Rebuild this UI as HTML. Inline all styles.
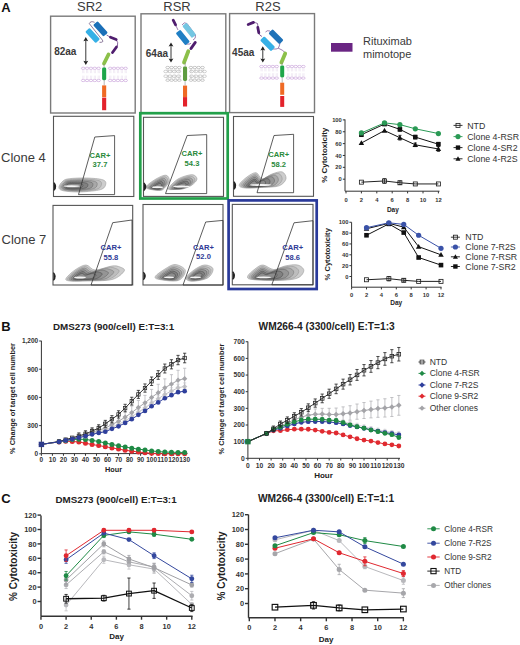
<!DOCTYPE html>
<html><head><meta charset="utf-8"><style>
html,body{margin:0;padding:0;background:#fff;width:520px;height:645px;overflow:hidden}
svg{display:block}
text{font-family:"Liberation Sans", sans-serif}
</style></head><body>
<svg width="520" height="645" viewBox="0 0 520 645" font-family='"Liberation Sans", sans-serif'>
<rect x="0.00" y="0.00" width="520.00" height="645.00" fill="#ffffff" stroke="none" stroke-width="1" />
<text x="1.20" y="11.80" font-size="13" font-weight="bold" text-anchor="start" fill="#111" >A</text>
<text x="89.70" y="11.00" font-size="13" font-weight="normal" text-anchor="middle" fill="#3a3a3a" >SR2</text>
<text x="177.00" y="10.60" font-size="13" font-weight="normal" text-anchor="middle" fill="#3a3a3a" >RSR</text>
<text x="268.00" y="10.60" font-size="13" font-weight="normal" text-anchor="middle" fill="#3a3a3a" >R2S</text>
<rect x="50.60" y="16.20" width="84.60" height="96.80" fill="none" stroke="#7a7a7a" stroke-width="1.4" />
<rect x="141.00" y="13.80" width="84.80" height="99.00" fill="none" stroke="#7a7a7a" stroke-width="1.4" />
<rect x="229.60" y="13.60" width="84.90" height="99.00" fill="none" stroke="#7a7a7a" stroke-width="1.4" />
<rect x="331.00" y="43.00" width="21.50" height="8.70" fill="#6a2583" stroke="none" stroke-width="1" />
<text x="363.00" y="45.30" font-size="11" font-weight="normal" text-anchor="start" fill="#3a3a3a" >Rituximab</text>
<text x="363.00" y="57.80" font-size="11" font-weight="normal" text-anchor="start" fill="#3a3a3a" >mimotope</text>
<text x="54.20" y="54.60" font-size="10" font-weight="bold" text-anchor="start" fill="#3a3a3a" >82aa</text>
<line x1="85.80" y1="39.50" x2="85.80" y2="62.50" stroke="#222" stroke-width="0.9" />
<polygon points="85.80,37.00 88.20,41.20 85.80,40.40 83.40,41.20" stroke="none" stroke-width="1" fill="#222" />
<polygon points="85.80,65.00 88.20,60.80 85.80,61.60 83.40,60.80" stroke="none" stroke-width="1" fill="#222" />
<ellipse cx="83.20" cy="68.30" rx="1.85" ry="1.15" fill="none" stroke="#c49ad6" stroke-width="0.6"/>
<path d="M82.60,69.60 L82.80,73.20 M83.80,69.60 L84.00,73.20" fill="none" stroke="#e4d8ea" stroke-width="0.5"/>
<ellipse cx="87.05" cy="68.30" rx="1.85" ry="1.15" fill="none" stroke="#c49ad6" stroke-width="0.6"/>
<path d="M86.45,69.60 L86.65,73.20 M87.65,69.60 L87.85,73.20" fill="none" stroke="#e4d8ea" stroke-width="0.5"/>
<ellipse cx="90.91" cy="68.30" rx="1.85" ry="1.15" fill="none" stroke="#c49ad6" stroke-width="0.6"/>
<path d="M90.31,69.60 L90.51,73.20 M91.51,69.60 L91.71,73.20" fill="none" stroke="#e4d8ea" stroke-width="0.5"/>
<ellipse cx="94.76" cy="68.30" rx="1.85" ry="1.15" fill="none" stroke="#c49ad6" stroke-width="0.6"/>
<path d="M94.16,69.60 L94.36,73.20 M95.36,69.60 L95.56,73.20" fill="none" stroke="#e4d8ea" stroke-width="0.5"/>
<ellipse cx="98.62" cy="68.30" rx="1.85" ry="1.15" fill="none" stroke="#c49ad6" stroke-width="0.6"/>
<path d="M98.02,69.60 L98.22,73.20 M99.22,69.60 L99.42,73.20" fill="none" stroke="#e4d8ea" stroke-width="0.5"/>
<ellipse cx="110.18" cy="68.30" rx="1.85" ry="1.15" fill="none" stroke="#c49ad6" stroke-width="0.6"/>
<path d="M109.58,69.60 L109.78,73.20 M110.78,69.60 L110.98,73.20" fill="none" stroke="#e4d8ea" stroke-width="0.5"/>
<ellipse cx="114.04" cy="68.30" rx="1.85" ry="1.15" fill="none" stroke="#c49ad6" stroke-width="0.6"/>
<path d="M113.44,69.60 L113.64,73.20 M114.64,69.60 L114.84,73.20" fill="none" stroke="#e4d8ea" stroke-width="0.5"/>
<ellipse cx="117.89" cy="68.30" rx="1.85" ry="1.15" fill="none" stroke="#c49ad6" stroke-width="0.6"/>
<path d="M117.29,69.60 L117.49,73.20 M118.49,69.60 L118.69,73.20" fill="none" stroke="#e4d8ea" stroke-width="0.5"/>
<ellipse cx="121.75" cy="68.30" rx="1.85" ry="1.15" fill="none" stroke="#c49ad6" stroke-width="0.6"/>
<path d="M121.15,69.60 L121.35,73.20 M122.35,69.60 L122.55,73.20" fill="none" stroke="#e4d8ea" stroke-width="0.5"/>
<ellipse cx="125.60" cy="68.30" rx="1.85" ry="1.15" fill="none" stroke="#c49ad6" stroke-width="0.6"/>
<path d="M125.00,69.60 L125.20,73.20 M126.20,69.60 L126.40,73.20" fill="none" stroke="#e4d8ea" stroke-width="0.5"/>
<ellipse cx="83.20" cy="80.50" rx="1.85" ry="1.15" fill="none" stroke="#c49ad6" stroke-width="0.6"/>
<path d="M82.60,79.20 L82.80,75.60 M83.80,79.20 L84.00,75.60" fill="none" stroke="#e4d8ea" stroke-width="0.5"/>
<ellipse cx="87.05" cy="80.50" rx="1.85" ry="1.15" fill="none" stroke="#c49ad6" stroke-width="0.6"/>
<path d="M86.45,79.20 L86.65,75.60 M87.65,79.20 L87.85,75.60" fill="none" stroke="#e4d8ea" stroke-width="0.5"/>
<ellipse cx="90.91" cy="80.50" rx="1.85" ry="1.15" fill="none" stroke="#c49ad6" stroke-width="0.6"/>
<path d="M90.31,79.20 L90.51,75.60 M91.51,79.20 L91.71,75.60" fill="none" stroke="#e4d8ea" stroke-width="0.5"/>
<ellipse cx="94.76" cy="80.50" rx="1.85" ry="1.15" fill="none" stroke="#c49ad6" stroke-width="0.6"/>
<path d="M94.16,79.20 L94.36,75.60 M95.36,79.20 L95.56,75.60" fill="none" stroke="#e4d8ea" stroke-width="0.5"/>
<ellipse cx="98.62" cy="80.50" rx="1.85" ry="1.15" fill="none" stroke="#c49ad6" stroke-width="0.6"/>
<path d="M98.02,79.20 L98.22,75.60 M99.22,79.20 L99.42,75.60" fill="none" stroke="#e4d8ea" stroke-width="0.5"/>
<ellipse cx="110.18" cy="80.50" rx="1.85" ry="1.15" fill="none" stroke="#c49ad6" stroke-width="0.6"/>
<path d="M109.58,79.20 L109.78,75.60 M110.78,79.20 L110.98,75.60" fill="none" stroke="#e4d8ea" stroke-width="0.5"/>
<ellipse cx="114.04" cy="80.50" rx="1.85" ry="1.15" fill="none" stroke="#c49ad6" stroke-width="0.6"/>
<path d="M113.44,79.20 L113.64,75.60 M114.64,79.20 L114.84,75.60" fill="none" stroke="#e4d8ea" stroke-width="0.5"/>
<ellipse cx="117.89" cy="80.50" rx="1.85" ry="1.15" fill="none" stroke="#c49ad6" stroke-width="0.6"/>
<path d="M117.29,79.20 L117.49,75.60 M118.49,79.20 L118.69,75.60" fill="none" stroke="#e4d8ea" stroke-width="0.5"/>
<ellipse cx="121.75" cy="80.50" rx="1.85" ry="1.15" fill="none" stroke="#c49ad6" stroke-width="0.6"/>
<path d="M121.15,79.20 L121.35,75.60 M122.35,79.20 L122.55,75.60" fill="none" stroke="#e4d8ea" stroke-width="0.5"/>
<ellipse cx="125.60" cy="80.50" rx="1.85" ry="1.15" fill="none" stroke="#c49ad6" stroke-width="0.6"/>
<path d="M125.00,79.20 L125.20,75.60 M126.20,79.20 L126.40,75.60" fill="none" stroke="#e4d8ea" stroke-width="0.5"/>
<rect x="-7.75" y="-3.00" width="15.50" height="6.00" rx="1.2" fill="#1a6fb8" transform="translate(100.50,28.90) rotate(48.0)"/>
<rect x="-7.75" y="-3.00" width="15.50" height="6.00" rx="1.2" fill="#36b0e6" transform="translate(92.60,35.50) rotate(48.0)"/>
<path d="M94.6,22.3 Q90.5,20.6 89.3,23.6 L102.4,40.1 Q104,42.6 99.5,42.3" fill="none" stroke="#5a4070" stroke-width="0.7"/>
<path d="M106.6,35 Q109,36.5 111,37.6" fill="none" stroke="#5a2a7a" stroke-width="0.7"/>
<path d="M116,39.5 Q118.5,42 117.5,46" fill="none" stroke="#5a2a7a" stroke-width="0.7"/>
<line x1="110.50" y1="37.20" x2="116.20" y2="39.50" stroke="#4f1d6e" stroke-width="2.8" stroke-linecap="round"/>
<line x1="116.50" y1="47.00" x2="112.50" y2="52.50" stroke="#4f1d6e" stroke-width="2.8" stroke-linecap="round"/>
<line x1="108.50" y1="54.50" x2="104.00" y2="63.50" stroke="#8cc04a" stroke-width="3.8" stroke-linecap="round"/>
<line x1="104.00" y1="64.00" x2="104.20" y2="68.00" stroke="#888" stroke-width="0.6" />
<rect x="102.1" y="67.5" width="4.1" height="12.7" rx="1.4" fill="#1ea64a"/>
<line x1="104.20" y1="80.00" x2="104.20" y2="85.50" stroke="#888" stroke-width="0.6" />
<rect x="102.1" y="85.4" width="4.1" height="11.7" fill="#ef6a24"/>
<rect x="102.1" y="97.6" width="4.1" height="12.6" fill="#e3222b"/>
<text x="145.80" y="56.50" font-size="10" font-weight="bold" text-anchor="start" fill="#3a3a3a" >64aa</text>
<line x1="171.00" y1="44.90" x2="171.00" y2="60.10" stroke="#222" stroke-width="0.9" />
<polygon points="171.00,42.40 173.40,46.60 171.00,45.80 168.60,46.60" stroke="none" stroke-width="1" fill="#222" />
<polygon points="171.00,62.60 173.40,58.40 171.00,59.20 168.60,58.40" stroke="none" stroke-width="1" fill="#222" />
<ellipse cx="167.70" cy="67.50" rx="1.85" ry="1.15" fill="none" stroke="#a4a4a4" stroke-width="0.6"/>
<path d="M167.10,68.80 L167.30,72.40 M168.30,68.80 L168.50,72.40" fill="none" stroke="#c8c8c8" stroke-width="0.5"/>
<ellipse cx="171.57" cy="67.50" rx="1.85" ry="1.15" fill="none" stroke="#a4a4a4" stroke-width="0.6"/>
<path d="M170.97,68.80 L171.17,72.40 M172.17,68.80 L172.37,72.40" fill="none" stroke="#c8c8c8" stroke-width="0.5"/>
<ellipse cx="175.43" cy="67.50" rx="1.85" ry="1.15" fill="none" stroke="#a4a4a4" stroke-width="0.6"/>
<path d="M174.83,68.80 L175.03,72.40 M176.03,68.80 L176.23,72.40" fill="none" stroke="#c8c8c8" stroke-width="0.5"/>
<ellipse cx="179.30" cy="67.50" rx="1.85" ry="1.15" fill="none" stroke="#a4a4a4" stroke-width="0.6"/>
<path d="M178.70,68.80 L178.90,72.40 M179.90,68.80 L180.10,72.40" fill="none" stroke="#c8c8c8" stroke-width="0.5"/>
<ellipse cx="190.90" cy="67.50" rx="1.85" ry="1.15" fill="none" stroke="#a4a4a4" stroke-width="0.6"/>
<path d="M190.30,68.80 L190.50,72.40 M191.50,68.80 L191.70,72.40" fill="none" stroke="#c8c8c8" stroke-width="0.5"/>
<ellipse cx="194.77" cy="67.50" rx="1.85" ry="1.15" fill="none" stroke="#a4a4a4" stroke-width="0.6"/>
<path d="M194.17,68.80 L194.37,72.40 M195.37,68.80 L195.57,72.40" fill="none" stroke="#c8c8c8" stroke-width="0.5"/>
<ellipse cx="198.63" cy="67.50" rx="1.85" ry="1.15" fill="none" stroke="#a4a4a4" stroke-width="0.6"/>
<path d="M198.03,68.80 L198.23,72.40 M199.23,68.80 L199.43,72.40" fill="none" stroke="#c8c8c8" stroke-width="0.5"/>
<ellipse cx="202.50" cy="67.50" rx="1.85" ry="1.15" fill="none" stroke="#a4a4a4" stroke-width="0.6"/>
<path d="M201.90,68.80 L202.10,72.40 M203.10,68.80 L203.30,72.40" fill="none" stroke="#c8c8c8" stroke-width="0.5"/>
<ellipse cx="167.70" cy="80.20" rx="1.85" ry="1.15" fill="none" stroke="#a4a4a4" stroke-width="0.6"/>
<path d="M167.10,78.90 L167.30,75.30 M168.30,78.90 L168.50,75.30" fill="none" stroke="#c8c8c8" stroke-width="0.5"/>
<ellipse cx="171.57" cy="80.20" rx="1.85" ry="1.15" fill="none" stroke="#a4a4a4" stroke-width="0.6"/>
<path d="M170.97,78.90 L171.17,75.30 M172.17,78.90 L172.37,75.30" fill="none" stroke="#c8c8c8" stroke-width="0.5"/>
<ellipse cx="175.43" cy="80.20" rx="1.85" ry="1.15" fill="none" stroke="#a4a4a4" stroke-width="0.6"/>
<path d="M174.83,78.90 L175.03,75.30 M176.03,78.90 L176.23,75.30" fill="none" stroke="#c8c8c8" stroke-width="0.5"/>
<ellipse cx="179.30" cy="80.20" rx="1.85" ry="1.15" fill="none" stroke="#a4a4a4" stroke-width="0.6"/>
<path d="M178.70,78.90 L178.90,75.30 M179.90,78.90 L180.10,75.30" fill="none" stroke="#c8c8c8" stroke-width="0.5"/>
<ellipse cx="190.90" cy="80.20" rx="1.85" ry="1.15" fill="none" stroke="#a4a4a4" stroke-width="0.6"/>
<path d="M190.30,78.90 L190.50,75.30 M191.50,78.90 L191.70,75.30" fill="none" stroke="#c8c8c8" stroke-width="0.5"/>
<ellipse cx="194.77" cy="80.20" rx="1.85" ry="1.15" fill="none" stroke="#a4a4a4" stroke-width="0.6"/>
<path d="M194.17,78.90 L194.37,75.30 M195.37,78.90 L195.57,75.30" fill="none" stroke="#c8c8c8" stroke-width="0.5"/>
<ellipse cx="198.63" cy="80.20" rx="1.85" ry="1.15" fill="none" stroke="#a4a4a4" stroke-width="0.6"/>
<path d="M198.03,78.90 L198.23,75.30 M199.23,78.90 L199.43,75.30" fill="none" stroke="#c8c8c8" stroke-width="0.5"/>
<ellipse cx="202.50" cy="80.20" rx="1.85" ry="1.15" fill="none" stroke="#a4a4a4" stroke-width="0.6"/>
<path d="M201.90,78.90 L202.10,75.30 M203.10,78.90 L203.30,75.30" fill="none" stroke="#c8c8c8" stroke-width="0.5"/>
<ellipse cx="165.80" cy="71.50" rx="2.0" ry="1.3" fill="none" stroke="#acacac" stroke-width="0.55"/>
<ellipse cx="170.09" cy="71.50" rx="2.0" ry="1.3" fill="none" stroke="#acacac" stroke-width="0.55"/>
<ellipse cx="174.38" cy="71.50" rx="2.0" ry="1.3" fill="none" stroke="#acacac" stroke-width="0.55"/>
<ellipse cx="178.67" cy="71.50" rx="2.0" ry="1.3" fill="none" stroke="#acacac" stroke-width="0.55"/>
<ellipse cx="191.53" cy="71.50" rx="2.0" ry="1.3" fill="none" stroke="#acacac" stroke-width="0.55"/>
<ellipse cx="195.82" cy="71.50" rx="2.0" ry="1.3" fill="none" stroke="#acacac" stroke-width="0.55"/>
<ellipse cx="200.11" cy="71.50" rx="2.0" ry="1.3" fill="none" stroke="#acacac" stroke-width="0.55"/>
<ellipse cx="204.40" cy="71.50" rx="2.0" ry="1.3" fill="none" stroke="#acacac" stroke-width="0.55"/>
<ellipse cx="165.80" cy="76.20" rx="2.0" ry="1.3" fill="none" stroke="#acacac" stroke-width="0.55"/>
<ellipse cx="170.09" cy="76.20" rx="2.0" ry="1.3" fill="none" stroke="#acacac" stroke-width="0.55"/>
<ellipse cx="174.38" cy="76.20" rx="2.0" ry="1.3" fill="none" stroke="#acacac" stroke-width="0.55"/>
<ellipse cx="178.67" cy="76.20" rx="2.0" ry="1.3" fill="none" stroke="#acacac" stroke-width="0.55"/>
<ellipse cx="191.53" cy="76.20" rx="2.0" ry="1.3" fill="none" stroke="#acacac" stroke-width="0.55"/>
<ellipse cx="195.82" cy="76.20" rx="2.0" ry="1.3" fill="none" stroke="#acacac" stroke-width="0.55"/>
<ellipse cx="200.11" cy="76.20" rx="2.0" ry="1.3" fill="none" stroke="#acacac" stroke-width="0.55"/>
<ellipse cx="204.40" cy="76.20" rx="2.0" ry="1.3" fill="none" stroke="#acacac" stroke-width="0.55"/>
<line x1="173.20" y1="20.20" x2="175.60" y2="24.80" stroke="#4f1d6e" stroke-width="2.8" stroke-linecap="round"/>
<line x1="175.60" y1="25.00" x2="178.00" y2="30.00" stroke="#5a2a7a" stroke-width="0.6" />
<path d="M183,41.5 Q186,45.5 190,44 L191,43" fill="none" stroke="#5a2a7a" stroke-width="0.6"/>
<path d="M182,25 Q184,21.5 187,23.5 L195.5,35 Q196,39 193,40" fill="none" stroke="#5a2a7a" stroke-width="0.6"/>
<rect x="-7.75" y="-2.90" width="15.50" height="5.80" rx="1.2" fill="#1f7fc4" transform="translate(182.80,37.50) rotate(51.0)"/>
<rect x="-7.75" y="-2.70" width="15.50" height="5.40" rx="1.2" fill="#74c6e2" transform="translate(189.20,30.40) rotate(51.0)"/>
<line x1="195.20" y1="42.50" x2="191.00" y2="48.50" stroke="#4f1d6e" stroke-width="3.0" stroke-linecap="round"/>
<line x1="188.30" y1="51.30" x2="184.00" y2="62.50" stroke="#8cc04a" stroke-width="3.8" stroke-linecap="round"/>
<line x1="185.20" y1="62.50" x2="185.20" y2="66.50" stroke="#888" stroke-width="0.6" />
<rect x="183" y="66.5" width="4.1" height="14.5" rx="1.4" fill="#5e9c40"/>
<line x1="185.10" y1="81.00" x2="185.10" y2="85.60" stroke="#888" stroke-width="0.6" />
<rect x="183" y="85.6" width="4.1" height="11.5" fill="#ef6a24"/>
<rect x="183" y="97.1" width="4.1" height="9.4" fill="#e3222b"/>
<text x="232.10" y="56.00" font-size="10" font-weight="bold" text-anchor="start" fill="#3a3a3a" >45aa</text>
<line x1="262.80" y1="48.80" x2="262.80" y2="60.10" stroke="#222" stroke-width="0.9" />
<polygon points="262.80,46.30 265.20,50.50 262.80,49.70 260.40,50.50" stroke="none" stroke-width="1" fill="#222" />
<polygon points="262.80,62.60 265.20,58.40 262.80,59.20 260.40,58.40" stroke="none" stroke-width="1" fill="#222" />
<ellipse cx="261.50" cy="66.50" rx="1.85" ry="1.15" fill="none" stroke="#c49ad6" stroke-width="0.6"/>
<path d="M260.90,67.80 L261.10,71.40 M262.10,67.80 L262.30,71.40" fill="none" stroke="#e4d8ea" stroke-width="0.5"/>
<ellipse cx="265.30" cy="66.50" rx="1.85" ry="1.15" fill="none" stroke="#c49ad6" stroke-width="0.6"/>
<path d="M264.70,67.80 L264.90,71.40 M265.90,67.80 L266.10,71.40" fill="none" stroke="#e4d8ea" stroke-width="0.5"/>
<ellipse cx="269.10" cy="66.50" rx="1.85" ry="1.15" fill="none" stroke="#c49ad6" stroke-width="0.6"/>
<path d="M268.50,67.80 L268.70,71.40 M269.70,67.80 L269.90,71.40" fill="none" stroke="#e4d8ea" stroke-width="0.5"/>
<ellipse cx="272.90" cy="66.50" rx="1.85" ry="1.15" fill="none" stroke="#c49ad6" stroke-width="0.6"/>
<path d="M272.30,67.80 L272.50,71.40 M273.50,67.80 L273.70,71.40" fill="none" stroke="#e4d8ea" stroke-width="0.5"/>
<ellipse cx="276.70" cy="66.50" rx="1.85" ry="1.15" fill="none" stroke="#c49ad6" stroke-width="0.6"/>
<path d="M276.10,67.80 L276.30,71.40 M277.30,67.80 L277.50,71.40" fill="none" stroke="#e4d8ea" stroke-width="0.5"/>
<ellipse cx="288.10" cy="66.50" rx="1.85" ry="1.15" fill="none" stroke="#c49ad6" stroke-width="0.6"/>
<path d="M287.50,67.80 L287.70,71.40 M288.70,67.80 L288.90,71.40" fill="none" stroke="#e4d8ea" stroke-width="0.5"/>
<ellipse cx="291.90" cy="66.50" rx="1.85" ry="1.15" fill="none" stroke="#c49ad6" stroke-width="0.6"/>
<path d="M291.30,67.80 L291.50,71.40 M292.50,67.80 L292.70,71.40" fill="none" stroke="#e4d8ea" stroke-width="0.5"/>
<ellipse cx="295.70" cy="66.50" rx="1.85" ry="1.15" fill="none" stroke="#c49ad6" stroke-width="0.6"/>
<path d="M295.10,67.80 L295.30,71.40 M296.30,67.80 L296.50,71.40" fill="none" stroke="#e4d8ea" stroke-width="0.5"/>
<ellipse cx="299.50" cy="66.50" rx="1.85" ry="1.15" fill="none" stroke="#c49ad6" stroke-width="0.6"/>
<path d="M298.90,67.80 L299.10,71.40 M300.10,67.80 L300.30,71.40" fill="none" stroke="#e4d8ea" stroke-width="0.5"/>
<ellipse cx="303.30" cy="66.50" rx="1.85" ry="1.15" fill="none" stroke="#c49ad6" stroke-width="0.6"/>
<path d="M302.70,67.80 L302.90,71.40 M303.90,67.80 L304.10,71.40" fill="none" stroke="#e4d8ea" stroke-width="0.5"/>
<ellipse cx="261.50" cy="78.10" rx="1.85" ry="1.15" fill="none" stroke="#c49ad6" stroke-width="0.6"/>
<path d="M260.90,76.80 L261.10,73.20 M262.10,76.80 L262.30,73.20" fill="none" stroke="#e4d8ea" stroke-width="0.5"/>
<ellipse cx="265.30" cy="78.10" rx="1.85" ry="1.15" fill="none" stroke="#c49ad6" stroke-width="0.6"/>
<path d="M264.70,76.80 L264.90,73.20 M265.90,76.80 L266.10,73.20" fill="none" stroke="#e4d8ea" stroke-width="0.5"/>
<ellipse cx="269.10" cy="78.10" rx="1.85" ry="1.15" fill="none" stroke="#c49ad6" stroke-width="0.6"/>
<path d="M268.50,76.80 L268.70,73.20 M269.70,76.80 L269.90,73.20" fill="none" stroke="#e4d8ea" stroke-width="0.5"/>
<ellipse cx="272.90" cy="78.10" rx="1.85" ry="1.15" fill="none" stroke="#c49ad6" stroke-width="0.6"/>
<path d="M272.30,76.80 L272.50,73.20 M273.50,76.80 L273.70,73.20" fill="none" stroke="#e4d8ea" stroke-width="0.5"/>
<ellipse cx="276.70" cy="78.10" rx="1.85" ry="1.15" fill="none" stroke="#c49ad6" stroke-width="0.6"/>
<path d="M276.10,76.80 L276.30,73.20 M277.30,76.80 L277.50,73.20" fill="none" stroke="#e4d8ea" stroke-width="0.5"/>
<ellipse cx="288.10" cy="78.10" rx="1.85" ry="1.15" fill="none" stroke="#c49ad6" stroke-width="0.6"/>
<path d="M287.50,76.80 L287.70,73.20 M288.70,76.80 L288.90,73.20" fill="none" stroke="#e4d8ea" stroke-width="0.5"/>
<ellipse cx="291.90" cy="78.10" rx="1.85" ry="1.15" fill="none" stroke="#c49ad6" stroke-width="0.6"/>
<path d="M291.30,76.80 L291.50,73.20 M292.50,76.80 L292.70,73.20" fill="none" stroke="#e4d8ea" stroke-width="0.5"/>
<ellipse cx="295.70" cy="78.10" rx="1.85" ry="1.15" fill="none" stroke="#c49ad6" stroke-width="0.6"/>
<path d="M295.10,76.80 L295.30,73.20 M296.30,76.80 L296.50,73.20" fill="none" stroke="#e4d8ea" stroke-width="0.5"/>
<ellipse cx="299.50" cy="78.10" rx="1.85" ry="1.15" fill="none" stroke="#c49ad6" stroke-width="0.6"/>
<path d="M298.90,76.80 L299.10,73.20 M300.10,76.80 L300.30,73.20" fill="none" stroke="#e4d8ea" stroke-width="0.5"/>
<ellipse cx="303.30" cy="78.10" rx="1.85" ry="1.15" fill="none" stroke="#c49ad6" stroke-width="0.6"/>
<path d="M302.70,76.80 L302.90,73.20 M303.90,76.80 L304.10,73.20" fill="none" stroke="#e4d8ea" stroke-width="0.5"/>
<path d="M248,24.6 Q253,21 257.5,23.5 L258.9,33.3 Q259.5,35.5 262,36.5" fill="none" stroke="#5a2a7a" stroke-width="0.7"/>
<line x1="248.20" y1="24.50" x2="253.50" y2="22.40" stroke="#4f1d6e" stroke-width="2.8" stroke-linecap="round"/>
<line x1="257.80" y1="27.50" x2="258.80" y2="32.80" stroke="#4f1d6e" stroke-width="2.8" stroke-linecap="round"/>
<path d="M265.5,32 Q267,30 270,31 L280,42 Q279.5,49 276,49 L272,49" fill="none" stroke="#5a2a7a" stroke-width="0.6"/>
<rect x="-7.75" y="-2.95" width="15.50" height="5.90" rx="1.2" fill="#1f72b8" transform="translate(276.00,36.70) rotate(45.0)"/>
<rect x="-7.75" y="-2.95" width="15.50" height="5.90" rx="1.2" fill="#36b0e6" transform="translate(267.60,43.80) rotate(45.0)"/>
<path d="M278,48 Q283,50 285.5,53" fill="none" stroke="#5a2a7a" stroke-width="0.6"/>
<line x1="285.20" y1="53.50" x2="281.40" y2="62.50" stroke="#8cc04a" stroke-width="3.8" stroke-linecap="round"/>
<line x1="282.20" y1="62.50" x2="282.20" y2="65.50" stroke="#888" stroke-width="0.6" />
<rect x="280.2" y="65.4" width="4.0" height="12.1" rx="1.4" fill="#1ea64a"/>
<line x1="282.20" y1="77.50" x2="282.20" y2="82.70" stroke="#888" stroke-width="0.6" />
<rect x="280.2" y="82.7" width="4.0" height="12.1" fill="#ef6a24"/>
<rect x="280.2" y="96" width="4.0" height="10.9" fill="#e3222b"/>
<text x="1.00" y="161.80" font-size="13" font-weight="normal" text-anchor="start" fill="#3a3a3a" >Clone 4</text>
<text x="1.50" y="243.70" font-size="13" font-weight="normal" text-anchor="start" fill="#3a3a3a" >Clone 7</text>
<rect x="53.50" y="116.30" width="80.30" height="80.20" fill="#fff" stroke="#555" stroke-width="1.1" />
<path d="M58.90,187.30 C58.82,185.67 61.27,182.43 63.00,181.00 C64.73,179.57 65.37,179.20 69.30,178.70 C73.23,178.20 81.02,177.82 86.60,178.00 C92.18,178.18 99.62,178.73 102.80,179.80 C105.98,180.87 106.08,182.77 105.70,184.40 C105.32,186.03 104.65,188.35 100.50,189.60 C96.35,190.85 86.97,191.70 80.80,191.90 C74.63,192.10 67.15,191.57 63.50,190.80 C59.85,190.03 58.98,188.93 58.90,187.30Z" fill="#cdcdcd" stroke="#9a9a9a" stroke-width="0.6"/>
<path d="M58.90,187.30 C58.82,185.67 61.27,182.43 63.00,181.00 C64.73,179.57 65.37,179.20 69.30,178.70 C73.23,178.20 81.02,177.82 86.60,178.00 C92.18,178.18 99.62,178.73 102.80,179.80 C105.98,180.87 106.08,182.77 105.70,184.40 C105.32,186.03 104.65,188.35 100.50,189.60 C96.35,190.85 86.97,191.70 80.80,191.90 C74.63,192.10 67.15,191.57 63.50,190.80 C59.85,190.03 58.98,188.93 58.90,187.30Z" transform="translate(70.00,186.50) scale(0.88) translate(-70.00,-186.50)" fill="#bdbdbd" stroke="#8a8a8a" stroke-width="0.51"/>
<path d="M58.90,187.30 C58.82,185.67 61.27,182.43 63.00,181.00 C64.73,179.57 65.37,179.20 69.30,178.70 C73.23,178.20 81.02,177.82 86.60,178.00 C92.18,178.18 99.62,178.73 102.80,179.80 C105.98,180.87 106.08,182.77 105.70,184.40 C105.32,186.03 104.65,188.35 100.50,189.60 C96.35,190.85 86.97,191.70 80.80,191.90 C74.63,192.10 67.15,191.57 63.50,190.80 C59.85,190.03 58.98,188.93 58.90,187.30Z" transform="translate(70.00,186.50) scale(0.76) translate(-70.00,-186.50)" fill="#a8a8a8" stroke="#6a6a6a" stroke-width="0.59"/>
<path d="M58.90,187.30 C58.82,185.67 61.27,182.43 63.00,181.00 C64.73,179.57 65.37,179.20 69.30,178.70 C73.23,178.20 81.02,177.82 86.60,178.00 C92.18,178.18 99.62,178.73 102.80,179.80 C105.98,180.87 106.08,182.77 105.70,184.40 C105.32,186.03 104.65,188.35 100.50,189.60 C96.35,190.85 86.97,191.70 80.80,191.90 C74.63,192.10 67.15,191.57 63.50,190.80 C59.85,190.03 58.98,188.93 58.90,187.30Z" transform="translate(70.00,186.50) scale(0.64) translate(-70.00,-186.50)" fill="#959595" stroke="#555" stroke-width="0.70"/>
<path d="M58.90,187.30 C58.82,185.67 61.27,182.43 63.00,181.00 C64.73,179.57 65.37,179.20 69.30,178.70 C73.23,178.20 81.02,177.82 86.60,178.00 C92.18,178.18 99.62,178.73 102.80,179.80 C105.98,180.87 106.08,182.77 105.70,184.40 C105.32,186.03 104.65,188.35 100.50,189.60 C96.35,190.85 86.97,191.70 80.80,191.90 C74.63,192.10 67.15,191.57 63.50,190.80 C59.85,190.03 58.98,188.93 58.90,187.30Z" transform="translate(70.00,186.50) scale(0.5) translate(-70.00,-186.50)" fill="#808080" stroke="#3e3e3e" stroke-width="0.90"/>
<path d="M58.90,187.30 C58.82,185.67 61.27,182.43 63.00,181.00 C64.73,179.57 65.37,179.20 69.30,178.70 C73.23,178.20 81.02,177.82 86.60,178.00 C92.18,178.18 99.62,178.73 102.80,179.80 C105.98,180.87 106.08,182.77 105.70,184.40 C105.32,186.03 104.65,188.35 100.50,189.60 C96.35,190.85 86.97,191.70 80.80,191.90 C74.63,192.10 67.15,191.57 63.50,190.80 C59.85,190.03 58.98,188.93 58.90,187.30Z" transform="translate(70.00,186.50) scale(0.36) translate(-70.00,-186.50)" fill="#8c8c8c" stroke="#333" stroke-width="1.25"/>
<ellipse cx="71.60" cy="186.20" rx="8.10" ry="0.9" fill="#f4f4f4"/>
<path d="M53.90,182.70 q3.6,3.8 0,7.6" fill="#222" stroke="#222" stroke-width="1.2"/>
<polyline points="94.80,137.00 114.60,135.60 114.60,194.60 78.50,194.60 94.80,137.00" stroke="#333" stroke-width="0.8" fill="none" stroke-linejoin="round" />
<text x="100.00" y="158.10" font-size="7.6" font-weight="bold" text-anchor="middle" fill="#2a8a3c" >CAR+</text>
<text x="100.00" y="167.30" font-size="7.6" font-weight="bold" text-anchor="middle" fill="#2a8a3c" >37.7</text>
<rect x="143.50" y="117.30" width="80.00" height="79.10" fill="#fff" stroke="#555" stroke-width="1.1" />
<path d="M146.00,186.80 C146.83,185.05 152.67,180.93 156.00,179.00 C159.33,177.07 163.77,174.90 166.00,175.20 C168.23,175.50 169.57,178.75 169.40,180.80 C169.23,182.85 166.43,185.92 165.00,187.50 C163.57,189.08 163.13,189.97 160.80,190.30 C158.47,190.63 153.47,190.08 151.00,189.50 C148.53,188.92 145.17,188.55 146.00,186.80Z" fill="#cdcdcd" stroke="#9a9a9a" stroke-width="0.6"/>
<path d="M146.00,186.80 C146.83,185.05 152.67,180.93 156.00,179.00 C159.33,177.07 163.77,174.90 166.00,175.20 C168.23,175.50 169.57,178.75 169.40,180.80 C169.23,182.85 166.43,185.92 165.00,187.50 C163.57,189.08 163.13,189.97 160.80,190.30 C158.47,190.63 153.47,190.08 151.00,189.50 C148.53,188.92 145.17,188.55 146.00,186.80Z" transform="translate(157.00,188.00) scale(0.88) translate(-157.00,-188.00)" fill="#bdbdbd" stroke="#8a8a8a" stroke-width="0.51"/>
<path d="M146.00,186.80 C146.83,185.05 152.67,180.93 156.00,179.00 C159.33,177.07 163.77,174.90 166.00,175.20 C168.23,175.50 169.57,178.75 169.40,180.80 C169.23,182.85 166.43,185.92 165.00,187.50 C163.57,189.08 163.13,189.97 160.80,190.30 C158.47,190.63 153.47,190.08 151.00,189.50 C148.53,188.92 145.17,188.55 146.00,186.80Z" transform="translate(157.00,188.00) scale(0.76) translate(-157.00,-188.00)" fill="#a8a8a8" stroke="#6a6a6a" stroke-width="0.59"/>
<path d="M146.00,186.80 C146.83,185.05 152.67,180.93 156.00,179.00 C159.33,177.07 163.77,174.90 166.00,175.20 C168.23,175.50 169.57,178.75 169.40,180.80 C169.23,182.85 166.43,185.92 165.00,187.50 C163.57,189.08 163.13,189.97 160.80,190.30 C158.47,190.63 153.47,190.08 151.00,189.50 C148.53,188.92 145.17,188.55 146.00,186.80Z" transform="translate(157.00,188.00) scale(0.64) translate(-157.00,-188.00)" fill="#959595" stroke="#555" stroke-width="0.70"/>
<path d="M146.00,186.80 C146.83,185.05 152.67,180.93 156.00,179.00 C159.33,177.07 163.77,174.90 166.00,175.20 C168.23,175.50 169.57,178.75 169.40,180.80 C169.23,182.85 166.43,185.92 165.00,187.50 C163.57,189.08 163.13,189.97 160.80,190.30 C158.47,190.63 153.47,190.08 151.00,189.50 C148.53,188.92 145.17,188.55 146.00,186.80Z" transform="translate(157.00,188.00) scale(0.5) translate(-157.00,-188.00)" fill="#808080" stroke="#3e3e3e" stroke-width="0.90"/>
<path d="M146.00,186.80 C146.83,185.05 152.67,180.93 156.00,179.00 C159.33,177.07 163.77,174.90 166.00,175.20 C168.23,175.50 169.57,178.75 169.40,180.80 C169.23,182.85 166.43,185.92 165.00,187.50 C163.57,189.08 163.13,189.97 160.80,190.30 C158.47,190.63 153.47,190.08 151.00,189.50 C148.53,188.92 145.17,188.55 146.00,186.80Z" transform="translate(157.00,188.00) scale(0.36) translate(-157.00,-188.00)" fill="#8c8c8c" stroke="#333" stroke-width="1.25"/>
<ellipse cx="157.50" cy="187.20" rx="5.50" ry="0.9" fill="#f4f4f4"/>
<path d="M168.50,188.50 C169.17,186.75 174.08,181.30 178.00,179.00 C181.92,176.70 188.83,174.70 192.00,174.70 C195.17,174.70 197.00,177.28 197.00,179.00 C197.00,180.72 194.28,183.37 192.00,185.00 C189.72,186.63 186.30,188.05 183.30,188.80 C180.30,189.55 176.47,189.55 174.00,189.50 C171.53,189.45 167.83,190.25 168.50,188.50Z" fill="#cdcdcd" stroke="#9a9a9a" stroke-width="0.6"/>
<path d="M168.50,188.50 C169.17,186.75 174.08,181.30 178.00,179.00 C181.92,176.70 188.83,174.70 192.00,174.70 C195.17,174.70 197.00,177.28 197.00,179.00 C197.00,180.72 194.28,183.37 192.00,185.00 C189.72,186.63 186.30,188.05 183.30,188.80 C180.30,189.55 176.47,189.55 174.00,189.50 C171.53,189.45 167.83,190.25 168.50,188.50Z" transform="translate(180.00,187.50) scale(0.88) translate(-180.00,-187.50)" fill="#bdbdbd" stroke="#8a8a8a" stroke-width="0.51"/>
<path d="M168.50,188.50 C169.17,186.75 174.08,181.30 178.00,179.00 C181.92,176.70 188.83,174.70 192.00,174.70 C195.17,174.70 197.00,177.28 197.00,179.00 C197.00,180.72 194.28,183.37 192.00,185.00 C189.72,186.63 186.30,188.05 183.30,188.80 C180.30,189.55 176.47,189.55 174.00,189.50 C171.53,189.45 167.83,190.25 168.50,188.50Z" transform="translate(180.00,187.50) scale(0.76) translate(-180.00,-187.50)" fill="#a8a8a8" stroke="#6a6a6a" stroke-width="0.59"/>
<path d="M168.50,188.50 C169.17,186.75 174.08,181.30 178.00,179.00 C181.92,176.70 188.83,174.70 192.00,174.70 C195.17,174.70 197.00,177.28 197.00,179.00 C197.00,180.72 194.28,183.37 192.00,185.00 C189.72,186.63 186.30,188.05 183.30,188.80 C180.30,189.55 176.47,189.55 174.00,189.50 C171.53,189.45 167.83,190.25 168.50,188.50Z" transform="translate(180.00,187.50) scale(0.64) translate(-180.00,-187.50)" fill="#959595" stroke="#555" stroke-width="0.70"/>
<path d="M168.50,188.50 C169.17,186.75 174.08,181.30 178.00,179.00 C181.92,176.70 188.83,174.70 192.00,174.70 C195.17,174.70 197.00,177.28 197.00,179.00 C197.00,180.72 194.28,183.37 192.00,185.00 C189.72,186.63 186.30,188.05 183.30,188.80 C180.30,189.55 176.47,189.55 174.00,189.50 C171.53,189.45 167.83,190.25 168.50,188.50Z" transform="translate(180.00,187.50) scale(0.5) translate(-180.00,-187.50)" fill="#808080" stroke="#3e3e3e" stroke-width="0.90"/>
<path d="M168.50,188.50 C169.17,186.75 174.08,181.30 178.00,179.00 C181.92,176.70 188.83,174.70 192.00,174.70 C195.17,174.70 197.00,177.28 197.00,179.00 C197.00,180.72 194.28,183.37 192.00,185.00 C189.72,186.63 186.30,188.05 183.30,188.80 C180.30,189.55 176.47,189.55 174.00,189.50 C171.53,189.45 167.83,190.25 168.50,188.50Z" transform="translate(180.00,187.50) scale(0.36) translate(-180.00,-187.50)" fill="#8c8c8c" stroke="#333" stroke-width="1.25"/>
<ellipse cx="181.50" cy="186.50" rx="8.50" ry="0.9" fill="#f4f4f4"/>
<path d="M143.90,182.90 q3.6,3.8 0,7.6" fill="#222" stroke="#222" stroke-width="1.2"/>
<polyline points="187.20,135.50 206.70,134.60 206.70,193.60 165.50,193.60 187.20,135.50" stroke="#333" stroke-width="0.8" fill="none" stroke-linejoin="round" />
<text x="192.00" y="156.10" font-size="7.6" font-weight="bold" text-anchor="middle" fill="#2a8a3c" >CAR+</text>
<text x="192.00" y="166.00" font-size="7.6" font-weight="bold" text-anchor="middle" fill="#2a8a3c" >54.3</text>
<rect x="233.50" y="116.50" width="80.00" height="79.80" fill="#fff" stroke="#555" stroke-width="1.1" />
<path d="M239.20,185.00 C239.48,183.17 244.20,179.05 247.00,177.00 C249.80,174.95 253.47,172.40 256.00,172.70 C258.53,173.00 259.53,178.58 262.20,178.80 C264.87,179.02 268.67,175.15 272.00,174.00 C275.33,172.85 279.87,171.10 282.20,171.90 C284.53,172.70 286.50,176.48 286.00,178.80 C285.50,181.12 282.90,184.38 279.20,185.80 C275.50,187.22 269.45,186.93 263.80,187.30 C258.15,187.67 249.40,188.38 245.30,188.00 C241.20,187.62 238.92,186.83 239.20,185.00Z" fill="#cdcdcd" stroke="#9a9a9a" stroke-width="0.6"/>
<path d="M239.20,185.00 C239.48,183.17 244.20,179.05 247.00,177.00 C249.80,174.95 253.47,172.40 256.00,172.70 C258.53,173.00 259.53,178.58 262.20,178.80 C264.87,179.02 268.67,175.15 272.00,174.00 C275.33,172.85 279.87,171.10 282.20,171.90 C284.53,172.70 286.50,176.48 286.00,178.80 C285.50,181.12 282.90,184.38 279.20,185.80 C275.50,187.22 269.45,186.93 263.80,187.30 C258.15,187.67 249.40,188.38 245.30,188.00 C241.20,187.62 238.92,186.83 239.20,185.00Z" transform="translate(254.00,185.50) scale(0.88) translate(-254.00,-185.50)" fill="#bdbdbd" stroke="#8a8a8a" stroke-width="0.51"/>
<path d="M239.20,185.00 C239.48,183.17 244.20,179.05 247.00,177.00 C249.80,174.95 253.47,172.40 256.00,172.70 C258.53,173.00 259.53,178.58 262.20,178.80 C264.87,179.02 268.67,175.15 272.00,174.00 C275.33,172.85 279.87,171.10 282.20,171.90 C284.53,172.70 286.50,176.48 286.00,178.80 C285.50,181.12 282.90,184.38 279.20,185.80 C275.50,187.22 269.45,186.93 263.80,187.30 C258.15,187.67 249.40,188.38 245.30,188.00 C241.20,187.62 238.92,186.83 239.20,185.00Z" transform="translate(254.00,185.50) scale(0.76) translate(-254.00,-185.50)" fill="#a8a8a8" stroke="#6a6a6a" stroke-width="0.59"/>
<path d="M239.20,185.00 C239.48,183.17 244.20,179.05 247.00,177.00 C249.80,174.95 253.47,172.40 256.00,172.70 C258.53,173.00 259.53,178.58 262.20,178.80 C264.87,179.02 268.67,175.15 272.00,174.00 C275.33,172.85 279.87,171.10 282.20,171.90 C284.53,172.70 286.50,176.48 286.00,178.80 C285.50,181.12 282.90,184.38 279.20,185.80 C275.50,187.22 269.45,186.93 263.80,187.30 C258.15,187.67 249.40,188.38 245.30,188.00 C241.20,187.62 238.92,186.83 239.20,185.00Z" transform="translate(254.00,185.50) scale(0.64) translate(-254.00,-185.50)" fill="#959595" stroke="#555" stroke-width="0.70"/>
<path d="M239.20,185.00 C239.48,183.17 244.20,179.05 247.00,177.00 C249.80,174.95 253.47,172.40 256.00,172.70 C258.53,173.00 259.53,178.58 262.20,178.80 C264.87,179.02 268.67,175.15 272.00,174.00 C275.33,172.85 279.87,171.10 282.20,171.90 C284.53,172.70 286.50,176.48 286.00,178.80 C285.50,181.12 282.90,184.38 279.20,185.80 C275.50,187.22 269.45,186.93 263.80,187.30 C258.15,187.67 249.40,188.38 245.30,188.00 C241.20,187.62 238.92,186.83 239.20,185.00Z" transform="translate(254.00,185.50) scale(0.5) translate(-254.00,-185.50)" fill="#808080" stroke="#3e3e3e" stroke-width="0.90"/>
<path d="M239.20,185.00 C239.48,183.17 244.20,179.05 247.00,177.00 C249.80,174.95 253.47,172.40 256.00,172.70 C258.53,173.00 259.53,178.58 262.20,178.80 C264.87,179.02 268.67,175.15 272.00,174.00 C275.33,172.85 279.87,171.10 282.20,171.90 C284.53,172.70 286.50,176.48 286.00,178.80 C285.50,181.12 282.90,184.38 279.20,185.80 C275.50,187.22 269.45,186.93 263.80,187.30 C258.15,187.67 249.40,188.38 245.30,188.00 C241.20,187.62 238.92,186.83 239.20,185.00Z" transform="translate(254.00,185.50) scale(0.36) translate(-254.00,-185.50)" fill="#8c8c8c" stroke="#333" stroke-width="1.25"/>
<ellipse cx="260.75" cy="185.00" rx="10.75" ry="0.9" fill="#f4f4f4"/>
<path d="M233.90,181.70 q3.6,3.8 0,7.6" fill="#222" stroke="#222" stroke-width="1.2"/>
<polyline points="274.00,135.50 293.60,134.30 293.60,192.70 257.00,192.70 274.00,135.50" stroke="#333" stroke-width="0.8" fill="none" stroke-linejoin="round" />
<text x="278.70" y="156.70" font-size="7.6" font-weight="bold" text-anchor="middle" fill="#2a8a3c" >CAR+</text>
<text x="278.70" y="167.00" font-size="7.6" font-weight="bold" text-anchor="middle" fill="#2a8a3c" >58.2</text>
<rect x="53.00" y="205.40" width="79.70" height="79.60" fill="#fff" stroke="#555" stroke-width="1.1" />
<path d="M66.00,278.50 C66.83,276.67 71.67,272.25 75.00,270.00 C78.33,267.75 82.67,265.00 86.00,265.00 C89.33,265.00 90.67,269.83 95.00,270.00 C99.33,270.17 107.83,266.50 112.00,266.00 C116.17,265.50 117.97,266.17 120.00,267.00 C122.03,267.83 125.53,268.92 124.20,271.00 C122.87,273.08 118.53,277.83 112.00,279.50 C105.47,281.17 92.00,280.75 85.00,281.00 C78.00,281.25 73.17,281.42 70.00,281.00 C66.83,280.58 65.17,280.33 66.00,278.50Z" fill="#cdcdcd" stroke="#9a9a9a" stroke-width="0.6"/>
<path d="M66.00,278.50 C66.83,276.67 71.67,272.25 75.00,270.00 C78.33,267.75 82.67,265.00 86.00,265.00 C89.33,265.00 90.67,269.83 95.00,270.00 C99.33,270.17 107.83,266.50 112.00,266.00 C116.17,265.50 117.97,266.17 120.00,267.00 C122.03,267.83 125.53,268.92 124.20,271.00 C122.87,273.08 118.53,277.83 112.00,279.50 C105.47,281.17 92.00,280.75 85.00,281.00 C78.00,281.25 73.17,281.42 70.00,281.00 C66.83,280.58 65.17,280.33 66.00,278.50Z" transform="translate(80.00,278.00) scale(0.88) translate(-80.00,-278.00)" fill="#bdbdbd" stroke="#8a8a8a" stroke-width="0.51"/>
<path d="M66.00,278.50 C66.83,276.67 71.67,272.25 75.00,270.00 C78.33,267.75 82.67,265.00 86.00,265.00 C89.33,265.00 90.67,269.83 95.00,270.00 C99.33,270.17 107.83,266.50 112.00,266.00 C116.17,265.50 117.97,266.17 120.00,267.00 C122.03,267.83 125.53,268.92 124.20,271.00 C122.87,273.08 118.53,277.83 112.00,279.50 C105.47,281.17 92.00,280.75 85.00,281.00 C78.00,281.25 73.17,281.42 70.00,281.00 C66.83,280.58 65.17,280.33 66.00,278.50Z" transform="translate(80.00,278.00) scale(0.76) translate(-80.00,-278.00)" fill="#a8a8a8" stroke="#6a6a6a" stroke-width="0.59"/>
<path d="M66.00,278.50 C66.83,276.67 71.67,272.25 75.00,270.00 C78.33,267.75 82.67,265.00 86.00,265.00 C89.33,265.00 90.67,269.83 95.00,270.00 C99.33,270.17 107.83,266.50 112.00,266.00 C116.17,265.50 117.97,266.17 120.00,267.00 C122.03,267.83 125.53,268.92 124.20,271.00 C122.87,273.08 118.53,277.83 112.00,279.50 C105.47,281.17 92.00,280.75 85.00,281.00 C78.00,281.25 73.17,281.42 70.00,281.00 C66.83,280.58 65.17,280.33 66.00,278.50Z" transform="translate(80.00,278.00) scale(0.64) translate(-80.00,-278.00)" fill="#959595" stroke="#555" stroke-width="0.70"/>
<path d="M66.00,278.50 C66.83,276.67 71.67,272.25 75.00,270.00 C78.33,267.75 82.67,265.00 86.00,265.00 C89.33,265.00 90.67,269.83 95.00,270.00 C99.33,270.17 107.83,266.50 112.00,266.00 C116.17,265.50 117.97,266.17 120.00,267.00 C122.03,267.83 125.53,268.92 124.20,271.00 C122.87,273.08 118.53,277.83 112.00,279.50 C105.47,281.17 92.00,280.75 85.00,281.00 C78.00,281.25 73.17,281.42 70.00,281.00 C66.83,280.58 65.17,280.33 66.00,278.50Z" transform="translate(80.00,278.00) scale(0.5) translate(-80.00,-278.00)" fill="#808080" stroke="#3e3e3e" stroke-width="0.90"/>
<path d="M66.00,278.50 C66.83,276.67 71.67,272.25 75.00,270.00 C78.33,267.75 82.67,265.00 86.00,265.00 C89.33,265.00 90.67,269.83 95.00,270.00 C99.33,270.17 107.83,266.50 112.00,266.00 C116.17,265.50 117.97,266.17 120.00,267.00 C122.03,267.83 125.53,268.92 124.20,271.00 C122.87,273.08 118.53,277.83 112.00,279.50 C105.47,281.17 92.00,280.75 85.00,281.00 C78.00,281.25 73.17,281.42 70.00,281.00 C66.83,280.58 65.17,280.33 66.00,278.50Z" transform="translate(80.00,278.00) scale(0.36) translate(-80.00,-278.00)" fill="#8c8c8c" stroke="#333" stroke-width="1.25"/>
<ellipse cx="80.00" cy="277.50" rx="6.00" ry="0.9" fill="#f4f4f4"/>
<path d="M53.40,272.70 q3.6,3.8 0,7.6" fill="#222" stroke="#222" stroke-width="1.2"/>
<polyline points="112.70,222.70 132.00,220.00 132.00,285.00 91.00,285.00 112.70,222.70" stroke="#333" stroke-width="0.8" fill="none" stroke-linejoin="round" />
<text x="110.90" y="250.40" font-size="7.6" font-weight="bold" text-anchor="middle" fill="#2e3a96" >CAR+</text>
<text x="110.90" y="259.60" font-size="7.6" font-weight="bold" text-anchor="middle" fill="#2e3a96" >55.8</text>
<rect x="143.00" y="204.50" width="80.00" height="80.50" fill="#fff" stroke="#555" stroke-width="1.1" />
<path d="M155.30,276.50 C156.15,274.73 161.67,271.00 165.00,269.00 C168.33,267.00 171.92,264.27 175.30,264.50 C178.68,264.73 184.78,267.75 185.30,270.40 C185.82,273.05 182.63,278.87 178.40,280.40 C174.17,281.93 163.75,280.25 159.90,279.60 C156.05,278.95 154.45,278.27 155.30,276.50Z" fill="#cdcdcd" stroke="#9a9a9a" stroke-width="0.6"/>
<path d="M155.30,276.50 C156.15,274.73 161.67,271.00 165.00,269.00 C168.33,267.00 171.92,264.27 175.30,264.50 C178.68,264.73 184.78,267.75 185.30,270.40 C185.82,273.05 182.63,278.87 178.40,280.40 C174.17,281.93 163.75,280.25 159.90,279.60 C156.05,278.95 154.45,278.27 155.30,276.50Z" transform="translate(170.00,277.50) scale(0.88) translate(-170.00,-277.50)" fill="#bdbdbd" stroke="#8a8a8a" stroke-width="0.51"/>
<path d="M155.30,276.50 C156.15,274.73 161.67,271.00 165.00,269.00 C168.33,267.00 171.92,264.27 175.30,264.50 C178.68,264.73 184.78,267.75 185.30,270.40 C185.82,273.05 182.63,278.87 178.40,280.40 C174.17,281.93 163.75,280.25 159.90,279.60 C156.05,278.95 154.45,278.27 155.30,276.50Z" transform="translate(170.00,277.50) scale(0.76) translate(-170.00,-277.50)" fill="#a8a8a8" stroke="#6a6a6a" stroke-width="0.59"/>
<path d="M155.30,276.50 C156.15,274.73 161.67,271.00 165.00,269.00 C168.33,267.00 171.92,264.27 175.30,264.50 C178.68,264.73 184.78,267.75 185.30,270.40 C185.82,273.05 182.63,278.87 178.40,280.40 C174.17,281.93 163.75,280.25 159.90,279.60 C156.05,278.95 154.45,278.27 155.30,276.50Z" transform="translate(170.00,277.50) scale(0.64) translate(-170.00,-277.50)" fill="#959595" stroke="#555" stroke-width="0.70"/>
<path d="M155.30,276.50 C156.15,274.73 161.67,271.00 165.00,269.00 C168.33,267.00 171.92,264.27 175.30,264.50 C178.68,264.73 184.78,267.75 185.30,270.40 C185.82,273.05 182.63,278.87 178.40,280.40 C174.17,281.93 163.75,280.25 159.90,279.60 C156.05,278.95 154.45,278.27 155.30,276.50Z" transform="translate(170.00,277.50) scale(0.5) translate(-170.00,-277.50)" fill="#808080" stroke="#3e3e3e" stroke-width="0.90"/>
<path d="M155.30,276.50 C156.15,274.73 161.67,271.00 165.00,269.00 C168.33,267.00 171.92,264.27 175.30,264.50 C178.68,264.73 184.78,267.75 185.30,270.40 C185.82,273.05 182.63,278.87 178.40,280.40 C174.17,281.93 163.75,280.25 159.90,279.60 C156.05,278.95 154.45,278.27 155.30,276.50Z" transform="translate(170.00,277.50) scale(0.36) translate(-170.00,-277.50)" fill="#8c8c8c" stroke="#333" stroke-width="1.25"/>
<ellipse cx="169.00" cy="277.30" rx="5.00" ry="0.9" fill="#f4f4f4"/>
<path d="M186.00,278.00 C186.30,276.13 190.92,272.17 194.00,270.00 C197.08,267.83 201.33,265.20 204.50,265.00 C207.67,264.80 212.48,266.63 213.00,268.80 C213.52,270.97 211.07,275.93 207.60,278.00 C204.13,280.07 195.80,281.20 192.20,281.20 C188.60,281.20 185.70,279.87 186.00,278.00Z" fill="#cdcdcd" stroke="#9a9a9a" stroke-width="0.6"/>
<path d="M186.00,278.00 C186.30,276.13 190.92,272.17 194.00,270.00 C197.08,267.83 201.33,265.20 204.50,265.00 C207.67,264.80 212.48,266.63 213.00,268.80 C213.52,270.97 211.07,275.93 207.60,278.00 C204.13,280.07 195.80,281.20 192.20,281.20 C188.60,281.20 185.70,279.87 186.00,278.00Z" transform="translate(196.00,277.50) scale(0.88) translate(-196.00,-277.50)" fill="#bdbdbd" stroke="#8a8a8a" stroke-width="0.51"/>
<path d="M186.00,278.00 C186.30,276.13 190.92,272.17 194.00,270.00 C197.08,267.83 201.33,265.20 204.50,265.00 C207.67,264.80 212.48,266.63 213.00,268.80 C213.52,270.97 211.07,275.93 207.60,278.00 C204.13,280.07 195.80,281.20 192.20,281.20 C188.60,281.20 185.70,279.87 186.00,278.00Z" transform="translate(196.00,277.50) scale(0.76) translate(-196.00,-277.50)" fill="#a8a8a8" stroke="#6a6a6a" stroke-width="0.59"/>
<path d="M186.00,278.00 C186.30,276.13 190.92,272.17 194.00,270.00 C197.08,267.83 201.33,265.20 204.50,265.00 C207.67,264.80 212.48,266.63 213.00,268.80 C213.52,270.97 211.07,275.93 207.60,278.00 C204.13,280.07 195.80,281.20 192.20,281.20 C188.60,281.20 185.70,279.87 186.00,278.00Z" transform="translate(196.00,277.50) scale(0.64) translate(-196.00,-277.50)" fill="#959595" stroke="#555" stroke-width="0.70"/>
<path d="M186.00,278.00 C186.30,276.13 190.92,272.17 194.00,270.00 C197.08,267.83 201.33,265.20 204.50,265.00 C207.67,264.80 212.48,266.63 213.00,268.80 C213.52,270.97 211.07,275.93 207.60,278.00 C204.13,280.07 195.80,281.20 192.20,281.20 C188.60,281.20 185.70,279.87 186.00,278.00Z" transform="translate(196.00,277.50) scale(0.5) translate(-196.00,-277.50)" fill="#808080" stroke="#3e3e3e" stroke-width="0.90"/>
<path d="M186.00,278.00 C186.30,276.13 190.92,272.17 194.00,270.00 C197.08,267.83 201.33,265.20 204.50,265.00 C207.67,264.80 212.48,266.63 213.00,268.80 C213.52,270.97 211.07,275.93 207.60,278.00 C204.13,280.07 195.80,281.20 192.20,281.20 C188.60,281.20 185.70,279.87 186.00,278.00Z" transform="translate(196.00,277.50) scale(0.36) translate(-196.00,-277.50)" fill="#8c8c8c" stroke="#333" stroke-width="1.25"/>
<ellipse cx="195.50" cy="277.30" rx="5.50" ry="0.9" fill="#f4f4f4"/>
<path d="M143.40,272.20 q3.6,3.8 0,7.6" fill="#222" stroke="#222" stroke-width="1.2"/>
<polyline points="205.70,222.00 223.00,220.40 223.00,285.00 183.00,285.00 205.70,222.00" stroke="#333" stroke-width="0.8" fill="none" stroke-linejoin="round" />
<text x="203.50" y="249.60" font-size="7.6" font-weight="bold" text-anchor="middle" fill="#2e3a96" >CAR+</text>
<text x="203.50" y="258.90" font-size="7.6" font-weight="bold" text-anchor="middle" fill="#2e3a96" >52.0</text>
<rect x="232.30" y="204.40" width="80.70" height="80.40" fill="#fff" stroke="#555" stroke-width="1.1" />
<path d="M247.60,276.50 C247.93,274.73 252.43,270.92 255.00,269.00 C257.57,267.08 259.87,264.90 263.00,265.00 C266.13,265.10 270.13,269.43 273.80,269.60 C277.47,269.77 281.03,266.77 285.00,266.00 C288.97,265.23 294.47,264.27 297.60,265.00 C300.73,265.73 303.80,268.23 303.80,270.40 C303.80,272.57 301.70,276.33 297.60,278.00 C293.50,279.67 286.63,280.13 279.20,280.40 C271.77,280.67 258.27,280.25 253.00,279.60 C247.73,278.95 247.27,278.27 247.60,276.50Z" fill="#cdcdcd" stroke="#9a9a9a" stroke-width="0.6"/>
<path d="M247.60,276.50 C247.93,274.73 252.43,270.92 255.00,269.00 C257.57,267.08 259.87,264.90 263.00,265.00 C266.13,265.10 270.13,269.43 273.80,269.60 C277.47,269.77 281.03,266.77 285.00,266.00 C288.97,265.23 294.47,264.27 297.60,265.00 C300.73,265.73 303.80,268.23 303.80,270.40 C303.80,272.57 301.70,276.33 297.60,278.00 C293.50,279.67 286.63,280.13 279.20,280.40 C271.77,280.67 258.27,280.25 253.00,279.60 C247.73,278.95 247.27,278.27 247.60,276.50Z" transform="translate(262.00,277.50) scale(0.88) translate(-262.00,-277.50)" fill="#bdbdbd" stroke="#8a8a8a" stroke-width="0.51"/>
<path d="M247.60,276.50 C247.93,274.73 252.43,270.92 255.00,269.00 C257.57,267.08 259.87,264.90 263.00,265.00 C266.13,265.10 270.13,269.43 273.80,269.60 C277.47,269.77 281.03,266.77 285.00,266.00 C288.97,265.23 294.47,264.27 297.60,265.00 C300.73,265.73 303.80,268.23 303.80,270.40 C303.80,272.57 301.70,276.33 297.60,278.00 C293.50,279.67 286.63,280.13 279.20,280.40 C271.77,280.67 258.27,280.25 253.00,279.60 C247.73,278.95 247.27,278.27 247.60,276.50Z" transform="translate(262.00,277.50) scale(0.76) translate(-262.00,-277.50)" fill="#a8a8a8" stroke="#6a6a6a" stroke-width="0.59"/>
<path d="M247.60,276.50 C247.93,274.73 252.43,270.92 255.00,269.00 C257.57,267.08 259.87,264.90 263.00,265.00 C266.13,265.10 270.13,269.43 273.80,269.60 C277.47,269.77 281.03,266.77 285.00,266.00 C288.97,265.23 294.47,264.27 297.60,265.00 C300.73,265.73 303.80,268.23 303.80,270.40 C303.80,272.57 301.70,276.33 297.60,278.00 C293.50,279.67 286.63,280.13 279.20,280.40 C271.77,280.67 258.27,280.25 253.00,279.60 C247.73,278.95 247.27,278.27 247.60,276.50Z" transform="translate(262.00,277.50) scale(0.64) translate(-262.00,-277.50)" fill="#959595" stroke="#555" stroke-width="0.70"/>
<path d="M247.60,276.50 C247.93,274.73 252.43,270.92 255.00,269.00 C257.57,267.08 259.87,264.90 263.00,265.00 C266.13,265.10 270.13,269.43 273.80,269.60 C277.47,269.77 281.03,266.77 285.00,266.00 C288.97,265.23 294.47,264.27 297.60,265.00 C300.73,265.73 303.80,268.23 303.80,270.40 C303.80,272.57 301.70,276.33 297.60,278.00 C293.50,279.67 286.63,280.13 279.20,280.40 C271.77,280.67 258.27,280.25 253.00,279.60 C247.73,278.95 247.27,278.27 247.60,276.50Z" transform="translate(262.00,277.50) scale(0.5) translate(-262.00,-277.50)" fill="#808080" stroke="#3e3e3e" stroke-width="0.90"/>
<path d="M247.60,276.50 C247.93,274.73 252.43,270.92 255.00,269.00 C257.57,267.08 259.87,264.90 263.00,265.00 C266.13,265.10 270.13,269.43 273.80,269.60 C277.47,269.77 281.03,266.77 285.00,266.00 C288.97,265.23 294.47,264.27 297.60,265.00 C300.73,265.73 303.80,268.23 303.80,270.40 C303.80,272.57 301.70,276.33 297.60,278.00 C293.50,279.67 286.63,280.13 279.20,280.40 C271.77,280.67 258.27,280.25 253.00,279.60 C247.73,278.95 247.27,278.27 247.60,276.50Z" transform="translate(262.00,277.50) scale(0.36) translate(-262.00,-277.50)" fill="#8c8c8c" stroke="#333" stroke-width="1.25"/>
<ellipse cx="263.75" cy="277.30" rx="7.75" ry="0.9" fill="#f4f4f4"/>
<path d="M232.70,271.70 q3.6,3.8 0,7.6" fill="#222" stroke="#222" stroke-width="1.2"/>
<polyline points="294.00,222.80 313.00,220.70 313.00,284.80 271.80,284.80 294.00,222.80" stroke="#333" stroke-width="0.8" fill="none" stroke-linejoin="round" />
<text x="292.70" y="250.30" font-size="7.6" font-weight="bold" text-anchor="middle" fill="#2e3a96" >CAR+</text>
<text x="292.70" y="260.20" font-size="7.6" font-weight="bold" text-anchor="middle" fill="#2e3a96" >58.6</text>
<rect x="140.30" y="113.20" width="87.40" height="85.30" fill="none" stroke="#22a04a" stroke-width="2.7" />
<rect x="228.60" y="200.40" width="88.10" height="88.60" fill="none" stroke="#2a3a9a" stroke-width="2.7" />
<line x1="345.00" y1="119.40" x2="345.00" y2="191.20" stroke="#333" stroke-width="1.0" />
<line x1="345.00" y1="191.20" x2="439.50" y2="191.20" stroke="#333" stroke-width="1.0" />
<line x1="342.80" y1="119.90" x2="345.00" y2="119.90" stroke="#333" stroke-width="1.0" />
<text x="341.80" y="121.99" font-size="5.8" font-weight="bold" text-anchor="end" fill="#333" >100</text>
<line x1="342.80" y1="131.76" x2="345.00" y2="131.76" stroke="#333" stroke-width="1.0" />
<text x="341.80" y="133.85" font-size="5.8" font-weight="bold" text-anchor="end" fill="#333" >80</text>
<line x1="342.80" y1="143.62" x2="345.00" y2="143.62" stroke="#333" stroke-width="1.0" />
<text x="341.80" y="145.71" font-size="5.8" font-weight="bold" text-anchor="end" fill="#333" >60</text>
<line x1="342.80" y1="155.48" x2="345.00" y2="155.48" stroke="#333" stroke-width="1.0" />
<text x="341.80" y="157.57" font-size="5.8" font-weight="bold" text-anchor="end" fill="#333" >40</text>
<line x1="342.80" y1="167.34" x2="345.00" y2="167.34" stroke="#333" stroke-width="1.0" />
<text x="341.80" y="169.43" font-size="5.8" font-weight="bold" text-anchor="end" fill="#333" >20</text>
<line x1="342.80" y1="179.20" x2="345.00" y2="179.20" stroke="#333" stroke-width="1.0" />
<text x="341.80" y="181.29" font-size="5.8" font-weight="bold" text-anchor="end" fill="#333" >0</text>
<line x1="346.00" y1="191.20" x2="346.00" y2="193.40" stroke="#333" stroke-width="1.0" />
<text x="346.00" y="201.69" font-size="5.8" font-weight="bold" text-anchor="middle" fill="#333" >0</text>
<line x1="361.40" y1="191.20" x2="361.40" y2="193.40" stroke="#333" stroke-width="1.0" />
<text x="361.40" y="201.69" font-size="5.8" font-weight="bold" text-anchor="middle" fill="#333" >2</text>
<line x1="376.80" y1="191.20" x2="376.80" y2="193.40" stroke="#333" stroke-width="1.0" />
<text x="376.80" y="201.69" font-size="5.8" font-weight="bold" text-anchor="middle" fill="#333" >4</text>
<line x1="392.20" y1="191.20" x2="392.20" y2="193.40" stroke="#333" stroke-width="1.0" />
<text x="392.20" y="201.69" font-size="5.8" font-weight="bold" text-anchor="middle" fill="#333" >6</text>
<line x1="407.60" y1="191.20" x2="407.60" y2="193.40" stroke="#333" stroke-width="1.0" />
<text x="407.60" y="201.69" font-size="5.8" font-weight="bold" text-anchor="middle" fill="#333" >8</text>
<line x1="423.00" y1="191.20" x2="423.00" y2="193.40" stroke="#333" stroke-width="1.0" />
<text x="423.00" y="201.69" font-size="5.8" font-weight="bold" text-anchor="middle" fill="#333" >10</text>
<line x1="438.40" y1="191.20" x2="438.40" y2="193.40" stroke="#333" stroke-width="1.0" />
<text x="438.40" y="201.69" font-size="5.8" font-weight="bold" text-anchor="middle" fill="#333" >12</text>
<text x="392.90" y="211.90" font-size="6.5" font-weight="bold" text-anchor="middle" fill="#222" >Day</text>
<text x="326.80" y="155.30" font-size="8" font-weight="bold" text-anchor="middle" fill="#222" transform="rotate(-90 326.8 155.3)">% Cytotoxicity</text>
<polyline points="361.40,182.16 384.50,180.98 399.90,182.76 415.30,183.94 438.40,183.94" stroke="#222" stroke-width="1.0" fill="none" stroke-linejoin="round" />
<line x1="384.50" y1="178.61" x2="384.50" y2="183.35" stroke="#222" stroke-width="0.8" />
<line x1="382.90" y1="178.61" x2="386.10" y2="178.61" stroke="#222" stroke-width="0.8" />
<line x1="382.90" y1="183.35" x2="386.10" y2="183.35" stroke="#222" stroke-width="0.8" />
<line x1="399.90" y1="180.98" x2="399.90" y2="184.54" stroke="#222" stroke-width="0.8" />
<line x1="398.30" y1="180.98" x2="401.50" y2="180.98" stroke="#222" stroke-width="0.8" />
<line x1="398.30" y1="184.54" x2="401.50" y2="184.54" stroke="#222" stroke-width="0.8" />
<rect x="359.40" y="180.16" width="4.00" height="4.00" fill="none" stroke="#222" stroke-width="0.84" />
<rect x="382.50" y="178.98" width="4.00" height="4.00" fill="none" stroke="#222" stroke-width="0.84" />
<rect x="397.90" y="180.76" width="4.00" height="4.00" fill="none" stroke="#222" stroke-width="0.84" />
<rect x="413.30" y="181.94" width="4.00" height="4.00" fill="none" stroke="#222" stroke-width="0.84" />
<rect x="436.40" y="181.94" width="4.00" height="4.00" fill="none" stroke="#222" stroke-width="0.84" />
<polyline points="361.40,143.03 384.50,130.57 399.90,137.69 415.30,144.81 438.40,148.96" stroke="#111" stroke-width="1.0" fill="none" stroke-linejoin="round" />
<line x1="399.90" y1="135.32" x2="399.90" y2="140.06" stroke="#111" stroke-width="0.8" />
<line x1="398.30" y1="135.32" x2="401.50" y2="135.32" stroke="#111" stroke-width="0.8" />
<line x1="398.30" y1="140.06" x2="401.50" y2="140.06" stroke="#111" stroke-width="0.8" />
<line x1="415.30" y1="143.03" x2="415.30" y2="146.58" stroke="#111" stroke-width="0.8" />
<line x1="413.70" y1="143.03" x2="416.90" y2="143.03" stroke="#111" stroke-width="0.8" />
<line x1="413.70" y1="146.58" x2="416.90" y2="146.58" stroke="#111" stroke-width="0.8" />
<line x1="438.40" y1="146.58" x2="438.40" y2="151.33" stroke="#111" stroke-width="0.8" />
<line x1="436.80" y1="146.58" x2="440.00" y2="146.58" stroke="#111" stroke-width="0.8" />
<line x1="436.80" y1="151.33" x2="440.00" y2="151.33" stroke="#111" stroke-width="0.8" />
<polygon points="361.40,140.27 364.16,145.10 358.64,145.10" stroke="none" stroke-width="1" fill="#111" />
<polygon points="384.50,127.81 387.26,132.64 381.74,132.64" stroke="none" stroke-width="1" fill="#111" />
<polygon points="399.90,134.93 402.66,139.76 397.14,139.76" stroke="none" stroke-width="1" fill="#111" />
<polygon points="415.30,142.05 418.06,146.88 412.54,146.88" stroke="none" stroke-width="1" fill="#111" />
<polygon points="438.40,146.20 441.16,151.03 435.64,151.03" stroke="none" stroke-width="1" fill="#111" />
<polyline points="361.40,134.72 384.50,124.05 399.90,129.39 415.30,137.10 438.40,144.21" stroke="#111" stroke-width="1.0" fill="none" stroke-linejoin="round" />
<line x1="399.90" y1="127.61" x2="399.90" y2="131.17" stroke="#111" stroke-width="0.8" />
<line x1="398.30" y1="127.61" x2="401.50" y2="127.61" stroke="#111" stroke-width="0.8" />
<line x1="398.30" y1="131.17" x2="401.50" y2="131.17" stroke="#111" stroke-width="0.8" />
<line x1="415.30" y1="135.32" x2="415.30" y2="138.88" stroke="#111" stroke-width="0.8" />
<line x1="413.70" y1="135.32" x2="416.90" y2="135.32" stroke="#111" stroke-width="0.8" />
<line x1="413.70" y1="138.88" x2="416.90" y2="138.88" stroke="#111" stroke-width="0.8" />
<line x1="438.40" y1="142.43" x2="438.40" y2="145.99" stroke="#111" stroke-width="0.8" />
<line x1="436.80" y1="142.43" x2="440.00" y2="142.43" stroke="#111" stroke-width="0.8" />
<line x1="436.80" y1="145.99" x2="440.00" y2="145.99" stroke="#111" stroke-width="0.8" />
<rect x="359.10" y="132.42" width="4.60" height="4.60" fill="#111" stroke="none" stroke-width="1" />
<rect x="382.20" y="121.75" width="4.60" height="4.60" fill="#111" stroke="none" stroke-width="1" />
<rect x="397.60" y="127.09" width="4.60" height="4.60" fill="#111" stroke="none" stroke-width="1" />
<rect x="413.00" y="134.80" width="4.60" height="4.60" fill="#111" stroke="none" stroke-width="1" />
<rect x="436.10" y="141.91" width="4.60" height="4.60" fill="#111" stroke="none" stroke-width="1" />
<polyline points="361.40,132.95 384.50,122.86 399.90,124.64 415.30,128.79 438.40,133.54" stroke="#2a9a55" stroke-width="1.0" fill="none" stroke-linejoin="round" />
<circle cx="361.40" cy="132.95" r="2.60" fill="#2a9a55"/>
<circle cx="384.50" cy="122.86" r="2.60" fill="#2a9a55"/>
<circle cx="399.90" cy="124.64" r="2.60" fill="#2a9a55"/>
<circle cx="415.30" cy="128.79" r="2.60" fill="#2a9a55"/>
<circle cx="438.40" cy="133.54" r="2.60" fill="#2a9a55"/>
<line x1="453.50" y1="125.40" x2="462.50" y2="125.40" stroke="#222" stroke-width="0.9" />
<rect x="456.00" y="123.40" width="4.00" height="4.00" fill="none" stroke="#222" stroke-width="0.84" />
<text x="467.20" y="128.57" font-size="8.8" font-weight="normal" text-anchor="start" fill="#333" >NTD</text>
<line x1="453.50" y1="136.60" x2="462.50" y2="136.60" stroke="#2a9a55" stroke-width="0.9" />
<circle cx="458.00" cy="136.60" r="2.60" fill="#2a9a55"/>
<text x="467.20" y="139.77" font-size="8.8" font-weight="normal" text-anchor="start" fill="#333" >Clone 4-RSR</text>
<line x1="453.50" y1="147.60" x2="462.50" y2="147.60" stroke="#111" stroke-width="0.9" />
<rect x="455.80" y="145.40" width="4.40" height="4.40" fill="#111" stroke="none" stroke-width="1" />
<text x="467.20" y="150.77" font-size="8.8" font-weight="normal" text-anchor="start" fill="#333" >Clone 4-SR2</text>
<line x1="453.50" y1="158.80" x2="462.50" y2="158.80" stroke="#111" stroke-width="0.9" />
<polygon points="458.00,156.27 460.53,160.70 455.47,160.70" stroke="none" stroke-width="1" fill="#111" />
<text x="467.20" y="161.97" font-size="8.8" font-weight="normal" text-anchor="start" fill="#333" >Clone 4-R2S</text>
<line x1="351.60" y1="222.30" x2="351.60" y2="287.20" stroke="#333" stroke-width="1.0" />
<line x1="351.60" y1="287.20" x2="441.50" y2="287.20" stroke="#333" stroke-width="1.0" />
<line x1="349.40" y1="222.25" x2="351.60" y2="222.25" stroke="#333" stroke-width="1.0" />
<text x="348.40" y="224.34" font-size="5.8" font-weight="bold" text-anchor="end" fill="#333" >100</text>
<line x1="349.40" y1="233.10" x2="351.60" y2="233.10" stroke="#333" stroke-width="1.0" />
<text x="348.40" y="235.19" font-size="5.8" font-weight="bold" text-anchor="end" fill="#333" >80</text>
<line x1="349.40" y1="243.95" x2="351.60" y2="243.95" stroke="#333" stroke-width="1.0" />
<text x="348.40" y="246.04" font-size="5.8" font-weight="bold" text-anchor="end" fill="#333" >60</text>
<line x1="349.40" y1="254.80" x2="351.60" y2="254.80" stroke="#333" stroke-width="1.0" />
<text x="348.40" y="256.89" font-size="5.8" font-weight="bold" text-anchor="end" fill="#333" >40</text>
<line x1="349.40" y1="265.65" x2="351.60" y2="265.65" stroke="#333" stroke-width="1.0" />
<text x="348.40" y="267.74" font-size="5.8" font-weight="bold" text-anchor="end" fill="#333" >20</text>
<line x1="349.40" y1="276.50" x2="351.60" y2="276.50" stroke="#333" stroke-width="1.0" />
<text x="348.40" y="278.59" font-size="5.8" font-weight="bold" text-anchor="end" fill="#333" >0</text>
<line x1="351.60" y1="287.20" x2="351.60" y2="289.40" stroke="#333" stroke-width="1.0" />
<text x="351.60" y="296.79" font-size="5.8" font-weight="bold" text-anchor="middle" fill="#333" >0</text>
<line x1="366.50" y1="287.20" x2="366.50" y2="289.40" stroke="#333" stroke-width="1.0" />
<text x="366.50" y="296.79" font-size="5.8" font-weight="bold" text-anchor="middle" fill="#333" >2</text>
<line x1="381.40" y1="287.20" x2="381.40" y2="289.40" stroke="#333" stroke-width="1.0" />
<text x="381.40" y="296.79" font-size="5.8" font-weight="bold" text-anchor="middle" fill="#333" >4</text>
<line x1="396.30" y1="287.20" x2="396.30" y2="289.40" stroke="#333" stroke-width="1.0" />
<text x="396.30" y="296.79" font-size="5.8" font-weight="bold" text-anchor="middle" fill="#333" >6</text>
<line x1="411.20" y1="287.20" x2="411.20" y2="289.40" stroke="#333" stroke-width="1.0" />
<text x="411.20" y="296.79" font-size="5.8" font-weight="bold" text-anchor="middle" fill="#333" >8</text>
<line x1="426.10" y1="287.20" x2="426.10" y2="289.40" stroke="#333" stroke-width="1.0" />
<text x="426.10" y="296.79" font-size="5.8" font-weight="bold" text-anchor="middle" fill="#333" >10</text>
<line x1="441.00" y1="287.20" x2="441.00" y2="289.40" stroke="#333" stroke-width="1.0" />
<text x="441.00" y="296.79" font-size="5.8" font-weight="bold" text-anchor="middle" fill="#333" >12</text>
<text x="396.20" y="305.10" font-size="6.5" font-weight="bold" text-anchor="middle" fill="#222" >Day</text>
<text x="330.20" y="254.30" font-size="7.6" font-weight="bold" text-anchor="middle" fill="#222" transform="rotate(-90 330.2 254.3)">% Cytotoxicity</text>
<polyline points="366.50,279.75 388.85,278.67 403.75,280.30 418.65,281.38 441.00,281.38" stroke="#222" stroke-width="1.0" fill="none" stroke-linejoin="round" />
<line x1="388.85" y1="276.50" x2="388.85" y2="280.84" stroke="#222" stroke-width="0.8" />
<line x1="387.25" y1="276.50" x2="390.45" y2="276.50" stroke="#222" stroke-width="0.8" />
<line x1="387.25" y1="280.84" x2="390.45" y2="280.84" stroke="#222" stroke-width="0.8" />
<line x1="403.75" y1="278.67" x2="403.75" y2="281.93" stroke="#222" stroke-width="0.8" />
<line x1="402.15" y1="278.67" x2="405.35" y2="278.67" stroke="#222" stroke-width="0.8" />
<line x1="402.15" y1="281.93" x2="405.35" y2="281.93" stroke="#222" stroke-width="0.8" />
<rect x="364.50" y="277.75" width="4.00" height="4.00" fill="none" stroke="#222" stroke-width="0.84" />
<rect x="386.85" y="276.67" width="4.00" height="4.00" fill="none" stroke="#222" stroke-width="0.84" />
<rect x="401.75" y="278.30" width="4.00" height="4.00" fill="none" stroke="#222" stroke-width="0.84" />
<rect x="416.65" y="279.38" width="4.00" height="4.00" fill="none" stroke="#222" stroke-width="0.84" />
<rect x="439.00" y="279.38" width="4.00" height="4.00" fill="none" stroke="#222" stroke-width="0.84" />
<polyline points="366.50,235.27 388.85,223.88 403.75,232.56 418.65,257.51 441.00,265.11" stroke="#111" stroke-width="1.0" fill="none" stroke-linejoin="round" />
<rect x="364.20" y="232.97" width="4.60" height="4.60" fill="#111" stroke="none" stroke-width="1" />
<rect x="386.55" y="221.58" width="4.60" height="4.60" fill="#111" stroke="none" stroke-width="1" />
<rect x="401.45" y="230.26" width="4.60" height="4.60" fill="#111" stroke="none" stroke-width="1" />
<rect x="416.35" y="255.21" width="4.60" height="4.60" fill="#111" stroke="none" stroke-width="1" />
<rect x="438.70" y="262.81" width="4.60" height="4.60" fill="#111" stroke="none" stroke-width="1" />
<polyline points="366.50,228.76 388.85,223.34 403.75,227.13 418.65,246.66 441.00,254.80" stroke="#111" stroke-width="1.0" fill="none" stroke-linejoin="round" />
<polygon points="366.50,226.00 369.26,230.83 363.74,230.83" stroke="none" stroke-width="1" fill="#111" />
<polygon points="388.85,220.58 391.61,225.41 386.09,225.41" stroke="none" stroke-width="1" fill="#111" />
<polygon points="403.75,224.37 406.51,229.20 400.99,229.20" stroke="none" stroke-width="1" fill="#111" />
<polygon points="418.65,243.90 421.41,248.73 415.89,248.73" stroke="none" stroke-width="1" fill="#111" />
<polygon points="441.00,252.04 443.76,256.87 438.24,256.87" stroke="none" stroke-width="1" fill="#111" />
<polyline points="366.50,227.68 388.85,222.79 403.75,224.42 418.65,235.27 441.00,248.29" stroke="#3a52a8" stroke-width="1.0" fill="none" stroke-linejoin="round" />
<circle cx="366.50" cy="227.68" r="2.60" fill="#3a52a8"/>
<circle cx="388.85" cy="222.79" r="2.60" fill="#3a52a8"/>
<circle cx="403.75" cy="224.42" r="2.60" fill="#3a52a8"/>
<circle cx="418.65" cy="235.27" r="2.60" fill="#3a52a8"/>
<circle cx="441.00" cy="248.29" r="2.60" fill="#3a52a8"/>
<line x1="450.90" y1="237.20" x2="459.90" y2="237.20" stroke="#222" stroke-width="0.9" />
<rect x="453.40" y="235.20" width="4.00" height="4.00" fill="none" stroke="#222" stroke-width="0.84" />
<text x="465.30" y="240.37" font-size="8.8" font-weight="normal" text-anchor="start" fill="#333" >NTD</text>
<line x1="450.90" y1="247.00" x2="459.90" y2="247.00" stroke="#3a52a8" stroke-width="0.9" />
<circle cx="455.40" cy="247.00" r="2.60" fill="#3a52a8"/>
<text x="465.30" y="250.17" font-size="8.8" font-weight="normal" text-anchor="start" fill="#333" >Clone 7-R2S</text>
<line x1="450.90" y1="256.80" x2="459.90" y2="256.80" stroke="#111" stroke-width="0.9" />
<polygon points="455.40,254.27 457.93,258.70 452.87,258.70" stroke="none" stroke-width="1" fill="#111" />
<text x="465.30" y="259.97" font-size="8.8" font-weight="normal" text-anchor="start" fill="#333" >Clone 7-RSR</text>
<line x1="450.90" y1="266.50" x2="459.90" y2="266.50" stroke="#111" stroke-width="0.9" />
<rect x="453.20" y="264.30" width="4.40" height="4.40" fill="#111" stroke="none" stroke-width="1" />
<text x="465.30" y="269.67" font-size="8.8" font-weight="normal" text-anchor="start" fill="#333" >Clone 7-SR2</text>
<text x="1.20" y="330.60" font-size="13" font-weight="bold" text-anchor="start" fill="#111" >B</text>
<text x="113.50" y="330.20" font-size="9.8" font-weight="bold" text-anchor="middle" fill="#222" >DMS273 (900/cell) E:T=3:1</text>
<text x="326.70" y="330.20" font-size="10.2" font-weight="bold" text-anchor="middle" fill="#222" >WM266-4 (3300/cell) E:T=1:3</text>
<line x1="41.40" y1="340.80" x2="41.40" y2="453.60" stroke="#333" stroke-width="1.0" />
<line x1="41.40" y1="453.60" x2="187.50" y2="453.60" stroke="#333" stroke-width="1.0" />
<line x1="39.20" y1="341.00" x2="41.40" y2="341.00" stroke="#333" stroke-width="1.0" />
<text x="38.20" y="343.34" font-size="6.5" font-weight="bold" text-anchor="end" fill="#333" >1,200</text>
<line x1="39.20" y1="369.20" x2="41.40" y2="369.20" stroke="#333" stroke-width="1.0" />
<text x="38.20" y="371.54" font-size="6.5" font-weight="bold" text-anchor="end" fill="#333" >900</text>
<line x1="39.20" y1="397.40" x2="41.40" y2="397.40" stroke="#333" stroke-width="1.0" />
<text x="38.20" y="399.74" font-size="6.5" font-weight="bold" text-anchor="end" fill="#333" >600</text>
<line x1="39.20" y1="425.60" x2="41.40" y2="425.60" stroke="#333" stroke-width="1.0" />
<text x="38.20" y="427.94" font-size="6.5" font-weight="bold" text-anchor="end" fill="#333" >300</text>
<line x1="39.20" y1="453.80" x2="41.40" y2="453.80" stroke="#333" stroke-width="1.0" />
<text x="38.20" y="456.14" font-size="6.5" font-weight="bold" text-anchor="end" fill="#333" >0</text>
<line x1="41.40" y1="453.60" x2="41.40" y2="455.80" stroke="#333" stroke-width="1.0" />
<text x="41.40" y="461.62" font-size="6.5" font-weight="bold" text-anchor="middle" fill="#333" >0</text>
<line x1="52.42" y1="453.60" x2="52.42" y2="455.80" stroke="#333" stroke-width="1.0" />
<text x="52.42" y="461.62" font-size="6.5" font-weight="bold" text-anchor="middle" fill="#333" >10</text>
<line x1="63.44" y1="453.60" x2="63.44" y2="455.80" stroke="#333" stroke-width="1.0" />
<text x="63.44" y="461.62" font-size="6.5" font-weight="bold" text-anchor="middle" fill="#333" >20</text>
<line x1="74.46" y1="453.60" x2="74.46" y2="455.80" stroke="#333" stroke-width="1.0" />
<text x="74.46" y="461.62" font-size="6.5" font-weight="bold" text-anchor="middle" fill="#333" >30</text>
<line x1="85.48" y1="453.60" x2="85.48" y2="455.80" stroke="#333" stroke-width="1.0" />
<text x="85.48" y="461.62" font-size="6.5" font-weight="bold" text-anchor="middle" fill="#333" >40</text>
<line x1="96.50" y1="453.60" x2="96.50" y2="455.80" stroke="#333" stroke-width="1.0" />
<text x="96.50" y="461.62" font-size="6.5" font-weight="bold" text-anchor="middle" fill="#333" >50</text>
<line x1="107.52" y1="453.60" x2="107.52" y2="455.80" stroke="#333" stroke-width="1.0" />
<text x="107.52" y="461.62" font-size="6.5" font-weight="bold" text-anchor="middle" fill="#333" >60</text>
<line x1="118.54" y1="453.60" x2="118.54" y2="455.80" stroke="#333" stroke-width="1.0" />
<text x="118.54" y="461.62" font-size="6.5" font-weight="bold" text-anchor="middle" fill="#333" >70</text>
<line x1="129.56" y1="453.60" x2="129.56" y2="455.80" stroke="#333" stroke-width="1.0" />
<text x="129.56" y="461.62" font-size="6.5" font-weight="bold" text-anchor="middle" fill="#333" >80</text>
<line x1="140.58" y1="453.60" x2="140.58" y2="455.80" stroke="#333" stroke-width="1.0" />
<text x="140.58" y="461.62" font-size="6.5" font-weight="bold" text-anchor="middle" fill="#333" >90</text>
<line x1="151.60" y1="453.60" x2="151.60" y2="455.80" stroke="#333" stroke-width="1.0" />
<text x="151.60" y="461.62" font-size="6.5" font-weight="bold" text-anchor="middle" fill="#333" >100</text>
<line x1="162.62" y1="453.60" x2="162.62" y2="455.80" stroke="#333" stroke-width="1.0" />
<text x="162.62" y="461.62" font-size="6.5" font-weight="bold" text-anchor="middle" fill="#333" >110</text>
<line x1="173.64" y1="453.60" x2="173.64" y2="455.80" stroke="#333" stroke-width="1.0" />
<text x="173.64" y="461.62" font-size="6.5" font-weight="bold" text-anchor="middle" fill="#333" >120</text>
<line x1="184.66" y1="453.60" x2="184.66" y2="455.80" stroke="#333" stroke-width="1.0" />
<text x="184.66" y="461.62" font-size="6.5" font-weight="bold" text-anchor="middle" fill="#333" >130</text>
<text x="113.50" y="472.30" font-size="7.3" font-weight="bold" text-anchor="middle" fill="#222" >Hour</text>
<text x="14.70" y="398.50" font-size="7.4" font-weight="bold" text-anchor="middle" fill="#222" transform="rotate(-90 14.7 398.5)">% Change of target cell number</text>
<polyline points="41.40,444.40 59.03,441.89 65.64,441.17 72.26,441.53 78.87,441.97 85.48,443.21 92.09,444.49 98.70,445.61 105.32,446.67 111.93,447.89 118.54,449.10 125.15,450.20 131.76,451.14 138.38,452.05 144.99,452.77 151.60,453.28 158.21,453.53 164.82,453.63 171.44,453.71 178.05,453.71 184.66,453.71" stroke="#e02a30" stroke-width="1.0" fill="none" stroke-linejoin="round" />
<line x1="41.40" y1="444.12" x2="41.40" y2="444.68" stroke="#f08080" stroke-width="0.8" />
<line x1="39.80" y1="444.12" x2="43.00" y2="444.12" stroke="#f08080" stroke-width="0.8" />
<line x1="39.80" y1="444.68" x2="43.00" y2="444.68" stroke="#f08080" stroke-width="0.8" />
<line x1="59.03" y1="441.61" x2="59.03" y2="442.18" stroke="#f08080" stroke-width="0.8" />
<line x1="57.43" y1="441.61" x2="60.63" y2="441.61" stroke="#f08080" stroke-width="0.8" />
<line x1="57.43" y1="442.18" x2="60.63" y2="442.18" stroke="#f08080" stroke-width="0.8" />
<line x1="65.64" y1="440.89" x2="65.64" y2="441.45" stroke="#f08080" stroke-width="0.8" />
<line x1="64.04" y1="440.89" x2="67.24" y2="440.89" stroke="#f08080" stroke-width="0.8" />
<line x1="64.04" y1="441.45" x2="67.24" y2="441.45" stroke="#f08080" stroke-width="0.8" />
<line x1="72.26" y1="441.25" x2="72.26" y2="441.81" stroke="#f08080" stroke-width="0.8" />
<line x1="70.66" y1="441.25" x2="73.86" y2="441.25" stroke="#f08080" stroke-width="0.8" />
<line x1="70.66" y1="441.81" x2="73.86" y2="441.81" stroke="#f08080" stroke-width="0.8" />
<line x1="78.87" y1="441.69" x2="78.87" y2="442.25" stroke="#f08080" stroke-width="0.8" />
<line x1="77.27" y1="441.69" x2="80.47" y2="441.69" stroke="#f08080" stroke-width="0.8" />
<line x1="77.27" y1="442.25" x2="80.47" y2="442.25" stroke="#f08080" stroke-width="0.8" />
<line x1="85.48" y1="442.93" x2="85.48" y2="443.49" stroke="#f08080" stroke-width="0.8" />
<line x1="83.88" y1="442.93" x2="87.08" y2="442.93" stroke="#f08080" stroke-width="0.8" />
<line x1="83.88" y1="443.49" x2="87.08" y2="443.49" stroke="#f08080" stroke-width="0.8" />
<line x1="92.09" y1="444.21" x2="92.09" y2="444.78" stroke="#f08080" stroke-width="0.8" />
<line x1="90.49" y1="444.21" x2="93.69" y2="444.21" stroke="#f08080" stroke-width="0.8" />
<line x1="90.49" y1="444.78" x2="93.69" y2="444.78" stroke="#f08080" stroke-width="0.8" />
<line x1="98.70" y1="445.32" x2="98.70" y2="445.89" stroke="#f08080" stroke-width="0.8" />
<line x1="97.10" y1="445.32" x2="100.30" y2="445.32" stroke="#f08080" stroke-width="0.8" />
<line x1="97.10" y1="445.89" x2="100.30" y2="445.89" stroke="#f08080" stroke-width="0.8" />
<line x1="105.32" y1="446.39" x2="105.32" y2="446.95" stroke="#f08080" stroke-width="0.8" />
<line x1="103.72" y1="446.39" x2="106.92" y2="446.39" stroke="#f08080" stroke-width="0.8" />
<line x1="103.72" y1="446.95" x2="106.92" y2="446.95" stroke="#f08080" stroke-width="0.8" />
<line x1="111.93" y1="447.61" x2="111.93" y2="448.18" stroke="#f08080" stroke-width="0.8" />
<line x1="110.33" y1="447.61" x2="113.53" y2="447.61" stroke="#f08080" stroke-width="0.8" />
<line x1="110.33" y1="448.18" x2="113.53" y2="448.18" stroke="#f08080" stroke-width="0.8" />
<line x1="118.54" y1="448.82" x2="118.54" y2="449.38" stroke="#f08080" stroke-width="0.8" />
<line x1="116.94" y1="448.82" x2="120.14" y2="448.82" stroke="#f08080" stroke-width="0.8" />
<line x1="116.94" y1="449.38" x2="120.14" y2="449.38" stroke="#f08080" stroke-width="0.8" />
<line x1="125.15" y1="449.91" x2="125.15" y2="450.48" stroke="#f08080" stroke-width="0.8" />
<line x1="123.55" y1="449.91" x2="126.75" y2="449.91" stroke="#f08080" stroke-width="0.8" />
<line x1="123.55" y1="450.48" x2="126.75" y2="450.48" stroke="#f08080" stroke-width="0.8" />
<line x1="131.76" y1="450.85" x2="131.76" y2="451.42" stroke="#f08080" stroke-width="0.8" />
<line x1="130.16" y1="450.85" x2="133.36" y2="450.85" stroke="#f08080" stroke-width="0.8" />
<line x1="130.16" y1="451.42" x2="133.36" y2="451.42" stroke="#f08080" stroke-width="0.8" />
<line x1="138.38" y1="451.76" x2="138.38" y2="452.33" stroke="#f08080" stroke-width="0.8" />
<line x1="136.78" y1="451.76" x2="139.98" y2="451.76" stroke="#f08080" stroke-width="0.8" />
<line x1="136.78" y1="452.33" x2="139.98" y2="452.33" stroke="#f08080" stroke-width="0.8" />
<line x1="144.99" y1="452.48" x2="144.99" y2="453.05" stroke="#f08080" stroke-width="0.8" />
<line x1="143.39" y1="452.48" x2="146.59" y2="452.48" stroke="#f08080" stroke-width="0.8" />
<line x1="143.39" y1="453.05" x2="146.59" y2="453.05" stroke="#f08080" stroke-width="0.8" />
<line x1="151.60" y1="453.00" x2="151.60" y2="453.56" stroke="#f08080" stroke-width="0.8" />
<line x1="150.00" y1="453.00" x2="153.20" y2="453.00" stroke="#f08080" stroke-width="0.8" />
<line x1="150.00" y1="453.56" x2="153.20" y2="453.56" stroke="#f08080" stroke-width="0.8" />
<line x1="158.21" y1="453.25" x2="158.21" y2="453.82" stroke="#f08080" stroke-width="0.8" />
<line x1="156.61" y1="453.25" x2="159.81" y2="453.25" stroke="#f08080" stroke-width="0.8" />
<line x1="156.61" y1="453.82" x2="159.81" y2="453.82" stroke="#f08080" stroke-width="0.8" />
<line x1="164.82" y1="453.35" x2="164.82" y2="453.91" stroke="#f08080" stroke-width="0.8" />
<line x1="163.22" y1="453.35" x2="166.42" y2="453.35" stroke="#f08080" stroke-width="0.8" />
<line x1="163.22" y1="453.91" x2="166.42" y2="453.91" stroke="#f08080" stroke-width="0.8" />
<line x1="171.44" y1="453.42" x2="171.44" y2="453.99" stroke="#f08080" stroke-width="0.8" />
<line x1="169.84" y1="453.42" x2="173.04" y2="453.42" stroke="#f08080" stroke-width="0.8" />
<line x1="169.84" y1="453.99" x2="173.04" y2="453.99" stroke="#f08080" stroke-width="0.8" />
<line x1="178.05" y1="453.42" x2="178.05" y2="453.99" stroke="#f08080" stroke-width="0.8" />
<line x1="176.45" y1="453.42" x2="179.65" y2="453.42" stroke="#f08080" stroke-width="0.8" />
<line x1="176.45" y1="453.99" x2="179.65" y2="453.99" stroke="#f08080" stroke-width="0.8" />
<line x1="184.66" y1="453.42" x2="184.66" y2="453.99" stroke="#f08080" stroke-width="0.8" />
<line x1="183.06" y1="453.42" x2="186.26" y2="453.42" stroke="#f08080" stroke-width="0.8" />
<line x1="183.06" y1="453.99" x2="186.26" y2="453.99" stroke="#f08080" stroke-width="0.8" />
<circle cx="41.40" cy="444.40" r="2.50" fill="#e02a30"/>
<circle cx="59.03" cy="441.89" r="2.50" fill="#e02a30"/>
<circle cx="65.64" cy="441.17" r="2.50" fill="#e02a30"/>
<circle cx="72.26" cy="441.53" r="2.50" fill="#e02a30"/>
<circle cx="78.87" cy="441.97" r="2.50" fill="#e02a30"/>
<circle cx="85.48" cy="443.21" r="2.50" fill="#e02a30"/>
<circle cx="92.09" cy="444.49" r="2.50" fill="#e02a30"/>
<circle cx="98.70" cy="445.61" r="2.50" fill="#e02a30"/>
<circle cx="105.32" cy="446.67" r="2.50" fill="#e02a30"/>
<circle cx="111.93" cy="447.89" r="2.50" fill="#e02a30"/>
<circle cx="118.54" cy="449.10" r="2.50" fill="#e02a30"/>
<circle cx="125.15" cy="450.20" r="2.50" fill="#e02a30"/>
<circle cx="131.76" cy="451.14" r="2.50" fill="#e02a30"/>
<circle cx="138.38" cy="452.05" r="2.50" fill="#e02a30"/>
<circle cx="144.99" cy="452.77" r="2.50" fill="#e02a30"/>
<circle cx="151.60" cy="453.28" r="2.50" fill="#e02a30"/>
<circle cx="158.21" cy="453.53" r="2.50" fill="#e02a30"/>
<circle cx="164.82" cy="453.63" r="2.50" fill="#e02a30"/>
<circle cx="171.44" cy="453.71" r="2.50" fill="#e02a30"/>
<circle cx="178.05" cy="453.71" r="2.50" fill="#e02a30"/>
<circle cx="184.66" cy="453.71" r="2.50" fill="#e02a30"/>
<polyline points="41.40,444.40 59.03,441.85 65.64,440.64 72.26,439.62 78.87,439.23 85.48,439.40 92.09,440.42 98.70,441.47 105.32,443.04 111.93,444.45 118.54,445.83 125.15,447.03 131.76,448.14 138.38,449.13 144.99,449.93 151.60,450.92 158.21,451.62 164.82,452.05 171.44,452.23 178.05,452.41 184.66,452.48" stroke="#1f8a45" stroke-width="1.0" fill="none" stroke-linejoin="round" />
<circle cx="41.40" cy="444.40" r="2.50" fill="#1f8a45"/>
<circle cx="59.03" cy="441.85" r="2.50" fill="#1f8a45"/>
<circle cx="65.64" cy="440.64" r="2.50" fill="#1f8a45"/>
<circle cx="72.26" cy="439.62" r="2.50" fill="#1f8a45"/>
<circle cx="78.87" cy="439.23" r="2.50" fill="#1f8a45"/>
<circle cx="85.48" cy="439.40" r="2.50" fill="#1f8a45"/>
<circle cx="92.09" cy="440.42" r="2.50" fill="#1f8a45"/>
<circle cx="98.70" cy="441.47" r="2.50" fill="#1f8a45"/>
<circle cx="105.32" cy="443.04" r="2.50" fill="#1f8a45"/>
<circle cx="111.93" cy="444.45" r="2.50" fill="#1f8a45"/>
<circle cx="118.54" cy="445.83" r="2.50" fill="#1f8a45"/>
<circle cx="125.15" cy="447.03" r="2.50" fill="#1f8a45"/>
<circle cx="131.76" cy="448.14" r="2.50" fill="#1f8a45"/>
<circle cx="138.38" cy="449.13" r="2.50" fill="#1f8a45"/>
<circle cx="144.99" cy="449.93" r="2.50" fill="#1f8a45"/>
<circle cx="151.60" cy="450.92" r="2.50" fill="#1f8a45"/>
<circle cx="158.21" cy="451.62" r="2.50" fill="#1f8a45"/>
<circle cx="164.82" cy="452.05" r="2.50" fill="#1f8a45"/>
<circle cx="171.44" cy="452.23" r="2.50" fill="#1f8a45"/>
<circle cx="178.05" cy="452.41" r="2.50" fill="#1f8a45"/>
<circle cx="184.66" cy="452.48" r="2.50" fill="#1f8a45"/>
<polyline points="41.40,444.40 59.03,441.80 65.64,440.31 72.26,438.82 78.87,437.32 85.48,435.72 92.09,433.61 98.70,431.87 105.32,430.44 111.93,427.20 118.54,424.47 125.15,420.77 131.76,416.76 138.38,412.11 144.99,407.96 151.60,402.98 158.21,398.83 164.82,394.38 171.44,391.09 178.05,387.72 184.66,386.54" stroke="#c4c4c8" stroke-width="1.0" fill="none" stroke-linejoin="round" />
<line x1="85.48" y1="434.22" x2="85.48" y2="437.22" stroke="#cfcfd4" stroke-width="0.8" />
<line x1="83.88" y1="434.22" x2="87.08" y2="434.22" stroke="#cfcfd4" stroke-width="0.8" />
<line x1="83.88" y1="437.22" x2="87.08" y2="437.22" stroke="#cfcfd4" stroke-width="0.8" />
<line x1="92.09" y1="431.96" x2="92.09" y2="435.25" stroke="#cfcfd4" stroke-width="0.8" />
<line x1="90.49" y1="431.96" x2="93.69" y2="431.96" stroke="#cfcfd4" stroke-width="0.8" />
<line x1="90.49" y1="435.25" x2="93.69" y2="435.25" stroke="#cfcfd4" stroke-width="0.8" />
<line x1="98.70" y1="430.08" x2="98.70" y2="433.65" stroke="#cfcfd4" stroke-width="0.8" />
<line x1="97.10" y1="430.08" x2="100.30" y2="430.08" stroke="#cfcfd4" stroke-width="0.8" />
<line x1="97.10" y1="433.65" x2="100.30" y2="433.65" stroke="#cfcfd4" stroke-width="0.8" />
<line x1="105.32" y1="428.51" x2="105.32" y2="432.37" stroke="#cfcfd4" stroke-width="0.8" />
<line x1="103.72" y1="428.51" x2="106.92" y2="428.51" stroke="#cfcfd4" stroke-width="0.8" />
<line x1="103.72" y1="432.37" x2="106.92" y2="432.37" stroke="#cfcfd4" stroke-width="0.8" />
<line x1="111.93" y1="425.13" x2="111.93" y2="429.27" stroke="#cfcfd4" stroke-width="0.8" />
<line x1="110.33" y1="425.13" x2="113.53" y2="425.13" stroke="#cfcfd4" stroke-width="0.8" />
<line x1="110.33" y1="429.27" x2="113.53" y2="429.27" stroke="#cfcfd4" stroke-width="0.8" />
<line x1="118.54" y1="422.26" x2="118.54" y2="426.68" stroke="#cfcfd4" stroke-width="0.8" />
<line x1="116.94" y1="422.26" x2="120.14" y2="422.26" stroke="#cfcfd4" stroke-width="0.8" />
<line x1="116.94" y1="426.68" x2="120.14" y2="426.68" stroke="#cfcfd4" stroke-width="0.8" />
<line x1="125.15" y1="418.42" x2="125.15" y2="423.12" stroke="#cfcfd4" stroke-width="0.8" />
<line x1="123.55" y1="418.42" x2="126.75" y2="418.42" stroke="#cfcfd4" stroke-width="0.8" />
<line x1="123.55" y1="423.12" x2="126.75" y2="423.12" stroke="#cfcfd4" stroke-width="0.8" />
<line x1="131.76" y1="414.27" x2="131.76" y2="419.25" stroke="#cfcfd4" stroke-width="0.8" />
<line x1="130.16" y1="414.27" x2="133.36" y2="414.27" stroke="#cfcfd4" stroke-width="0.8" />
<line x1="130.16" y1="419.25" x2="133.36" y2="419.25" stroke="#cfcfd4" stroke-width="0.8" />
<line x1="138.38" y1="409.48" x2="138.38" y2="414.74" stroke="#cfcfd4" stroke-width="0.8" />
<line x1="136.78" y1="409.48" x2="139.98" y2="409.48" stroke="#cfcfd4" stroke-width="0.8" />
<line x1="136.78" y1="414.74" x2="139.98" y2="414.74" stroke="#cfcfd4" stroke-width="0.8" />
<line x1="144.99" y1="405.19" x2="144.99" y2="410.73" stroke="#cfcfd4" stroke-width="0.8" />
<line x1="143.39" y1="405.19" x2="146.59" y2="405.19" stroke="#cfcfd4" stroke-width="0.8" />
<line x1="143.39" y1="410.73" x2="146.59" y2="410.73" stroke="#cfcfd4" stroke-width="0.8" />
<line x1="151.60" y1="400.06" x2="151.60" y2="405.89" stroke="#cfcfd4" stroke-width="0.8" />
<line x1="150.00" y1="400.06" x2="153.20" y2="400.06" stroke="#cfcfd4" stroke-width="0.8" />
<line x1="150.00" y1="405.89" x2="153.20" y2="405.89" stroke="#cfcfd4" stroke-width="0.8" />
<line x1="158.21" y1="395.77" x2="158.21" y2="401.88" stroke="#cfcfd4" stroke-width="0.8" />
<line x1="156.61" y1="395.77" x2="159.81" y2="395.77" stroke="#cfcfd4" stroke-width="0.8" />
<line x1="156.61" y1="401.88" x2="159.81" y2="401.88" stroke="#cfcfd4" stroke-width="0.8" />
<line x1="164.82" y1="391.18" x2="164.82" y2="397.57" stroke="#cfcfd4" stroke-width="0.8" />
<line x1="163.22" y1="391.18" x2="166.42" y2="391.18" stroke="#cfcfd4" stroke-width="0.8" />
<line x1="163.22" y1="397.57" x2="166.42" y2="397.57" stroke="#cfcfd4" stroke-width="0.8" />
<line x1="171.44" y1="387.75" x2="171.44" y2="394.42" stroke="#cfcfd4" stroke-width="0.8" />
<line x1="169.84" y1="387.75" x2="173.04" y2="387.75" stroke="#cfcfd4" stroke-width="0.8" />
<line x1="169.84" y1="394.42" x2="173.04" y2="394.42" stroke="#cfcfd4" stroke-width="0.8" />
<line x1="178.05" y1="384.24" x2="178.05" y2="391.20" stroke="#cfcfd4" stroke-width="0.8" />
<line x1="176.45" y1="384.24" x2="179.65" y2="384.24" stroke="#cfcfd4" stroke-width="0.8" />
<line x1="176.45" y1="391.20" x2="179.65" y2="391.20" stroke="#cfcfd4" stroke-width="0.8" />
<line x1="184.66" y1="382.92" x2="184.66" y2="390.16" stroke="#cfcfd4" stroke-width="0.8" />
<line x1="183.06" y1="382.92" x2="186.26" y2="382.92" stroke="#cfcfd4" stroke-width="0.8" />
<line x1="183.06" y1="390.16" x2="186.26" y2="390.16" stroke="#cfcfd4" stroke-width="0.8" />
<polygon points="41.40,441.76 44.04,444.40 41.40,447.04 38.76,444.40" stroke="none" stroke-width="1" fill="#c4c4c8" />
<polygon points="59.03,439.16 61.67,441.80 59.03,444.44 56.39,441.80" stroke="none" stroke-width="1" fill="#c4c4c8" />
<polygon points="65.64,437.67 68.28,440.31 65.64,442.95 63.00,440.31" stroke="none" stroke-width="1" fill="#c4c4c8" />
<polygon points="72.26,436.18 74.90,438.82 72.26,441.46 69.62,438.82" stroke="none" stroke-width="1" fill="#c4c4c8" />
<polygon points="78.87,434.68 81.51,437.32 78.87,439.96 76.23,437.32" stroke="none" stroke-width="1" fill="#c4c4c8" />
<polygon points="85.48,433.08 88.12,435.72 85.48,438.36 82.84,435.72" stroke="none" stroke-width="1" fill="#c4c4c8" />
<polygon points="92.09,430.97 94.73,433.61 92.09,436.25 89.45,433.61" stroke="none" stroke-width="1" fill="#c4c4c8" />
<polygon points="98.70,429.23 101.34,431.87 98.70,434.51 96.06,431.87" stroke="none" stroke-width="1" fill="#c4c4c8" />
<polygon points="105.32,427.80 107.96,430.44 105.32,433.08 102.68,430.44" stroke="none" stroke-width="1" fill="#c4c4c8" />
<polygon points="111.93,424.56 114.57,427.20 111.93,429.84 109.29,427.20" stroke="none" stroke-width="1" fill="#c4c4c8" />
<polygon points="118.54,421.83 121.18,424.47 118.54,427.11 115.90,424.47" stroke="none" stroke-width="1" fill="#c4c4c8" />
<polygon points="125.15,418.13 127.79,420.77 125.15,423.41 122.51,420.77" stroke="none" stroke-width="1" fill="#c4c4c8" />
<polygon points="131.76,414.12 134.40,416.76 131.76,419.40 129.12,416.76" stroke="none" stroke-width="1" fill="#c4c4c8" />
<polygon points="138.38,409.47 141.02,412.11 138.38,414.75 135.74,412.11" stroke="none" stroke-width="1" fill="#c4c4c8" />
<polygon points="144.99,405.32 147.63,407.96 144.99,410.60 142.35,407.96" stroke="none" stroke-width="1" fill="#c4c4c8" />
<polygon points="151.60,400.34 154.24,402.98 151.60,405.62 148.96,402.98" stroke="none" stroke-width="1" fill="#c4c4c8" />
<polygon points="158.21,396.19 160.85,398.83 158.21,401.47 155.57,398.83" stroke="none" stroke-width="1" fill="#c4c4c8" />
<polygon points="164.82,391.74 167.46,394.38 164.82,397.02 162.18,394.38" stroke="none" stroke-width="1" fill="#c4c4c8" />
<polygon points="171.44,388.45 174.08,391.09 171.44,393.73 168.80,391.09" stroke="none" stroke-width="1" fill="#c4c4c8" />
<polygon points="178.05,385.08 180.69,387.72 178.05,390.36 175.41,387.72" stroke="none" stroke-width="1" fill="#c4c4c8" />
<polygon points="184.66,383.90 187.30,386.54 184.66,389.18 182.02,386.54" stroke="none" stroke-width="1" fill="#c4c4c8" />
<polyline points="41.40,444.40 59.03,441.77 65.64,440.10 72.26,438.43 78.87,436.76 85.48,434.92 92.09,432.33 98.70,430.11 105.32,428.20 111.93,424.48 118.54,421.28 125.15,417.10 131.76,412.61 138.38,407.48 144.99,402.85 151.60,397.38 158.21,392.75 164.82,387.82 171.44,384.06 178.05,380.21 184.66,378.63" stroke="#a4a4a8" stroke-width="1.0" fill="none" stroke-linejoin="round" />
<line x1="85.48" y1="431.73" x2="85.48" y2="438.12" stroke="#b8b8bc" stroke-width="0.8" />
<line x1="83.88" y1="431.73" x2="87.08" y2="431.73" stroke="#b8b8bc" stroke-width="0.8" />
<line x1="83.88" y1="438.12" x2="87.08" y2="438.12" stroke="#b8b8bc" stroke-width="0.8" />
<line x1="92.09" y1="428.65" x2="92.09" y2="436.00" stroke="#b8b8bc" stroke-width="0.8" />
<line x1="90.49" y1="428.65" x2="93.69" y2="428.65" stroke="#b8b8bc" stroke-width="0.8" />
<line x1="90.49" y1="436.00" x2="93.69" y2="436.00" stroke="#b8b8bc" stroke-width="0.8" />
<line x1="98.70" y1="425.95" x2="98.70" y2="434.26" stroke="#b8b8bc" stroke-width="0.8" />
<line x1="97.10" y1="425.95" x2="100.30" y2="425.95" stroke="#b8b8bc" stroke-width="0.8" />
<line x1="97.10" y1="434.26" x2="100.30" y2="434.26" stroke="#b8b8bc" stroke-width="0.8" />
<line x1="105.32" y1="423.57" x2="105.32" y2="432.84" stroke="#b8b8bc" stroke-width="0.8" />
<line x1="103.72" y1="423.57" x2="106.92" y2="423.57" stroke="#b8b8bc" stroke-width="0.8" />
<line x1="103.72" y1="432.84" x2="106.92" y2="432.84" stroke="#b8b8bc" stroke-width="0.8" />
<line x1="111.93" y1="419.37" x2="111.93" y2="429.60" stroke="#b8b8bc" stroke-width="0.8" />
<line x1="110.33" y1="419.37" x2="113.53" y2="419.37" stroke="#b8b8bc" stroke-width="0.8" />
<line x1="110.33" y1="429.60" x2="113.53" y2="429.60" stroke="#b8b8bc" stroke-width="0.8" />
<line x1="118.54" y1="415.68" x2="118.54" y2="426.87" stroke="#b8b8bc" stroke-width="0.8" />
<line x1="116.94" y1="415.68" x2="120.14" y2="415.68" stroke="#b8b8bc" stroke-width="0.8" />
<line x1="116.94" y1="426.87" x2="120.14" y2="426.87" stroke="#b8b8bc" stroke-width="0.8" />
<line x1="125.15" y1="411.03" x2="125.15" y2="423.17" stroke="#b8b8bc" stroke-width="0.8" />
<line x1="123.55" y1="411.03" x2="126.75" y2="411.03" stroke="#b8b8bc" stroke-width="0.8" />
<line x1="123.55" y1="423.17" x2="126.75" y2="423.17" stroke="#b8b8bc" stroke-width="0.8" />
<line x1="131.76" y1="406.06" x2="131.76" y2="419.16" stroke="#b8b8bc" stroke-width="0.8" />
<line x1="130.16" y1="406.06" x2="133.36" y2="406.06" stroke="#b8b8bc" stroke-width="0.8" />
<line x1="130.16" y1="419.16" x2="133.36" y2="419.16" stroke="#b8b8bc" stroke-width="0.8" />
<line x1="138.38" y1="400.45" x2="138.38" y2="414.51" stroke="#b8b8bc" stroke-width="0.8" />
<line x1="136.78" y1="400.45" x2="139.98" y2="400.45" stroke="#b8b8bc" stroke-width="0.8" />
<line x1="136.78" y1="414.51" x2="139.98" y2="414.51" stroke="#b8b8bc" stroke-width="0.8" />
<line x1="144.99" y1="395.34" x2="144.99" y2="410.36" stroke="#b8b8bc" stroke-width="0.8" />
<line x1="143.39" y1="395.34" x2="146.59" y2="395.34" stroke="#b8b8bc" stroke-width="0.8" />
<line x1="143.39" y1="410.36" x2="146.59" y2="410.36" stroke="#b8b8bc" stroke-width="0.8" />
<line x1="151.60" y1="389.39" x2="151.60" y2="405.37" stroke="#b8b8bc" stroke-width="0.8" />
<line x1="150.00" y1="389.39" x2="153.20" y2="389.39" stroke="#b8b8bc" stroke-width="0.8" />
<line x1="150.00" y1="405.37" x2="153.20" y2="405.37" stroke="#b8b8bc" stroke-width="0.8" />
<line x1="158.21" y1="384.28" x2="158.21" y2="401.22" stroke="#b8b8bc" stroke-width="0.8" />
<line x1="156.61" y1="384.28" x2="159.81" y2="384.28" stroke="#b8b8bc" stroke-width="0.8" />
<line x1="156.61" y1="401.22" x2="159.81" y2="401.22" stroke="#b8b8bc" stroke-width="0.8" />
<line x1="164.82" y1="378.88" x2="164.82" y2="396.77" stroke="#b8b8bc" stroke-width="0.8" />
<line x1="163.22" y1="378.88" x2="166.42" y2="378.88" stroke="#b8b8bc" stroke-width="0.8" />
<line x1="163.22" y1="396.77" x2="166.42" y2="396.77" stroke="#b8b8bc" stroke-width="0.8" />
<line x1="171.44" y1="374.63" x2="171.44" y2="393.48" stroke="#b8b8bc" stroke-width="0.8" />
<line x1="169.84" y1="374.63" x2="173.04" y2="374.63" stroke="#b8b8bc" stroke-width="0.8" />
<line x1="169.84" y1="393.48" x2="173.04" y2="393.48" stroke="#b8b8bc" stroke-width="0.8" />
<line x1="178.05" y1="370.30" x2="178.05" y2="390.12" stroke="#b8b8bc" stroke-width="0.8" />
<line x1="176.45" y1="370.30" x2="179.65" y2="370.30" stroke="#b8b8bc" stroke-width="0.8" />
<line x1="176.45" y1="390.12" x2="179.65" y2="390.12" stroke="#b8b8bc" stroke-width="0.8" />
<line x1="184.66" y1="368.25" x2="184.66" y2="389.02" stroke="#b8b8bc" stroke-width="0.8" />
<line x1="183.06" y1="368.25" x2="186.26" y2="368.25" stroke="#b8b8bc" stroke-width="0.8" />
<line x1="183.06" y1="389.02" x2="186.26" y2="389.02" stroke="#b8b8bc" stroke-width="0.8" />
<polygon points="41.40,441.76 44.04,444.40 41.40,447.04 38.76,444.40" stroke="none" stroke-width="1" fill="#a4a4a8" />
<polygon points="59.03,439.13 61.67,441.77 59.03,444.41 56.39,441.77" stroke="none" stroke-width="1" fill="#a4a4a8" />
<polygon points="65.64,437.46 68.28,440.10 65.64,442.74 63.00,440.10" stroke="none" stroke-width="1" fill="#a4a4a8" />
<polygon points="72.26,435.79 74.90,438.43 72.26,441.07 69.62,438.43" stroke="none" stroke-width="1" fill="#a4a4a8" />
<polygon points="78.87,434.12 81.51,436.76 78.87,439.40 76.23,436.76" stroke="none" stroke-width="1" fill="#a4a4a8" />
<polygon points="85.48,432.28 88.12,434.92 85.48,437.56 82.84,434.92" stroke="none" stroke-width="1" fill="#a4a4a8" />
<polygon points="92.09,429.69 94.73,432.33 92.09,434.97 89.45,432.33" stroke="none" stroke-width="1" fill="#a4a4a8" />
<polygon points="98.70,427.47 101.34,430.11 98.70,432.75 96.06,430.11" stroke="none" stroke-width="1" fill="#a4a4a8" />
<polygon points="105.32,425.56 107.96,428.20 105.32,430.84 102.68,428.20" stroke="none" stroke-width="1" fill="#a4a4a8" />
<polygon points="111.93,421.84 114.57,424.48 111.93,427.12 109.29,424.48" stroke="none" stroke-width="1" fill="#a4a4a8" />
<polygon points="118.54,418.64 121.18,421.28 118.54,423.92 115.90,421.28" stroke="none" stroke-width="1" fill="#a4a4a8" />
<polygon points="125.15,414.46 127.79,417.10 125.15,419.74 122.51,417.10" stroke="none" stroke-width="1" fill="#a4a4a8" />
<polygon points="131.76,409.97 134.40,412.61 131.76,415.25 129.12,412.61" stroke="none" stroke-width="1" fill="#a4a4a8" />
<polygon points="138.38,404.84 141.02,407.48 138.38,410.12 135.74,407.48" stroke="none" stroke-width="1" fill="#a4a4a8" />
<polygon points="144.99,400.21 147.63,402.85 144.99,405.49 142.35,402.85" stroke="none" stroke-width="1" fill="#a4a4a8" />
<polygon points="151.60,394.74 154.24,397.38 151.60,400.02 148.96,397.38" stroke="none" stroke-width="1" fill="#a4a4a8" />
<polygon points="158.21,390.11 160.85,392.75 158.21,395.39 155.57,392.75" stroke="none" stroke-width="1" fill="#a4a4a8" />
<polygon points="164.82,385.18 167.46,387.82 164.82,390.46 162.18,387.82" stroke="none" stroke-width="1" fill="#a4a4a8" />
<polygon points="171.44,381.42 174.08,384.06 171.44,386.70 168.80,384.06" stroke="none" stroke-width="1" fill="#a4a4a8" />
<polygon points="178.05,377.57 180.69,380.21 178.05,382.85 175.41,380.21" stroke="none" stroke-width="1" fill="#a4a4a8" />
<polygon points="184.66,375.99 187.30,378.63 184.66,381.27 182.02,378.63" stroke="none" stroke-width="1" fill="#a4a4a8" />
<polyline points="41.40,444.40 59.03,441.46 65.64,439.60 72.26,437.75 78.87,435.89 85.48,433.87 92.09,431.07 98.70,428.09 105.32,423.80 111.93,419.21 118.54,414.41 125.15,408.08 131.76,401.14 138.38,394.39 144.99,388.06 151.60,381.25 158.21,375.00 164.82,368.51 171.44,364.30 178.05,360.05 184.66,358.01" stroke="#222" stroke-width="0.9" fill="none" stroke-linejoin="round" />
<line x1="78.87" y1="432.90" x2="78.87" y2="438.88" stroke="#222" stroke-width="0.8" />
<line x1="77.27" y1="432.90" x2="80.47" y2="432.90" stroke="#222" stroke-width="0.8" />
<line x1="77.27" y1="438.88" x2="80.47" y2="438.88" stroke="#222" stroke-width="0.8" />
<line x1="85.48" y1="430.77" x2="85.48" y2="436.97" stroke="#222" stroke-width="0.8" />
<line x1="83.88" y1="430.77" x2="87.08" y2="430.77" stroke="#222" stroke-width="0.8" />
<line x1="83.88" y1="436.97" x2="87.08" y2="436.97" stroke="#222" stroke-width="0.8" />
<line x1="92.09" y1="427.85" x2="92.09" y2="434.28" stroke="#222" stroke-width="0.8" />
<line x1="90.49" y1="427.85" x2="93.69" y2="427.85" stroke="#222" stroke-width="0.8" />
<line x1="90.49" y1="434.28" x2="93.69" y2="434.28" stroke="#222" stroke-width="0.8" />
<line x1="98.70" y1="424.76" x2="98.70" y2="431.42" stroke="#222" stroke-width="0.8" />
<line x1="97.10" y1="424.76" x2="100.30" y2="424.76" stroke="#222" stroke-width="0.8" />
<line x1="97.10" y1="431.42" x2="100.30" y2="431.42" stroke="#222" stroke-width="0.8" />
<line x1="105.32" y1="420.36" x2="105.32" y2="427.24" stroke="#222" stroke-width="0.8" />
<line x1="103.72" y1="420.36" x2="106.92" y2="420.36" stroke="#222" stroke-width="0.8" />
<line x1="103.72" y1="427.24" x2="106.92" y2="427.24" stroke="#222" stroke-width="0.8" />
<line x1="111.93" y1="415.65" x2="111.93" y2="422.76" stroke="#222" stroke-width="0.8" />
<line x1="110.33" y1="415.65" x2="113.53" y2="415.65" stroke="#222" stroke-width="0.8" />
<line x1="110.33" y1="422.76" x2="113.53" y2="422.76" stroke="#222" stroke-width="0.8" />
<line x1="118.54" y1="410.75" x2="118.54" y2="418.08" stroke="#222" stroke-width="0.8" />
<line x1="116.94" y1="410.75" x2="120.14" y2="410.75" stroke="#222" stroke-width="0.8" />
<line x1="116.94" y1="418.08" x2="120.14" y2="418.08" stroke="#222" stroke-width="0.8" />
<line x1="125.15" y1="404.31" x2="125.15" y2="411.86" stroke="#222" stroke-width="0.8" />
<line x1="123.55" y1="404.31" x2="126.75" y2="404.31" stroke="#222" stroke-width="0.8" />
<line x1="123.55" y1="411.86" x2="126.75" y2="411.86" stroke="#222" stroke-width="0.8" />
<line x1="131.76" y1="397.25" x2="131.76" y2="405.04" stroke="#222" stroke-width="0.8" />
<line x1="130.16" y1="397.25" x2="133.36" y2="397.25" stroke="#222" stroke-width="0.8" />
<line x1="130.16" y1="405.04" x2="133.36" y2="405.04" stroke="#222" stroke-width="0.8" />
<line x1="138.38" y1="390.39" x2="138.38" y2="398.40" stroke="#222" stroke-width="0.8" />
<line x1="136.78" y1="390.39" x2="139.98" y2="390.39" stroke="#222" stroke-width="0.8" />
<line x1="136.78" y1="398.40" x2="139.98" y2="398.40" stroke="#222" stroke-width="0.8" />
<line x1="144.99" y1="383.95" x2="144.99" y2="392.18" stroke="#222" stroke-width="0.8" />
<line x1="143.39" y1="383.95" x2="146.59" y2="383.95" stroke="#222" stroke-width="0.8" />
<line x1="143.39" y1="392.18" x2="146.59" y2="392.18" stroke="#222" stroke-width="0.8" />
<line x1="151.60" y1="377.02" x2="151.60" y2="385.48" stroke="#222" stroke-width="0.8" />
<line x1="150.00" y1="377.02" x2="153.20" y2="377.02" stroke="#222" stroke-width="0.8" />
<line x1="150.00" y1="385.48" x2="153.20" y2="385.48" stroke="#222" stroke-width="0.8" />
<line x1="158.21" y1="370.65" x2="158.21" y2="379.34" stroke="#222" stroke-width="0.8" />
<line x1="156.61" y1="370.65" x2="159.81" y2="370.65" stroke="#222" stroke-width="0.8" />
<line x1="156.61" y1="379.34" x2="159.81" y2="379.34" stroke="#222" stroke-width="0.8" />
<line x1="164.82" y1="364.06" x2="164.82" y2="372.97" stroke="#222" stroke-width="0.8" />
<line x1="163.22" y1="364.06" x2="166.42" y2="364.06" stroke="#222" stroke-width="0.8" />
<line x1="163.22" y1="372.97" x2="166.42" y2="372.97" stroke="#222" stroke-width="0.8" />
<line x1="171.44" y1="359.73" x2="171.44" y2="368.86" stroke="#222" stroke-width="0.8" />
<line x1="169.84" y1="359.73" x2="173.04" y2="359.73" stroke="#222" stroke-width="0.8" />
<line x1="169.84" y1="368.86" x2="173.04" y2="368.86" stroke="#222" stroke-width="0.8" />
<line x1="178.05" y1="355.37" x2="178.05" y2="364.73" stroke="#222" stroke-width="0.8" />
<line x1="176.45" y1="355.37" x2="179.65" y2="355.37" stroke="#222" stroke-width="0.8" />
<line x1="176.45" y1="364.73" x2="179.65" y2="364.73" stroke="#222" stroke-width="0.8" />
<line x1="184.66" y1="353.22" x2="184.66" y2="362.81" stroke="#222" stroke-width="0.8" />
<line x1="183.06" y1="353.22" x2="186.26" y2="353.22" stroke="#222" stroke-width="0.8" />
<line x1="183.06" y1="362.81" x2="186.26" y2="362.81" stroke="#222" stroke-width="0.8" />
<rect x="39.70" y="442.70" width="3.40" height="3.40" fill="none" stroke="#222" stroke-width="0.714" />
<rect x="57.33" y="439.76" width="3.40" height="3.40" fill="none" stroke="#222" stroke-width="0.714" />
<rect x="63.94" y="437.90" width="3.40" height="3.40" fill="none" stroke="#222" stroke-width="0.714" />
<rect x="70.56" y="436.05" width="3.40" height="3.40" fill="none" stroke="#222" stroke-width="0.714" />
<rect x="77.17" y="434.19" width="3.40" height="3.40" fill="none" stroke="#222" stroke-width="0.714" />
<rect x="83.78" y="432.17" width="3.40" height="3.40" fill="none" stroke="#222" stroke-width="0.714" />
<rect x="90.39" y="429.37" width="3.40" height="3.40" fill="none" stroke="#222" stroke-width="0.714" />
<rect x="97.00" y="426.39" width="3.40" height="3.40" fill="none" stroke="#222" stroke-width="0.714" />
<rect x="103.62" y="422.10" width="3.40" height="3.40" fill="none" stroke="#222" stroke-width="0.714" />
<rect x="110.23" y="417.51" width="3.40" height="3.40" fill="none" stroke="#222" stroke-width="0.714" />
<rect x="116.84" y="412.71" width="3.40" height="3.40" fill="none" stroke="#222" stroke-width="0.714" />
<rect x="123.45" y="406.38" width="3.40" height="3.40" fill="none" stroke="#222" stroke-width="0.714" />
<rect x="130.06" y="399.44" width="3.40" height="3.40" fill="none" stroke="#222" stroke-width="0.714" />
<rect x="136.68" y="392.69" width="3.40" height="3.40" fill="none" stroke="#222" stroke-width="0.714" />
<rect x="143.29" y="386.36" width="3.40" height="3.40" fill="none" stroke="#222" stroke-width="0.714" />
<rect x="149.90" y="379.55" width="3.40" height="3.40" fill="none" stroke="#222" stroke-width="0.714" />
<rect x="156.51" y="373.30" width="3.40" height="3.40" fill="none" stroke="#222" stroke-width="0.714" />
<rect x="163.12" y="366.81" width="3.40" height="3.40" fill="none" stroke="#222" stroke-width="0.714" />
<rect x="169.74" y="362.60" width="3.40" height="3.40" fill="none" stroke="#222" stroke-width="0.714" />
<rect x="176.35" y="358.35" width="3.40" height="3.40" fill="none" stroke="#222" stroke-width="0.714" />
<rect x="182.96" y="356.31" width="3.40" height="3.40" fill="none" stroke="#222" stroke-width="0.714" />
<polyline points="41.40,444.40 59.03,441.82 65.64,440.43 72.26,439.05 78.87,437.66 85.48,436.19 92.09,434.36 98.70,432.90 105.32,431.76 111.93,428.80 118.54,426.35 125.15,422.94 131.76,419.21 138.38,414.84 144.99,410.97 151.60,406.27 158.21,402.40 164.82,398.23 171.44,395.22 178.05,392.14 184.66,391.20" stroke="#2f3f9c" stroke-width="1.0" fill="none" stroke-linejoin="round" />
<circle cx="41.40" cy="444.40" r="2.35" fill="#2f3f9c"/>
<circle cx="59.03" cy="441.82" r="2.35" fill="#2f3f9c"/>
<circle cx="65.64" cy="440.43" r="2.35" fill="#2f3f9c"/>
<circle cx="72.26" cy="439.05" r="2.35" fill="#2f3f9c"/>
<circle cx="78.87" cy="437.66" r="2.35" fill="#2f3f9c"/>
<circle cx="85.48" cy="436.19" r="2.35" fill="#2f3f9c"/>
<circle cx="92.09" cy="434.36" r="2.35" fill="#2f3f9c"/>
<circle cx="98.70" cy="432.90" r="2.35" fill="#2f3f9c"/>
<circle cx="105.32" cy="431.76" r="2.35" fill="#2f3f9c"/>
<circle cx="111.93" cy="428.80" r="2.35" fill="#2f3f9c"/>
<circle cx="118.54" cy="426.35" r="2.35" fill="#2f3f9c"/>
<circle cx="125.15" cy="422.94" r="2.35" fill="#2f3f9c"/>
<circle cx="131.76" cy="419.21" r="2.35" fill="#2f3f9c"/>
<circle cx="138.38" cy="414.84" r="2.35" fill="#2f3f9c"/>
<circle cx="144.99" cy="410.97" r="2.35" fill="#2f3f9c"/>
<circle cx="151.60" cy="406.27" r="2.35" fill="#2f3f9c"/>
<circle cx="158.21" cy="402.40" r="2.35" fill="#2f3f9c"/>
<circle cx="164.82" cy="398.23" r="2.35" fill="#2f3f9c"/>
<circle cx="171.44" cy="395.22" r="2.35" fill="#2f3f9c"/>
<circle cx="178.05" cy="392.14" r="2.35" fill="#2f3f9c"/>
<circle cx="184.66" cy="391.20" r="2.35" fill="#2f3f9c"/>
<rect x="38.70" y="441.70" width="5.40" height="5.40" fill="#2e3a8a" stroke="none" stroke-width="1" />
<line x1="247.90" y1="341.50" x2="247.90" y2="458.30" stroke="#333" stroke-width="1.0" />
<line x1="247.90" y1="458.30" x2="400.00" y2="458.30" stroke="#333" stroke-width="1.0" />
<line x1="245.70" y1="341.75" x2="247.90" y2="341.75" stroke="#333" stroke-width="1.0" />
<text x="244.70" y="344.16" font-size="6.7" font-weight="bold" text-anchor="end" fill="#333" >700</text>
<line x1="245.70" y1="358.40" x2="247.90" y2="358.40" stroke="#333" stroke-width="1.0" />
<text x="244.70" y="360.81" font-size="6.7" font-weight="bold" text-anchor="end" fill="#333" >600</text>
<line x1="245.70" y1="375.05" x2="247.90" y2="375.05" stroke="#333" stroke-width="1.0" />
<text x="244.70" y="377.46" font-size="6.7" font-weight="bold" text-anchor="end" fill="#333" >500</text>
<line x1="245.70" y1="391.70" x2="247.90" y2="391.70" stroke="#333" stroke-width="1.0" />
<text x="244.70" y="394.11" font-size="6.7" font-weight="bold" text-anchor="end" fill="#333" >400</text>
<line x1="245.70" y1="408.35" x2="247.90" y2="408.35" stroke="#333" stroke-width="1.0" />
<text x="244.70" y="410.76" font-size="6.7" font-weight="bold" text-anchor="end" fill="#333" >300</text>
<line x1="245.70" y1="425.00" x2="247.90" y2="425.00" stroke="#333" stroke-width="1.0" />
<text x="244.70" y="427.41" font-size="6.7" font-weight="bold" text-anchor="end" fill="#333" >200</text>
<line x1="245.70" y1="441.65" x2="247.90" y2="441.65" stroke="#333" stroke-width="1.0" />
<text x="244.70" y="444.06" font-size="6.7" font-weight="bold" text-anchor="end" fill="#333" >100</text>
<line x1="245.70" y1="458.30" x2="247.90" y2="458.30" stroke="#333" stroke-width="1.0" />
<text x="244.70" y="460.71" font-size="6.7" font-weight="bold" text-anchor="end" fill="#333" >0</text>
<line x1="247.90" y1="458.30" x2="247.90" y2="460.50" stroke="#333" stroke-width="1.0" />
<text x="247.90" y="467.54" font-size="6.7" font-weight="bold" text-anchor="middle" fill="#333" >0</text>
<line x1="259.51" y1="458.30" x2="259.51" y2="460.50" stroke="#333" stroke-width="1.0" />
<text x="259.51" y="467.54" font-size="6.7" font-weight="bold" text-anchor="middle" fill="#333" >10</text>
<line x1="271.12" y1="458.30" x2="271.12" y2="460.50" stroke="#333" stroke-width="1.0" />
<text x="271.12" y="467.54" font-size="6.7" font-weight="bold" text-anchor="middle" fill="#333" >20</text>
<line x1="282.73" y1="458.30" x2="282.73" y2="460.50" stroke="#333" stroke-width="1.0" />
<text x="282.73" y="467.54" font-size="6.7" font-weight="bold" text-anchor="middle" fill="#333" >30</text>
<line x1="294.34" y1="458.30" x2="294.34" y2="460.50" stroke="#333" stroke-width="1.0" />
<text x="294.34" y="467.54" font-size="6.7" font-weight="bold" text-anchor="middle" fill="#333" >40</text>
<line x1="305.95" y1="458.30" x2="305.95" y2="460.50" stroke="#333" stroke-width="1.0" />
<text x="305.95" y="467.54" font-size="6.7" font-weight="bold" text-anchor="middle" fill="#333" >50</text>
<line x1="317.56" y1="458.30" x2="317.56" y2="460.50" stroke="#333" stroke-width="1.0" />
<text x="317.56" y="467.54" font-size="6.7" font-weight="bold" text-anchor="middle" fill="#333" >60</text>
<line x1="329.17" y1="458.30" x2="329.17" y2="460.50" stroke="#333" stroke-width="1.0" />
<text x="329.17" y="467.54" font-size="6.7" font-weight="bold" text-anchor="middle" fill="#333" >70</text>
<line x1="340.78" y1="458.30" x2="340.78" y2="460.50" stroke="#333" stroke-width="1.0" />
<text x="340.78" y="467.54" font-size="6.7" font-weight="bold" text-anchor="middle" fill="#333" >80</text>
<line x1="352.39" y1="458.30" x2="352.39" y2="460.50" stroke="#333" stroke-width="1.0" />
<text x="352.39" y="467.54" font-size="6.7" font-weight="bold" text-anchor="middle" fill="#333" >90</text>
<line x1="364.00" y1="458.30" x2="364.00" y2="460.50" stroke="#333" stroke-width="1.0" />
<text x="364.00" y="467.54" font-size="6.7" font-weight="bold" text-anchor="middle" fill="#333" >100</text>
<line x1="375.61" y1="458.30" x2="375.61" y2="460.50" stroke="#333" stroke-width="1.0" />
<text x="375.61" y="467.54" font-size="6.7" font-weight="bold" text-anchor="middle" fill="#333" >110</text>
<line x1="387.22" y1="458.30" x2="387.22" y2="460.50" stroke="#333" stroke-width="1.0" />
<text x="387.22" y="467.54" font-size="6.7" font-weight="bold" text-anchor="middle" fill="#333" >120</text>
<line x1="398.83" y1="458.30" x2="398.83" y2="460.50" stroke="#333" stroke-width="1.0" />
<text x="398.83" y="467.54" font-size="6.7" font-weight="bold" text-anchor="middle" fill="#333" >130</text>
<text x="323.50" y="477.80" font-size="8.0" font-weight="bold" text-anchor="middle" fill="#222" >Hour</text>
<text x="224.30" y="399.00" font-size="7.4" font-weight="bold" text-anchor="middle" fill="#222" transform="rotate(-90 224.3 399)">% Change of target cell number</text>
<polyline points="247.90,441.65 266.48,433.46 273.44,429.58 280.41,427.08 287.37,424.67 294.34,422.72 301.31,421.17 308.27,420.23 315.24,419.64 322.20,419.59 329.17,420.06 336.14,420.50 343.10,421.61 350.07,423.28 357.03,424.94 364.00,426.61 370.97,428.27 377.93,429.86 384.90,431.02 391.86,432.22 398.83,433.32" stroke="#d4d4d8" stroke-width="0.9" fill="none" stroke-linejoin="round" />
<line x1="294.34" y1="421.06" x2="294.34" y2="424.39" stroke="#d8d8dc" stroke-width="0.8" />
<line x1="292.74" y1="421.06" x2="295.94" y2="421.06" stroke="#d8d8dc" stroke-width="0.8" />
<line x1="292.74" y1="424.39" x2="295.94" y2="424.39" stroke="#d8d8dc" stroke-width="0.8" />
<line x1="301.31" y1="419.51" x2="301.31" y2="422.84" stroke="#d8d8dc" stroke-width="0.8" />
<line x1="299.71" y1="419.51" x2="302.91" y2="419.51" stroke="#d8d8dc" stroke-width="0.8" />
<line x1="299.71" y1="422.84" x2="302.91" y2="422.84" stroke="#d8d8dc" stroke-width="0.8" />
<line x1="308.27" y1="418.56" x2="308.27" y2="421.89" stroke="#d8d8dc" stroke-width="0.8" />
<line x1="306.67" y1="418.56" x2="309.87" y2="418.56" stroke="#d8d8dc" stroke-width="0.8" />
<line x1="306.67" y1="421.89" x2="309.87" y2="421.89" stroke="#d8d8dc" stroke-width="0.8" />
<line x1="315.24" y1="417.98" x2="315.24" y2="421.31" stroke="#d8d8dc" stroke-width="0.8" />
<line x1="313.64" y1="417.98" x2="316.84" y2="417.98" stroke="#d8d8dc" stroke-width="0.8" />
<line x1="313.64" y1="421.31" x2="316.84" y2="421.31" stroke="#d8d8dc" stroke-width="0.8" />
<line x1="322.20" y1="417.92" x2="322.20" y2="421.25" stroke="#d8d8dc" stroke-width="0.8" />
<line x1="320.60" y1="417.92" x2="323.80" y2="417.92" stroke="#d8d8dc" stroke-width="0.8" />
<line x1="320.60" y1="421.25" x2="323.80" y2="421.25" stroke="#d8d8dc" stroke-width="0.8" />
<line x1="329.17" y1="418.40" x2="329.17" y2="421.73" stroke="#d8d8dc" stroke-width="0.8" />
<line x1="327.57" y1="418.40" x2="330.77" y2="418.40" stroke="#d8d8dc" stroke-width="0.8" />
<line x1="327.57" y1="421.73" x2="330.77" y2="421.73" stroke="#d8d8dc" stroke-width="0.8" />
<line x1="336.14" y1="418.84" x2="336.14" y2="422.17" stroke="#d8d8dc" stroke-width="0.8" />
<line x1="334.54" y1="418.84" x2="337.74" y2="418.84" stroke="#d8d8dc" stroke-width="0.8" />
<line x1="334.54" y1="422.17" x2="337.74" y2="422.17" stroke="#d8d8dc" stroke-width="0.8" />
<line x1="343.10" y1="419.95" x2="343.10" y2="423.28" stroke="#d8d8dc" stroke-width="0.8" />
<line x1="341.50" y1="419.95" x2="344.70" y2="419.95" stroke="#d8d8dc" stroke-width="0.8" />
<line x1="341.50" y1="423.28" x2="344.70" y2="423.28" stroke="#d8d8dc" stroke-width="0.8" />
<line x1="350.07" y1="421.61" x2="350.07" y2="424.94" stroke="#d8d8dc" stroke-width="0.8" />
<line x1="348.47" y1="421.61" x2="351.67" y2="421.61" stroke="#d8d8dc" stroke-width="0.8" />
<line x1="348.47" y1="424.94" x2="351.67" y2="424.94" stroke="#d8d8dc" stroke-width="0.8" />
<line x1="357.03" y1="423.28" x2="357.03" y2="426.61" stroke="#d8d8dc" stroke-width="0.8" />
<line x1="355.43" y1="423.28" x2="358.63" y2="423.28" stroke="#d8d8dc" stroke-width="0.8" />
<line x1="355.43" y1="426.61" x2="358.63" y2="426.61" stroke="#d8d8dc" stroke-width="0.8" />
<line x1="364.00" y1="424.94" x2="364.00" y2="428.27" stroke="#d8d8dc" stroke-width="0.8" />
<line x1="362.40" y1="424.94" x2="365.60" y2="424.94" stroke="#d8d8dc" stroke-width="0.8" />
<line x1="362.40" y1="428.27" x2="365.60" y2="428.27" stroke="#d8d8dc" stroke-width="0.8" />
<line x1="370.97" y1="426.61" x2="370.97" y2="429.94" stroke="#d8d8dc" stroke-width="0.8" />
<line x1="369.37" y1="426.61" x2="372.57" y2="426.61" stroke="#d8d8dc" stroke-width="0.8" />
<line x1="369.37" y1="429.94" x2="372.57" y2="429.94" stroke="#d8d8dc" stroke-width="0.8" />
<line x1="377.93" y1="428.19" x2="377.93" y2="431.52" stroke="#d8d8dc" stroke-width="0.8" />
<line x1="376.33" y1="428.19" x2="379.53" y2="428.19" stroke="#d8d8dc" stroke-width="0.8" />
<line x1="376.33" y1="431.52" x2="379.53" y2="431.52" stroke="#d8d8dc" stroke-width="0.8" />
<line x1="384.90" y1="429.36" x2="384.90" y2="432.69" stroke="#d8d8dc" stroke-width="0.8" />
<line x1="383.30" y1="429.36" x2="386.50" y2="429.36" stroke="#d8d8dc" stroke-width="0.8" />
<line x1="383.30" y1="432.69" x2="386.50" y2="432.69" stroke="#d8d8dc" stroke-width="0.8" />
<line x1="391.86" y1="430.55" x2="391.86" y2="433.88" stroke="#d8d8dc" stroke-width="0.8" />
<line x1="390.26" y1="430.55" x2="393.46" y2="430.55" stroke="#d8d8dc" stroke-width="0.8" />
<line x1="390.26" y1="433.88" x2="393.46" y2="433.88" stroke="#d8d8dc" stroke-width="0.8" />
<line x1="398.83" y1="431.66" x2="398.83" y2="434.99" stroke="#d8d8dc" stroke-width="0.8" />
<line x1="397.23" y1="431.66" x2="400.43" y2="431.66" stroke="#d8d8dc" stroke-width="0.8" />
<line x1="397.23" y1="434.99" x2="400.43" y2="434.99" stroke="#d8d8dc" stroke-width="0.8" />
<polygon points="247.90,439.25 250.30,441.65 247.90,444.05 245.50,441.65" stroke="none" stroke-width="1" fill="#d4d4d8" />
<polygon points="266.48,431.06 268.88,433.46 266.48,435.86 264.08,433.46" stroke="none" stroke-width="1" fill="#d4d4d8" />
<polygon points="273.44,427.18 275.84,429.58 273.44,431.98 271.04,429.58" stroke="none" stroke-width="1" fill="#d4d4d8" />
<polygon points="280.41,424.68 282.81,427.08 280.41,429.48 278.01,427.08" stroke="none" stroke-width="1" fill="#d4d4d8" />
<polygon points="287.37,422.27 289.77,424.67 287.37,427.07 284.97,424.67" stroke="none" stroke-width="1" fill="#d4d4d8" />
<polygon points="294.34,420.32 296.74,422.72 294.34,425.12 291.94,422.72" stroke="none" stroke-width="1" fill="#d4d4d8" />
<polygon points="301.31,418.77 303.71,421.17 301.31,423.57 298.91,421.17" stroke="none" stroke-width="1" fill="#d4d4d8" />
<polygon points="308.27,417.83 310.67,420.23 308.27,422.63 305.87,420.23" stroke="none" stroke-width="1" fill="#d4d4d8" />
<polygon points="315.24,417.24 317.64,419.64 315.24,422.04 312.84,419.64" stroke="none" stroke-width="1" fill="#d4d4d8" />
<polygon points="322.20,417.19 324.60,419.59 322.20,421.99 319.80,419.59" stroke="none" stroke-width="1" fill="#d4d4d8" />
<polygon points="329.17,417.66 331.57,420.06 329.17,422.46 326.77,420.06" stroke="none" stroke-width="1" fill="#d4d4d8" />
<polygon points="336.14,418.10 338.54,420.50 336.14,422.90 333.74,420.50" stroke="none" stroke-width="1" fill="#d4d4d8" />
<polygon points="343.10,419.21 345.50,421.61 343.10,424.01 340.70,421.61" stroke="none" stroke-width="1" fill="#d4d4d8" />
<polygon points="350.07,420.88 352.47,423.28 350.07,425.68 347.67,423.28" stroke="none" stroke-width="1" fill="#d4d4d8" />
<polygon points="357.03,422.54 359.43,424.94 357.03,427.34 354.63,424.94" stroke="none" stroke-width="1" fill="#d4d4d8" />
<polygon points="364.00,424.21 366.40,426.61 364.00,429.01 361.60,426.61" stroke="none" stroke-width="1" fill="#d4d4d8" />
<polygon points="370.97,425.87 373.37,428.27 370.97,430.67 368.57,428.27" stroke="none" stroke-width="1" fill="#d4d4d8" />
<polygon points="377.93,427.46 380.33,429.86 377.93,432.26 375.53,429.86" stroke="none" stroke-width="1" fill="#d4d4d8" />
<polygon points="384.90,428.62 387.30,431.02 384.90,433.42 382.50,431.02" stroke="none" stroke-width="1" fill="#d4d4d8" />
<polygon points="391.86,429.82 394.26,432.22 391.86,434.62 389.46,432.22" stroke="none" stroke-width="1" fill="#d4d4d8" />
<polygon points="398.83,430.93 401.23,433.32 398.83,435.72 396.43,433.32" stroke="none" stroke-width="1" fill="#d4d4d8" />
<polyline points="247.90,441.65 266.48,433.46 273.44,429.44 280.41,426.11 287.37,422.84 294.34,419.87 301.31,417.15 308.27,415.18 315.24,414.29 322.20,414.07 329.17,414.40 336.14,414.54 343.10,413.73 350.07,412.96 357.03,411.65 364.00,410.51 370.97,409.52 377.93,408.57 384.90,407.91 391.86,407.02 398.83,405.35" stroke="#a4a4a8" stroke-width="1.0" fill="none" stroke-linejoin="round" />
<line x1="294.34" y1="415.67" x2="294.34" y2="424.06" stroke="#b4b4b8" stroke-width="0.8" />
<line x1="292.74" y1="415.67" x2="295.94" y2="415.67" stroke="#b4b4b8" stroke-width="0.8" />
<line x1="292.74" y1="424.06" x2="295.94" y2="424.06" stroke="#b4b4b8" stroke-width="0.8" />
<line x1="301.31" y1="412.57" x2="301.31" y2="421.72" stroke="#b4b4b8" stroke-width="0.8" />
<line x1="299.71" y1="412.57" x2="302.91" y2="412.57" stroke="#b4b4b8" stroke-width="0.8" />
<line x1="299.71" y1="421.72" x2="302.91" y2="421.72" stroke="#b4b4b8" stroke-width="0.8" />
<line x1="308.27" y1="410.22" x2="308.27" y2="420.13" stroke="#b4b4b8" stroke-width="0.8" />
<line x1="306.67" y1="410.22" x2="309.87" y2="410.22" stroke="#b4b4b8" stroke-width="0.8" />
<line x1="306.67" y1="420.13" x2="309.87" y2="420.13" stroke="#b4b4b8" stroke-width="0.8" />
<line x1="315.24" y1="408.95" x2="315.24" y2="419.62" stroke="#b4b4b8" stroke-width="0.8" />
<line x1="313.64" y1="408.95" x2="316.84" y2="408.95" stroke="#b4b4b8" stroke-width="0.8" />
<line x1="313.64" y1="419.62" x2="316.84" y2="419.62" stroke="#b4b4b8" stroke-width="0.8" />
<line x1="322.20" y1="408.35" x2="322.20" y2="419.78" stroke="#b4b4b8" stroke-width="0.8" />
<line x1="320.60" y1="408.35" x2="323.80" y2="408.35" stroke="#b4b4b8" stroke-width="0.8" />
<line x1="320.60" y1="419.78" x2="323.80" y2="419.78" stroke="#b4b4b8" stroke-width="0.8" />
<line x1="329.17" y1="408.31" x2="329.17" y2="420.49" stroke="#b4b4b8" stroke-width="0.8" />
<line x1="327.57" y1="408.31" x2="330.77" y2="408.31" stroke="#b4b4b8" stroke-width="0.8" />
<line x1="327.57" y1="420.49" x2="330.77" y2="420.49" stroke="#b4b4b8" stroke-width="0.8" />
<line x1="336.14" y1="408.06" x2="336.14" y2="421.01" stroke="#b4b4b8" stroke-width="0.8" />
<line x1="334.54" y1="408.06" x2="337.74" y2="408.06" stroke="#b4b4b8" stroke-width="0.8" />
<line x1="334.54" y1="421.01" x2="337.74" y2="421.01" stroke="#b4b4b8" stroke-width="0.8" />
<line x1="343.10" y1="406.88" x2="343.10" y2="420.59" stroke="#b4b4b8" stroke-width="0.8" />
<line x1="341.50" y1="406.88" x2="344.70" y2="406.88" stroke="#b4b4b8" stroke-width="0.8" />
<line x1="341.50" y1="420.59" x2="344.70" y2="420.59" stroke="#b4b4b8" stroke-width="0.8" />
<line x1="350.07" y1="405.72" x2="350.07" y2="420.19" stroke="#b4b4b8" stroke-width="0.8" />
<line x1="348.47" y1="405.72" x2="351.67" y2="405.72" stroke="#b4b4b8" stroke-width="0.8" />
<line x1="348.47" y1="420.19" x2="351.67" y2="420.19" stroke="#b4b4b8" stroke-width="0.8" />
<line x1="357.03" y1="404.04" x2="357.03" y2="419.26" stroke="#b4b4b8" stroke-width="0.8" />
<line x1="355.43" y1="404.04" x2="358.63" y2="404.04" stroke="#b4b4b8" stroke-width="0.8" />
<line x1="355.43" y1="419.26" x2="358.63" y2="419.26" stroke="#b4b4b8" stroke-width="0.8" />
<line x1="364.00" y1="402.52" x2="364.00" y2="418.51" stroke="#b4b4b8" stroke-width="0.8" />
<line x1="362.40" y1="402.52" x2="365.60" y2="402.52" stroke="#b4b4b8" stroke-width="0.8" />
<line x1="362.40" y1="418.51" x2="365.60" y2="418.51" stroke="#b4b4b8" stroke-width="0.8" />
<line x1="370.97" y1="401.14" x2="370.97" y2="417.89" stroke="#b4b4b8" stroke-width="0.8" />
<line x1="369.37" y1="401.14" x2="372.57" y2="401.14" stroke="#b4b4b8" stroke-width="0.8" />
<line x1="369.37" y1="417.89" x2="372.57" y2="417.89" stroke="#b4b4b8" stroke-width="0.8" />
<line x1="377.93" y1="399.82" x2="377.93" y2="417.32" stroke="#b4b4b8" stroke-width="0.8" />
<line x1="376.33" y1="399.82" x2="379.53" y2="399.82" stroke="#b4b4b8" stroke-width="0.8" />
<line x1="376.33" y1="417.32" x2="379.53" y2="417.32" stroke="#b4b4b8" stroke-width="0.8" />
<line x1="384.90" y1="398.78" x2="384.90" y2="417.04" stroke="#b4b4b8" stroke-width="0.8" />
<line x1="383.30" y1="398.78" x2="386.50" y2="398.78" stroke="#b4b4b8" stroke-width="0.8" />
<line x1="383.30" y1="417.04" x2="386.50" y2="417.04" stroke="#b4b4b8" stroke-width="0.8" />
<line x1="391.86" y1="397.51" x2="391.86" y2="416.53" stroke="#b4b4b8" stroke-width="0.8" />
<line x1="390.26" y1="397.51" x2="393.46" y2="397.51" stroke="#b4b4b8" stroke-width="0.8" />
<line x1="390.26" y1="416.53" x2="393.46" y2="416.53" stroke="#b4b4b8" stroke-width="0.8" />
<line x1="398.83" y1="395.46" x2="398.83" y2="415.24" stroke="#b4b4b8" stroke-width="0.8" />
<line x1="397.23" y1="395.46" x2="400.43" y2="395.46" stroke="#b4b4b8" stroke-width="0.8" />
<line x1="397.23" y1="415.24" x2="400.43" y2="415.24" stroke="#b4b4b8" stroke-width="0.8" />
<polygon points="247.90,438.89 250.66,441.65 247.90,444.41 245.14,441.65" stroke="none" stroke-width="1" fill="#a4a4a8" />
<polygon points="266.48,430.70 269.24,433.46 266.48,436.22 263.72,433.46" stroke="none" stroke-width="1" fill="#a4a4a8" />
<polygon points="273.44,426.68 276.20,429.44 273.44,432.20 270.68,429.44" stroke="none" stroke-width="1" fill="#a4a4a8" />
<polygon points="280.41,423.35 283.17,426.11 280.41,428.87 277.65,426.11" stroke="none" stroke-width="1" fill="#a4a4a8" />
<polygon points="287.37,420.08 290.13,422.84 287.37,425.60 284.61,422.84" stroke="none" stroke-width="1" fill="#a4a4a8" />
<polygon points="294.34,417.11 297.10,419.87 294.34,422.63 291.58,419.87" stroke="none" stroke-width="1" fill="#a4a4a8" />
<polygon points="301.31,414.39 304.07,417.15 301.31,419.91 298.55,417.15" stroke="none" stroke-width="1" fill="#a4a4a8" />
<polygon points="308.27,412.42 311.03,415.18 308.27,417.94 305.51,415.18" stroke="none" stroke-width="1" fill="#a4a4a8" />
<polygon points="315.24,411.53 318.00,414.29 315.24,417.05 312.48,414.29" stroke="none" stroke-width="1" fill="#a4a4a8" />
<polygon points="322.20,411.31 324.96,414.07 322.20,416.83 319.44,414.07" stroke="none" stroke-width="1" fill="#a4a4a8" />
<polygon points="329.17,411.64 331.93,414.40 329.17,417.16 326.41,414.40" stroke="none" stroke-width="1" fill="#a4a4a8" />
<polygon points="336.14,411.78 338.90,414.54 336.14,417.30 333.38,414.54" stroke="none" stroke-width="1" fill="#a4a4a8" />
<polygon points="343.10,410.97 345.86,413.73 343.10,416.49 340.34,413.73" stroke="none" stroke-width="1" fill="#a4a4a8" />
<polygon points="350.07,410.20 352.83,412.96 350.07,415.72 347.31,412.96" stroke="none" stroke-width="1" fill="#a4a4a8" />
<polygon points="357.03,408.89 359.79,411.65 357.03,414.41 354.27,411.65" stroke="none" stroke-width="1" fill="#a4a4a8" />
<polygon points="364.00,407.75 366.76,410.51 364.00,413.27 361.24,410.51" stroke="none" stroke-width="1" fill="#a4a4a8" />
<polygon points="370.97,406.76 373.73,409.52 370.97,412.28 368.21,409.52" stroke="none" stroke-width="1" fill="#a4a4a8" />
<polygon points="377.93,405.81 380.69,408.57 377.93,411.33 375.17,408.57" stroke="none" stroke-width="1" fill="#a4a4a8" />
<polygon points="384.90,405.15 387.66,407.91 384.90,410.67 382.14,407.91" stroke="none" stroke-width="1" fill="#a4a4a8" />
<polygon points="391.86,404.26 394.62,407.02 391.86,409.78 389.10,407.02" stroke="none" stroke-width="1" fill="#a4a4a8" />
<polygon points="398.83,402.59 401.59,405.35 398.83,408.11 396.07,405.35" stroke="none" stroke-width="1" fill="#a4a4a8" />
<polyline points="247.90,441.65 266.48,433.60 273.44,430.83 280.41,430.66 287.37,429.72 294.34,429.16 301.31,429.16 308.27,429.27 315.24,430.05 322.20,431.35 329.17,432.38 336.14,432.99 343.10,434.96 350.07,436.82 357.03,438.74 364.00,440.12 370.97,441.07 377.93,442.57 384.90,443.95 391.86,444.87 398.83,445.98" stroke="#e02a30" stroke-width="1.0" fill="none" stroke-linejoin="round" />
<circle cx="247.90" cy="441.65" r="2.40" fill="#e02a30"/>
<circle cx="266.48" cy="433.60" r="2.40" fill="#e02a30"/>
<circle cx="273.44" cy="430.83" r="2.40" fill="#e02a30"/>
<circle cx="280.41" cy="430.66" r="2.40" fill="#e02a30"/>
<circle cx="287.37" cy="429.72" r="2.40" fill="#e02a30"/>
<circle cx="294.34" cy="429.16" r="2.40" fill="#e02a30"/>
<circle cx="301.31" cy="429.16" r="2.40" fill="#e02a30"/>
<circle cx="308.27" cy="429.27" r="2.40" fill="#e02a30"/>
<circle cx="315.24" cy="430.05" r="2.40" fill="#e02a30"/>
<circle cx="322.20" cy="431.35" r="2.40" fill="#e02a30"/>
<circle cx="329.17" cy="432.38" r="2.40" fill="#e02a30"/>
<circle cx="336.14" cy="432.99" r="2.40" fill="#e02a30"/>
<circle cx="343.10" cy="434.96" r="2.40" fill="#e02a30"/>
<circle cx="350.07" cy="436.82" r="2.40" fill="#e02a30"/>
<circle cx="357.03" cy="438.74" r="2.40" fill="#e02a30"/>
<circle cx="364.00" cy="440.12" r="2.40" fill="#e02a30"/>
<circle cx="370.97" cy="441.07" r="2.40" fill="#e02a30"/>
<circle cx="377.93" cy="442.57" r="2.40" fill="#e02a30"/>
<circle cx="384.90" cy="443.95" r="2.40" fill="#e02a30"/>
<circle cx="391.86" cy="444.87" r="2.40" fill="#e02a30"/>
<circle cx="398.83" cy="445.98" r="2.40" fill="#e02a30"/>
<polyline points="247.90,441.65 266.48,433.52 273.44,430.05 280.41,428.27 287.37,425.97 294.34,423.89 301.31,422.36 308.27,421.64 315.24,421.50 322.20,421.56 329.17,421.95 336.14,422.70 343.10,423.95 350.07,425.56 357.03,426.89 364.00,428.27 370.97,429.86 377.93,431.11 384.90,432.63 391.86,433.60 398.83,434.99" stroke="#2f3f9c" stroke-width="1.0" fill="none" stroke-linejoin="round" />
<line x1="294.34" y1="422.56" x2="294.34" y2="425.22" stroke="#2f3f9c" stroke-width="0.8" />
<line x1="292.74" y1="422.56" x2="295.94" y2="422.56" stroke="#2f3f9c" stroke-width="0.8" />
<line x1="292.74" y1="425.22" x2="295.94" y2="425.22" stroke="#2f3f9c" stroke-width="0.8" />
<line x1="301.31" y1="421.03" x2="301.31" y2="423.70" stroke="#2f3f9c" stroke-width="0.8" />
<line x1="299.71" y1="421.03" x2="302.91" y2="421.03" stroke="#2f3f9c" stroke-width="0.8" />
<line x1="299.71" y1="423.70" x2="302.91" y2="423.70" stroke="#2f3f9c" stroke-width="0.8" />
<line x1="308.27" y1="420.31" x2="308.27" y2="422.97" stroke="#2f3f9c" stroke-width="0.8" />
<line x1="306.67" y1="420.31" x2="309.87" y2="420.31" stroke="#2f3f9c" stroke-width="0.8" />
<line x1="306.67" y1="422.97" x2="309.87" y2="422.97" stroke="#2f3f9c" stroke-width="0.8" />
<line x1="315.24" y1="420.17" x2="315.24" y2="422.84" stroke="#2f3f9c" stroke-width="0.8" />
<line x1="313.64" y1="420.17" x2="316.84" y2="420.17" stroke="#2f3f9c" stroke-width="0.8" />
<line x1="313.64" y1="422.84" x2="316.84" y2="422.84" stroke="#2f3f9c" stroke-width="0.8" />
<line x1="322.20" y1="420.23" x2="322.20" y2="422.89" stroke="#2f3f9c" stroke-width="0.8" />
<line x1="320.60" y1="420.23" x2="323.80" y2="420.23" stroke="#2f3f9c" stroke-width="0.8" />
<line x1="320.60" y1="422.89" x2="323.80" y2="422.89" stroke="#2f3f9c" stroke-width="0.8" />
<line x1="329.17" y1="420.62" x2="329.17" y2="423.28" stroke="#2f3f9c" stroke-width="0.8" />
<line x1="327.57" y1="420.62" x2="330.77" y2="420.62" stroke="#2f3f9c" stroke-width="0.8" />
<line x1="327.57" y1="423.28" x2="330.77" y2="423.28" stroke="#2f3f9c" stroke-width="0.8" />
<line x1="336.14" y1="421.36" x2="336.14" y2="424.03" stroke="#2f3f9c" stroke-width="0.8" />
<line x1="334.54" y1="421.36" x2="337.74" y2="421.36" stroke="#2f3f9c" stroke-width="0.8" />
<line x1="334.54" y1="424.03" x2="337.74" y2="424.03" stroke="#2f3f9c" stroke-width="0.8" />
<line x1="343.10" y1="422.61" x2="343.10" y2="425.28" stroke="#2f3f9c" stroke-width="0.8" />
<line x1="341.50" y1="422.61" x2="344.70" y2="422.61" stroke="#2f3f9c" stroke-width="0.8" />
<line x1="341.50" y1="425.28" x2="344.70" y2="425.28" stroke="#2f3f9c" stroke-width="0.8" />
<line x1="350.07" y1="424.22" x2="350.07" y2="426.89" stroke="#2f3f9c" stroke-width="0.8" />
<line x1="348.47" y1="424.22" x2="351.67" y2="424.22" stroke="#2f3f9c" stroke-width="0.8" />
<line x1="348.47" y1="426.89" x2="351.67" y2="426.89" stroke="#2f3f9c" stroke-width="0.8" />
<line x1="357.03" y1="425.56" x2="357.03" y2="428.22" stroke="#2f3f9c" stroke-width="0.8" />
<line x1="355.43" y1="425.56" x2="358.63" y2="425.56" stroke="#2f3f9c" stroke-width="0.8" />
<line x1="355.43" y1="428.22" x2="358.63" y2="428.22" stroke="#2f3f9c" stroke-width="0.8" />
<line x1="364.00" y1="426.94" x2="364.00" y2="429.61" stroke="#2f3f9c" stroke-width="0.8" />
<line x1="362.40" y1="426.94" x2="365.60" y2="426.94" stroke="#2f3f9c" stroke-width="0.8" />
<line x1="362.40" y1="429.61" x2="365.60" y2="429.61" stroke="#2f3f9c" stroke-width="0.8" />
<line x1="370.97" y1="428.52" x2="370.97" y2="431.19" stroke="#2f3f9c" stroke-width="0.8" />
<line x1="369.37" y1="428.52" x2="372.57" y2="428.52" stroke="#2f3f9c" stroke-width="0.8" />
<line x1="369.37" y1="431.19" x2="372.57" y2="431.19" stroke="#2f3f9c" stroke-width="0.8" />
<line x1="377.93" y1="429.77" x2="377.93" y2="432.44" stroke="#2f3f9c" stroke-width="0.8" />
<line x1="376.33" y1="429.77" x2="379.53" y2="429.77" stroke="#2f3f9c" stroke-width="0.8" />
<line x1="376.33" y1="432.44" x2="379.53" y2="432.44" stroke="#2f3f9c" stroke-width="0.8" />
<line x1="384.90" y1="431.30" x2="384.90" y2="433.96" stroke="#2f3f9c" stroke-width="0.8" />
<line x1="383.30" y1="431.30" x2="386.50" y2="431.30" stroke="#2f3f9c" stroke-width="0.8" />
<line x1="383.30" y1="433.96" x2="386.50" y2="433.96" stroke="#2f3f9c" stroke-width="0.8" />
<line x1="391.86" y1="432.27" x2="391.86" y2="434.93" stroke="#2f3f9c" stroke-width="0.8" />
<line x1="390.26" y1="432.27" x2="393.46" y2="432.27" stroke="#2f3f9c" stroke-width="0.8" />
<line x1="390.26" y1="434.93" x2="393.46" y2="434.93" stroke="#2f3f9c" stroke-width="0.8" />
<line x1="398.83" y1="433.66" x2="398.83" y2="436.32" stroke="#2f3f9c" stroke-width="0.8" />
<line x1="397.23" y1="433.66" x2="400.43" y2="433.66" stroke="#2f3f9c" stroke-width="0.8" />
<line x1="397.23" y1="436.32" x2="400.43" y2="436.32" stroke="#2f3f9c" stroke-width="0.8" />
<circle cx="247.90" cy="441.65" r="2.40" fill="#2f3f9c"/>
<circle cx="266.48" cy="433.52" r="2.40" fill="#2f3f9c"/>
<circle cx="273.44" cy="430.05" r="2.40" fill="#2f3f9c"/>
<circle cx="280.41" cy="428.27" r="2.40" fill="#2f3f9c"/>
<circle cx="287.37" cy="425.97" r="2.40" fill="#2f3f9c"/>
<circle cx="294.34" cy="423.89" r="2.40" fill="#2f3f9c"/>
<circle cx="301.31" cy="422.36" r="2.40" fill="#2f3f9c"/>
<circle cx="308.27" cy="421.64" r="2.40" fill="#2f3f9c"/>
<circle cx="315.24" cy="421.50" r="2.40" fill="#2f3f9c"/>
<circle cx="322.20" cy="421.56" r="2.40" fill="#2f3f9c"/>
<circle cx="329.17" cy="421.95" r="2.40" fill="#2f3f9c"/>
<circle cx="336.14" cy="422.70" r="2.40" fill="#2f3f9c"/>
<circle cx="343.10" cy="423.95" r="2.40" fill="#2f3f9c"/>
<circle cx="350.07" cy="425.56" r="2.40" fill="#2f3f9c"/>
<circle cx="357.03" cy="426.89" r="2.40" fill="#2f3f9c"/>
<circle cx="364.00" cy="428.27" r="2.40" fill="#2f3f9c"/>
<circle cx="370.97" cy="429.86" r="2.40" fill="#2f3f9c"/>
<circle cx="377.93" cy="431.11" r="2.40" fill="#2f3f9c"/>
<circle cx="384.90" cy="432.63" r="2.40" fill="#2f3f9c"/>
<circle cx="391.86" cy="433.60" r="2.40" fill="#2f3f9c"/>
<circle cx="398.83" cy="434.99" r="2.40" fill="#2f3f9c"/>
<polyline points="247.90,441.65 266.48,433.41 273.44,429.30 280.41,427.03 287.37,424.25 294.34,421.84 301.31,420.00 308.27,419.17 315.24,419.17 322.20,419.34 329.17,420.17 336.14,420.50 343.10,422.59 350.07,424.97 357.03,426.72 364.00,428.16 370.97,430.08 377.93,431.63 384.90,433.32 391.86,434.71 398.83,437.49" stroke="#1f8a45" stroke-width="1.0" fill="none" stroke-linejoin="round" />
<line x1="294.34" y1="420.50" x2="294.34" y2="423.17" stroke="#1f8a45" stroke-width="0.8" />
<line x1="292.74" y1="420.50" x2="295.94" y2="420.50" stroke="#1f8a45" stroke-width="0.8" />
<line x1="292.74" y1="423.17" x2="295.94" y2="423.17" stroke="#1f8a45" stroke-width="0.8" />
<line x1="301.31" y1="418.67" x2="301.31" y2="421.34" stroke="#1f8a45" stroke-width="0.8" />
<line x1="299.71" y1="418.67" x2="302.91" y2="418.67" stroke="#1f8a45" stroke-width="0.8" />
<line x1="299.71" y1="421.34" x2="302.91" y2="421.34" stroke="#1f8a45" stroke-width="0.8" />
<line x1="308.27" y1="417.84" x2="308.27" y2="420.50" stroke="#1f8a45" stroke-width="0.8" />
<line x1="306.67" y1="417.84" x2="309.87" y2="417.84" stroke="#1f8a45" stroke-width="0.8" />
<line x1="306.67" y1="420.50" x2="309.87" y2="420.50" stroke="#1f8a45" stroke-width="0.8" />
<line x1="315.24" y1="417.84" x2="315.24" y2="420.50" stroke="#1f8a45" stroke-width="0.8" />
<line x1="313.64" y1="417.84" x2="316.84" y2="417.84" stroke="#1f8a45" stroke-width="0.8" />
<line x1="313.64" y1="420.50" x2="316.84" y2="420.50" stroke="#1f8a45" stroke-width="0.8" />
<line x1="322.20" y1="418.01" x2="322.20" y2="420.67" stroke="#1f8a45" stroke-width="0.8" />
<line x1="320.60" y1="418.01" x2="323.80" y2="418.01" stroke="#1f8a45" stroke-width="0.8" />
<line x1="320.60" y1="420.67" x2="323.80" y2="420.67" stroke="#1f8a45" stroke-width="0.8" />
<line x1="329.17" y1="418.84" x2="329.17" y2="421.50" stroke="#1f8a45" stroke-width="0.8" />
<line x1="327.57" y1="418.84" x2="330.77" y2="418.84" stroke="#1f8a45" stroke-width="0.8" />
<line x1="327.57" y1="421.50" x2="330.77" y2="421.50" stroke="#1f8a45" stroke-width="0.8" />
<line x1="336.14" y1="419.17" x2="336.14" y2="421.84" stroke="#1f8a45" stroke-width="0.8" />
<line x1="334.54" y1="419.17" x2="337.74" y2="419.17" stroke="#1f8a45" stroke-width="0.8" />
<line x1="334.54" y1="421.84" x2="337.74" y2="421.84" stroke="#1f8a45" stroke-width="0.8" />
<line x1="343.10" y1="421.25" x2="343.10" y2="423.92" stroke="#1f8a45" stroke-width="0.8" />
<line x1="341.50" y1="421.25" x2="344.70" y2="421.25" stroke="#1f8a45" stroke-width="0.8" />
<line x1="341.50" y1="423.92" x2="344.70" y2="423.92" stroke="#1f8a45" stroke-width="0.8" />
<line x1="350.07" y1="423.64" x2="350.07" y2="426.30" stroke="#1f8a45" stroke-width="0.8" />
<line x1="348.47" y1="423.64" x2="351.67" y2="423.64" stroke="#1f8a45" stroke-width="0.8" />
<line x1="348.47" y1="426.30" x2="351.67" y2="426.30" stroke="#1f8a45" stroke-width="0.8" />
<line x1="357.03" y1="425.39" x2="357.03" y2="428.05" stroke="#1f8a45" stroke-width="0.8" />
<line x1="355.43" y1="425.39" x2="358.63" y2="425.39" stroke="#1f8a45" stroke-width="0.8" />
<line x1="355.43" y1="428.05" x2="358.63" y2="428.05" stroke="#1f8a45" stroke-width="0.8" />
<line x1="364.00" y1="426.83" x2="364.00" y2="429.50" stroke="#1f8a45" stroke-width="0.8" />
<line x1="362.40" y1="426.83" x2="365.60" y2="426.83" stroke="#1f8a45" stroke-width="0.8" />
<line x1="362.40" y1="429.50" x2="365.60" y2="429.50" stroke="#1f8a45" stroke-width="0.8" />
<line x1="370.97" y1="428.75" x2="370.97" y2="431.41" stroke="#1f8a45" stroke-width="0.8" />
<line x1="369.37" y1="428.75" x2="372.57" y2="428.75" stroke="#1f8a45" stroke-width="0.8" />
<line x1="369.37" y1="431.41" x2="372.57" y2="431.41" stroke="#1f8a45" stroke-width="0.8" />
<line x1="377.93" y1="430.30" x2="377.93" y2="432.96" stroke="#1f8a45" stroke-width="0.8" />
<line x1="376.33" y1="430.30" x2="379.53" y2="430.30" stroke="#1f8a45" stroke-width="0.8" />
<line x1="376.33" y1="432.96" x2="379.53" y2="432.96" stroke="#1f8a45" stroke-width="0.8" />
<line x1="384.90" y1="431.99" x2="384.90" y2="434.66" stroke="#1f8a45" stroke-width="0.8" />
<line x1="383.30" y1="431.99" x2="386.50" y2="431.99" stroke="#1f8a45" stroke-width="0.8" />
<line x1="383.30" y1="434.66" x2="386.50" y2="434.66" stroke="#1f8a45" stroke-width="0.8" />
<line x1="391.86" y1="433.38" x2="391.86" y2="436.04" stroke="#1f8a45" stroke-width="0.8" />
<line x1="390.26" y1="433.38" x2="393.46" y2="433.38" stroke="#1f8a45" stroke-width="0.8" />
<line x1="390.26" y1="436.04" x2="393.46" y2="436.04" stroke="#1f8a45" stroke-width="0.8" />
<line x1="398.83" y1="436.16" x2="398.83" y2="438.82" stroke="#1f8a45" stroke-width="0.8" />
<line x1="397.23" y1="436.16" x2="400.43" y2="436.16" stroke="#1f8a45" stroke-width="0.8" />
<line x1="397.23" y1="438.82" x2="400.43" y2="438.82" stroke="#1f8a45" stroke-width="0.8" />
<circle cx="247.90" cy="441.65" r="2.40" fill="#1f8a45"/>
<circle cx="266.48" cy="433.41" r="2.40" fill="#1f8a45"/>
<circle cx="273.44" cy="429.30" r="2.40" fill="#1f8a45"/>
<circle cx="280.41" cy="427.03" r="2.40" fill="#1f8a45"/>
<circle cx="287.37" cy="424.25" r="2.40" fill="#1f8a45"/>
<circle cx="294.34" cy="421.84" r="2.40" fill="#1f8a45"/>
<circle cx="301.31" cy="420.00" r="2.40" fill="#1f8a45"/>
<circle cx="308.27" cy="419.17" r="2.40" fill="#1f8a45"/>
<circle cx="315.24" cy="419.17" r="2.40" fill="#1f8a45"/>
<circle cx="322.20" cy="419.34" r="2.40" fill="#1f8a45"/>
<circle cx="329.17" cy="420.17" r="2.40" fill="#1f8a45"/>
<circle cx="336.14" cy="420.50" r="2.40" fill="#1f8a45"/>
<circle cx="343.10" cy="422.59" r="2.40" fill="#1f8a45"/>
<circle cx="350.07" cy="424.97" r="2.40" fill="#1f8a45"/>
<circle cx="357.03" cy="426.72" r="2.40" fill="#1f8a45"/>
<circle cx="364.00" cy="428.16" r="2.40" fill="#1f8a45"/>
<circle cx="370.97" cy="430.08" r="2.40" fill="#1f8a45"/>
<circle cx="377.93" cy="431.63" r="2.40" fill="#1f8a45"/>
<circle cx="384.90" cy="433.32" r="2.40" fill="#1f8a45"/>
<circle cx="391.86" cy="434.71" r="2.40" fill="#1f8a45"/>
<circle cx="398.83" cy="437.49" r="2.40" fill="#1f8a45"/>
<polyline points="247.90,441.65 266.48,433.41 273.44,428.83 280.41,424.03 287.37,420.17 294.34,416.20 301.31,412.26 308.27,407.74 315.24,403.08 322.20,398.42 329.17,393.73 336.14,388.90 343.10,384.15 350.07,379.74 357.03,374.91 364.00,370.25 370.97,366.42 377.93,362.59 384.90,358.93 391.86,356.18 398.83,354.24" stroke="#222" stroke-width="0.9" fill="none" stroke-linejoin="round" />
<line x1="273.44" y1="426.03" x2="273.44" y2="431.63" stroke="#222" stroke-width="0.8" />
<line x1="271.84" y1="426.03" x2="275.04" y2="426.03" stroke="#222" stroke-width="0.8" />
<line x1="271.84" y1="431.63" x2="275.04" y2="431.63" stroke="#222" stroke-width="0.8" />
<line x1="280.41" y1="421.01" x2="280.41" y2="427.05" stroke="#222" stroke-width="0.8" />
<line x1="278.81" y1="421.01" x2="282.01" y2="421.01" stroke="#222" stroke-width="0.8" />
<line x1="278.81" y1="427.05" x2="282.01" y2="427.05" stroke="#222" stroke-width="0.8" />
<line x1="287.37" y1="416.93" x2="287.37" y2="423.41" stroke="#222" stroke-width="0.8" />
<line x1="285.77" y1="416.93" x2="288.97" y2="416.93" stroke="#222" stroke-width="0.8" />
<line x1="285.77" y1="423.41" x2="288.97" y2="423.41" stroke="#222" stroke-width="0.8" />
<line x1="294.34" y1="412.74" x2="294.34" y2="419.67" stroke="#222" stroke-width="0.8" />
<line x1="292.74" y1="412.74" x2="295.94" y2="412.74" stroke="#222" stroke-width="0.8" />
<line x1="292.74" y1="419.67" x2="295.94" y2="419.67" stroke="#222" stroke-width="0.8" />
<line x1="301.31" y1="408.58" x2="301.31" y2="415.95" stroke="#222" stroke-width="0.8" />
<line x1="299.71" y1="408.58" x2="302.91" y2="408.58" stroke="#222" stroke-width="0.8" />
<line x1="299.71" y1="415.95" x2="302.91" y2="415.95" stroke="#222" stroke-width="0.8" />
<line x1="308.27" y1="403.84" x2="308.27" y2="411.64" stroke="#222" stroke-width="0.8" />
<line x1="306.67" y1="403.84" x2="309.87" y2="403.84" stroke="#222" stroke-width="0.8" />
<line x1="306.67" y1="411.64" x2="309.87" y2="411.64" stroke="#222" stroke-width="0.8" />
<line x1="315.24" y1="398.95" x2="315.24" y2="407.20" stroke="#222" stroke-width="0.8" />
<line x1="313.64" y1="398.95" x2="316.84" y2="398.95" stroke="#222" stroke-width="0.8" />
<line x1="313.64" y1="407.20" x2="316.84" y2="407.20" stroke="#222" stroke-width="0.8" />
<line x1="322.20" y1="394.07" x2="322.20" y2="402.76" stroke="#222" stroke-width="0.8" />
<line x1="320.60" y1="394.07" x2="323.80" y2="394.07" stroke="#222" stroke-width="0.8" />
<line x1="320.60" y1="402.76" x2="323.80" y2="402.76" stroke="#222" stroke-width="0.8" />
<line x1="329.17" y1="389.16" x2="329.17" y2="398.29" stroke="#222" stroke-width="0.8" />
<line x1="327.57" y1="389.16" x2="330.77" y2="389.16" stroke="#222" stroke-width="0.8" />
<line x1="327.57" y1="398.29" x2="330.77" y2="398.29" stroke="#222" stroke-width="0.8" />
<line x1="336.14" y1="384.12" x2="336.14" y2="393.68" stroke="#222" stroke-width="0.8" />
<line x1="334.54" y1="384.12" x2="337.74" y2="384.12" stroke="#222" stroke-width="0.8" />
<line x1="334.54" y1="393.68" x2="337.74" y2="393.68" stroke="#222" stroke-width="0.8" />
<line x1="343.10" y1="379.15" x2="343.10" y2="389.15" stroke="#222" stroke-width="0.8" />
<line x1="341.50" y1="379.15" x2="344.70" y2="379.15" stroke="#222" stroke-width="0.8" />
<line x1="341.50" y1="389.15" x2="344.70" y2="389.15" stroke="#222" stroke-width="0.8" />
<line x1="350.07" y1="374.52" x2="350.07" y2="384.96" stroke="#222" stroke-width="0.8" />
<line x1="348.47" y1="374.52" x2="351.67" y2="374.52" stroke="#222" stroke-width="0.8" />
<line x1="348.47" y1="384.96" x2="351.67" y2="384.96" stroke="#222" stroke-width="0.8" />
<line x1="357.03" y1="369.47" x2="357.03" y2="380.35" stroke="#222" stroke-width="0.8" />
<line x1="355.43" y1="369.47" x2="358.63" y2="369.47" stroke="#222" stroke-width="0.8" />
<line x1="355.43" y1="380.35" x2="358.63" y2="380.35" stroke="#222" stroke-width="0.8" />
<line x1="364.00" y1="364.59" x2="364.00" y2="375.91" stroke="#222" stroke-width="0.8" />
<line x1="362.40" y1="364.59" x2="365.60" y2="364.59" stroke="#222" stroke-width="0.8" />
<line x1="362.40" y1="375.91" x2="365.60" y2="375.91" stroke="#222" stroke-width="0.8" />
<line x1="370.97" y1="360.54" x2="370.97" y2="372.30" stroke="#222" stroke-width="0.8" />
<line x1="369.37" y1="360.54" x2="372.57" y2="360.54" stroke="#222" stroke-width="0.8" />
<line x1="369.37" y1="372.30" x2="372.57" y2="372.30" stroke="#222" stroke-width="0.8" />
<line x1="377.93" y1="356.49" x2="377.93" y2="368.69" stroke="#222" stroke-width="0.8" />
<line x1="376.33" y1="356.49" x2="379.53" y2="356.49" stroke="#222" stroke-width="0.8" />
<line x1="376.33" y1="368.69" x2="379.53" y2="368.69" stroke="#222" stroke-width="0.8" />
<line x1="384.90" y1="352.61" x2="384.90" y2="365.25" stroke="#222" stroke-width="0.8" />
<line x1="383.30" y1="352.61" x2="386.50" y2="352.61" stroke="#222" stroke-width="0.8" />
<line x1="383.30" y1="365.25" x2="386.50" y2="365.25" stroke="#222" stroke-width="0.8" />
<line x1="391.86" y1="349.64" x2="391.86" y2="362.72" stroke="#222" stroke-width="0.8" />
<line x1="390.26" y1="349.64" x2="393.46" y2="349.64" stroke="#222" stroke-width="0.8" />
<line x1="390.26" y1="362.72" x2="393.46" y2="362.72" stroke="#222" stroke-width="0.8" />
<line x1="398.83" y1="347.48" x2="398.83" y2="361.00" stroke="#222" stroke-width="0.8" />
<line x1="397.23" y1="347.48" x2="400.43" y2="347.48" stroke="#222" stroke-width="0.8" />
<line x1="397.23" y1="361.00" x2="400.43" y2="361.00" stroke="#222" stroke-width="0.8" />
<rect x="246.10" y="439.85" width="3.60" height="3.60" fill="none" stroke="#222" stroke-width="0.756" />
<rect x="264.68" y="431.61" width="3.60" height="3.60" fill="none" stroke="#222" stroke-width="0.756" />
<rect x="271.64" y="427.03" width="3.60" height="3.60" fill="none" stroke="#222" stroke-width="0.756" />
<rect x="278.61" y="422.23" width="3.60" height="3.60" fill="none" stroke="#222" stroke-width="0.756" />
<rect x="285.57" y="418.37" width="3.60" height="3.60" fill="none" stroke="#222" stroke-width="0.756" />
<rect x="292.54" y="414.40" width="3.60" height="3.60" fill="none" stroke="#222" stroke-width="0.756" />
<rect x="299.51" y="410.46" width="3.60" height="3.60" fill="none" stroke="#222" stroke-width="0.756" />
<rect x="306.47" y="405.94" width="3.60" height="3.60" fill="none" stroke="#222" stroke-width="0.756" />
<rect x="313.44" y="401.28" width="3.60" height="3.60" fill="none" stroke="#222" stroke-width="0.756" />
<rect x="320.40" y="396.62" width="3.60" height="3.60" fill="none" stroke="#222" stroke-width="0.756" />
<rect x="327.37" y="391.93" width="3.60" height="3.60" fill="none" stroke="#222" stroke-width="0.756" />
<rect x="334.34" y="387.10" width="3.60" height="3.60" fill="none" stroke="#222" stroke-width="0.756" />
<rect x="341.30" y="382.35" width="3.60" height="3.60" fill="none" stroke="#222" stroke-width="0.756" />
<rect x="348.27" y="377.94" width="3.60" height="3.60" fill="none" stroke="#222" stroke-width="0.756" />
<rect x="355.23" y="373.11" width="3.60" height="3.60" fill="none" stroke="#222" stroke-width="0.756" />
<rect x="362.20" y="368.45" width="3.60" height="3.60" fill="none" stroke="#222" stroke-width="0.756" />
<rect x="369.17" y="364.62" width="3.60" height="3.60" fill="none" stroke="#222" stroke-width="0.756" />
<rect x="376.13" y="360.79" width="3.60" height="3.60" fill="none" stroke="#222" stroke-width="0.756" />
<rect x="383.10" y="357.13" width="3.60" height="3.60" fill="none" stroke="#222" stroke-width="0.756" />
<rect x="390.06" y="354.38" width="3.60" height="3.60" fill="none" stroke="#222" stroke-width="0.756" />
<rect x="397.03" y="352.44" width="3.60" height="3.60" fill="none" stroke="#222" stroke-width="0.756" />
<rect x="245.20" y="438.95" width="5.40" height="5.40" fill="#1f7a45" stroke="none" stroke-width="1" />
<line x1="418.50" y1="362.00" x2="425.50" y2="362.00" stroke="#333" stroke-width="0.9" />
<rect x="420.10" y="360.10" width="3.80" height="3.80" fill="none" stroke="#333" stroke-width="0.7979999999999999" />
<text x="429.70" y="365.06" font-size="8.5" font-weight="normal" text-anchor="start" fill="#333" >NTD</text>
<line x1="418.50" y1="373.40" x2="425.50" y2="373.40" stroke="#1f8a45" stroke-width="0.9" />
<polygon points="422.00,370.76 424.64,373.40 422.00,376.04 419.36,373.40" stroke="none" stroke-width="1" fill="#1f8a45" />
<text x="429.70" y="376.46" font-size="8.5" font-weight="normal" text-anchor="start" fill="#333" >Clone 4-RSR</text>
<line x1="418.50" y1="385.00" x2="425.50" y2="385.00" stroke="#2f3f9c" stroke-width="0.9" />
<polygon points="422.00,382.36 424.64,385.00 422.00,387.64 419.36,385.00" stroke="none" stroke-width="1" fill="#2f3f9c" />
<text x="429.70" y="388.06" font-size="8.5" font-weight="normal" text-anchor="start" fill="#333" >Clone 7-R2S</text>
<line x1="418.50" y1="396.20" x2="425.50" y2="396.20" stroke="#e02a30" stroke-width="0.9" />
<polygon points="422.00,393.56 424.64,396.20 422.00,398.84 419.36,396.20" stroke="none" stroke-width="1" fill="#e02a30" />
<text x="429.70" y="399.26" font-size="8.5" font-weight="normal" text-anchor="start" fill="#333" >Clone 9-SR2</text>
<line x1="418.50" y1="408.20" x2="425.50" y2="408.20" stroke="#a4a4a8" stroke-width="0.9" />
<polygon points="422.00,405.56 424.64,408.20 422.00,410.84 419.36,408.20" stroke="none" stroke-width="1" fill="#a4a4a8" />
<text x="429.70" y="411.26" font-size="8.5" font-weight="normal" text-anchor="start" fill="#333" >Other clones</text>
<text x="1.20" y="502.50" font-size="13" font-weight="bold" text-anchor="start" fill="#111" >C</text>
<text x="116.00" y="502.70" font-size="9.8" font-weight="bold" text-anchor="middle" fill="#222" >DMS273 (900/cell) E:T=3:1</text>
<text x="326.00" y="502.20" font-size="10.2" font-weight="bold" text-anchor="middle" fill="#222" >WM266-4 (3300/cell) E:T=1:1</text>
<line x1="41.00" y1="515.60" x2="41.00" y2="616.20" stroke="#333" stroke-width="1.4" />
<line x1="41.00" y1="616.20" x2="192.60" y2="616.20" stroke="#333" stroke-width="1.4" />
<line x1="37.50" y1="515.10" x2="41.00" y2="515.10" stroke="#333" stroke-width="1.4" />
<text x="36.50" y="517.76" font-size="7.4" font-weight="bold" text-anchor="end" fill="#333" >120</text>
<line x1="37.50" y1="529.50" x2="41.00" y2="529.50" stroke="#333" stroke-width="1.4" />
<text x="36.50" y="532.16" font-size="7.4" font-weight="bold" text-anchor="end" fill="#333" >100</text>
<line x1="37.50" y1="543.90" x2="41.00" y2="543.90" stroke="#333" stroke-width="1.4" />
<text x="36.50" y="546.56" font-size="7.4" font-weight="bold" text-anchor="end" fill="#333" >80</text>
<line x1="37.50" y1="558.30" x2="41.00" y2="558.30" stroke="#333" stroke-width="1.4" />
<text x="36.50" y="560.96" font-size="7.4" font-weight="bold" text-anchor="end" fill="#333" >60</text>
<line x1="37.50" y1="572.70" x2="41.00" y2="572.70" stroke="#333" stroke-width="1.4" />
<text x="36.50" y="575.36" font-size="7.4" font-weight="bold" text-anchor="end" fill="#333" >40</text>
<line x1="37.50" y1="587.10" x2="41.00" y2="587.10" stroke="#333" stroke-width="1.4" />
<text x="36.50" y="589.76" font-size="7.4" font-weight="bold" text-anchor="end" fill="#333" >20</text>
<line x1="37.50" y1="601.50" x2="41.00" y2="601.50" stroke="#333" stroke-width="1.4" />
<text x="36.50" y="604.16" font-size="7.4" font-weight="bold" text-anchor="end" fill="#333" >0</text>
<line x1="40.96" y1="616.20" x2="40.96" y2="619.70" stroke="#333" stroke-width="1.4" />
<text x="40.96" y="628.67" font-size="7.4" font-weight="bold" text-anchor="middle" fill="#333" >0</text>
<line x1="66.10" y1="616.20" x2="66.10" y2="619.70" stroke="#333" stroke-width="1.4" />
<text x="66.10" y="628.67" font-size="7.4" font-weight="bold" text-anchor="middle" fill="#333" >2</text>
<line x1="91.24" y1="616.20" x2="91.24" y2="619.70" stroke="#333" stroke-width="1.4" />
<text x="91.24" y="628.67" font-size="7.4" font-weight="bold" text-anchor="middle" fill="#333" >4</text>
<line x1="116.38" y1="616.20" x2="116.38" y2="619.70" stroke="#333" stroke-width="1.4" />
<text x="116.38" y="628.67" font-size="7.4" font-weight="bold" text-anchor="middle" fill="#333" >6</text>
<line x1="141.52" y1="616.20" x2="141.52" y2="619.70" stroke="#333" stroke-width="1.4" />
<text x="141.52" y="628.67" font-size="7.4" font-weight="bold" text-anchor="middle" fill="#333" >8</text>
<line x1="166.66" y1="616.20" x2="166.66" y2="619.70" stroke="#333" stroke-width="1.4" />
<text x="166.66" y="628.67" font-size="7.4" font-weight="bold" text-anchor="middle" fill="#333" >10</text>
<line x1="191.80" y1="616.20" x2="191.80" y2="619.70" stroke="#333" stroke-width="1.4" />
<text x="191.80" y="628.67" font-size="7.4" font-weight="bold" text-anchor="middle" fill="#333" >12</text>
<text x="116.60" y="639.30" font-size="8.0" font-weight="bold" text-anchor="middle" fill="#222" >Day</text>
<text x="17.20" y="566.50" font-size="10" font-weight="bold" text-anchor="middle" fill="#222" transform="rotate(-90 17.2 566.5)">% Cytotoxicity</text>
<polyline points="66.10,605.10 103.81,559.74 128.95,564.78 154.09,569.10 191.80,604.38" stroke="#b8b8bc" stroke-width="1.0" fill="none" stroke-linejoin="round" />
<line x1="66.10" y1="599.34" x2="66.10" y2="610.86" stroke="#c0c0c4" stroke-width="0.8" />
<line x1="64.50" y1="599.34" x2="67.70" y2="599.34" stroke="#c0c0c4" stroke-width="0.8" />
<line x1="64.50" y1="610.86" x2="67.70" y2="610.86" stroke="#c0c0c4" stroke-width="0.8" />
<line x1="103.81" y1="556.14" x2="103.81" y2="563.34" stroke="#c0c0c4" stroke-width="0.8" />
<line x1="102.21" y1="556.14" x2="105.41" y2="556.14" stroke="#c0c0c4" stroke-width="0.8" />
<line x1="102.21" y1="563.34" x2="105.41" y2="563.34" stroke="#c0c0c4" stroke-width="0.8" />
<line x1="128.95" y1="560.46" x2="128.95" y2="569.10" stroke="#c0c0c4" stroke-width="0.8" />
<line x1="127.35" y1="560.46" x2="130.55" y2="560.46" stroke="#c0c0c4" stroke-width="0.8" />
<line x1="127.35" y1="569.10" x2="130.55" y2="569.10" stroke="#c0c0c4" stroke-width="0.8" />
<line x1="154.09" y1="564.78" x2="154.09" y2="573.42" stroke="#c0c0c4" stroke-width="0.8" />
<line x1="152.49" y1="564.78" x2="155.69" y2="564.78" stroke="#c0c0c4" stroke-width="0.8" />
<line x1="152.49" y1="573.42" x2="155.69" y2="573.42" stroke="#c0c0c4" stroke-width="0.8" />
<circle cx="66.10" cy="605.10" r="2.40" fill="#b8b8bc"/>
<circle cx="103.81" cy="559.74" r="2.40" fill="#b8b8bc"/>
<circle cx="128.95" cy="564.78" r="2.40" fill="#b8b8bc"/>
<circle cx="154.09" cy="569.10" r="2.40" fill="#b8b8bc"/>
<circle cx="191.80" cy="604.38" r="2.40" fill="#b8b8bc"/>
<polyline points="66.10,584.94 103.81,551.82 128.95,561.90 154.09,566.94 191.80,595.74" stroke="#acacb0" stroke-width="1.0" fill="none" stroke-linejoin="round" />
<line x1="66.10" y1="581.34" x2="66.10" y2="588.54" stroke="#b8b8bc" stroke-width="0.8" />
<line x1="64.50" y1="581.34" x2="67.70" y2="581.34" stroke="#b8b8bc" stroke-width="0.8" />
<line x1="64.50" y1="588.54" x2="67.70" y2="588.54" stroke="#b8b8bc" stroke-width="0.8" />
<line x1="103.81" y1="549.66" x2="103.81" y2="553.98" stroke="#b8b8bc" stroke-width="0.8" />
<line x1="102.21" y1="549.66" x2="105.41" y2="549.66" stroke="#b8b8bc" stroke-width="0.8" />
<line x1="102.21" y1="553.98" x2="105.41" y2="553.98" stroke="#b8b8bc" stroke-width="0.8" />
<line x1="128.95" y1="557.58" x2="128.95" y2="566.22" stroke="#b8b8bc" stroke-width="0.8" />
<line x1="127.35" y1="557.58" x2="130.55" y2="557.58" stroke="#b8b8bc" stroke-width="0.8" />
<line x1="127.35" y1="566.22" x2="130.55" y2="566.22" stroke="#b8b8bc" stroke-width="0.8" />
<line x1="154.09" y1="563.34" x2="154.09" y2="570.54" stroke="#b8b8bc" stroke-width="0.8" />
<line x1="152.49" y1="563.34" x2="155.69" y2="563.34" stroke="#b8b8bc" stroke-width="0.8" />
<line x1="152.49" y1="570.54" x2="155.69" y2="570.54" stroke="#b8b8bc" stroke-width="0.8" />
<line x1="191.80" y1="591.42" x2="191.80" y2="600.06" stroke="#b8b8bc" stroke-width="0.8" />
<line x1="190.20" y1="591.42" x2="193.40" y2="591.42" stroke="#b8b8bc" stroke-width="0.8" />
<line x1="190.20" y1="600.06" x2="193.40" y2="600.06" stroke="#b8b8bc" stroke-width="0.8" />
<circle cx="66.10" cy="584.94" r="2.40" fill="#acacb0"/>
<circle cx="103.81" cy="551.82" r="2.40" fill="#acacb0"/>
<circle cx="128.95" cy="561.90" r="2.40" fill="#acacb0"/>
<circle cx="154.09" cy="566.94" r="2.40" fill="#acacb0"/>
<circle cx="191.80" cy="595.74" r="2.40" fill="#acacb0"/>
<polyline points="66.10,579.90 103.81,543.90 128.95,559.02 154.09,567.66 191.80,584.94" stroke="#a0a0a4" stroke-width="1.0" fill="none" stroke-linejoin="round" />
<line x1="66.10" y1="575.58" x2="66.10" y2="584.22" stroke="#a0a0a4" stroke-width="0.8" />
<line x1="64.50" y1="575.58" x2="67.70" y2="575.58" stroke="#a0a0a4" stroke-width="0.8" />
<line x1="64.50" y1="584.22" x2="67.70" y2="584.22" stroke="#a0a0a4" stroke-width="0.8" />
<line x1="103.81" y1="541.02" x2="103.81" y2="546.78" stroke="#a0a0a4" stroke-width="0.8" />
<line x1="102.21" y1="541.02" x2="105.41" y2="541.02" stroke="#a0a0a4" stroke-width="0.8" />
<line x1="102.21" y1="546.78" x2="105.41" y2="546.78" stroke="#a0a0a4" stroke-width="0.8" />
<line x1="128.95" y1="555.42" x2="128.95" y2="562.62" stroke="#a0a0a4" stroke-width="0.8" />
<line x1="127.35" y1="555.42" x2="130.55" y2="555.42" stroke="#a0a0a4" stroke-width="0.8" />
<line x1="127.35" y1="562.62" x2="130.55" y2="562.62" stroke="#a0a0a4" stroke-width="0.8" />
<line x1="154.09" y1="563.34" x2="154.09" y2="571.98" stroke="#a0a0a4" stroke-width="0.8" />
<line x1="152.49" y1="563.34" x2="155.69" y2="563.34" stroke="#a0a0a4" stroke-width="0.8" />
<line x1="152.49" y1="571.98" x2="155.69" y2="571.98" stroke="#a0a0a4" stroke-width="0.8" />
<line x1="191.80" y1="582.78" x2="191.80" y2="587.10" stroke="#a0a0a4" stroke-width="0.8" />
<line x1="190.20" y1="582.78" x2="193.40" y2="582.78" stroke="#a0a0a4" stroke-width="0.8" />
<line x1="190.20" y1="587.10" x2="193.40" y2="587.10" stroke="#a0a0a4" stroke-width="0.8" />
<circle cx="66.10" cy="579.90" r="2.40" fill="#a0a0a4"/>
<circle cx="103.81" cy="543.90" r="2.40" fill="#a0a0a4"/>
<circle cx="128.95" cy="559.02" r="2.40" fill="#a0a0a4"/>
<circle cx="154.09" cy="567.66" r="2.40" fill="#a0a0a4"/>
<circle cx="191.80" cy="584.94" r="2.40" fill="#a0a0a4"/>
<polyline points="66.10,598.76 103.81,598.19 128.95,593.58 154.09,590.70 191.80,607.98" stroke="#111" stroke-width="1.3" fill="none" stroke-linejoin="round" />
<line x1="66.10" y1="594.44" x2="66.10" y2="603.08" stroke="#111" stroke-width="0.8" />
<line x1="64.50" y1="594.44" x2="67.70" y2="594.44" stroke="#111" stroke-width="0.8" />
<line x1="64.50" y1="603.08" x2="67.70" y2="603.08" stroke="#111" stroke-width="0.8" />
<line x1="103.81" y1="595.31" x2="103.81" y2="601.07" stroke="#111" stroke-width="0.8" />
<line x1="102.21" y1="595.31" x2="105.41" y2="595.31" stroke="#111" stroke-width="0.8" />
<line x1="102.21" y1="601.07" x2="105.41" y2="601.07" stroke="#111" stroke-width="0.8" />
<line x1="128.95" y1="578.03" x2="128.95" y2="609.13" stroke="#111" stroke-width="0.8" />
<line x1="127.35" y1="578.03" x2="130.55" y2="578.03" stroke="#111" stroke-width="0.8" />
<line x1="127.35" y1="609.13" x2="130.55" y2="609.13" stroke="#111" stroke-width="0.8" />
<line x1="154.09" y1="583.00" x2="154.09" y2="598.40" stroke="#111" stroke-width="0.8" />
<line x1="152.49" y1="583.00" x2="155.69" y2="583.00" stroke="#111" stroke-width="0.8" />
<line x1="152.49" y1="598.40" x2="155.69" y2="598.40" stroke="#111" stroke-width="0.8" />
<line x1="191.80" y1="604.38" x2="191.80" y2="611.58" stroke="#111" stroke-width="0.8" />
<line x1="190.20" y1="604.38" x2="193.40" y2="604.38" stroke="#111" stroke-width="0.8" />
<line x1="190.20" y1="611.58" x2="193.40" y2="611.58" stroke="#111" stroke-width="0.8" />
<rect x="63.70" y="596.36" width="4.80" height="4.80" fill="none" stroke="#111" stroke-width="1.008" />
<rect x="101.41" y="595.79" width="4.80" height="4.80" fill="none" stroke="#111" stroke-width="1.008" />
<rect x="126.55" y="591.18" width="4.80" height="4.80" fill="none" stroke="#111" stroke-width="1.008" />
<rect x="151.69" y="588.30" width="4.80" height="4.80" fill="none" stroke="#111" stroke-width="1.008" />
<rect x="189.40" y="605.58" width="4.80" height="4.80" fill="none" stroke="#111" stroke-width="1.008" />
<polyline points="66.10,575.80 103.81,535.40 128.95,531.88 154.09,534.18 191.80,539.29" stroke="#1f8a45" stroke-width="1.0" fill="none" stroke-linejoin="round" />
<line x1="66.10" y1="571.48" x2="66.10" y2="580.12" stroke="#1f8a45" stroke-width="0.8" />
<line x1="64.50" y1="571.48" x2="67.70" y2="571.48" stroke="#1f8a45" stroke-width="0.8" />
<line x1="64.50" y1="580.12" x2="67.70" y2="580.12" stroke="#1f8a45" stroke-width="0.8" />
<line x1="103.81" y1="533.24" x2="103.81" y2="537.56" stroke="#1f8a45" stroke-width="0.8" />
<line x1="102.21" y1="533.24" x2="105.41" y2="533.24" stroke="#1f8a45" stroke-width="0.8" />
<line x1="102.21" y1="537.56" x2="105.41" y2="537.56" stroke="#1f8a45" stroke-width="0.8" />
<line x1="154.09" y1="532.02" x2="154.09" y2="536.34" stroke="#1f8a45" stroke-width="0.8" />
<line x1="152.49" y1="532.02" x2="155.69" y2="532.02" stroke="#1f8a45" stroke-width="0.8" />
<line x1="152.49" y1="536.34" x2="155.69" y2="536.34" stroke="#1f8a45" stroke-width="0.8" />
<circle cx="66.10" cy="575.80" r="2.45" fill="#1f8a45"/>
<circle cx="103.81" cy="535.40" r="2.45" fill="#1f8a45"/>
<circle cx="128.95" cy="531.88" r="2.45" fill="#1f8a45"/>
<circle cx="154.09" cy="534.18" r="2.45" fill="#1f8a45"/>
<circle cx="191.80" cy="539.29" r="2.45" fill="#1f8a45"/>
<polyline points="66.10,559.74 103.81,533.10 128.95,539.58 154.09,555.71 191.80,578.82" stroke="#34489e" stroke-width="1.0" fill="none" stroke-linejoin="round" />
<line x1="66.10" y1="556.14" x2="66.10" y2="563.34" stroke="#34489e" stroke-width="0.8" />
<line x1="64.50" y1="556.14" x2="67.70" y2="556.14" stroke="#34489e" stroke-width="0.8" />
<line x1="64.50" y1="563.34" x2="67.70" y2="563.34" stroke="#34489e" stroke-width="0.8" />
<line x1="154.09" y1="552.83" x2="154.09" y2="558.59" stroke="#34489e" stroke-width="0.8" />
<line x1="152.49" y1="552.83" x2="155.69" y2="552.83" stroke="#34489e" stroke-width="0.8" />
<line x1="152.49" y1="558.59" x2="155.69" y2="558.59" stroke="#34489e" stroke-width="0.8" />
<line x1="191.80" y1="575.22" x2="191.80" y2="582.42" stroke="#34489e" stroke-width="0.8" />
<line x1="190.20" y1="575.22" x2="193.40" y2="575.22" stroke="#34489e" stroke-width="0.8" />
<line x1="190.20" y1="582.42" x2="193.40" y2="582.42" stroke="#34489e" stroke-width="0.8" />
<circle cx="66.10" cy="559.74" r="2.45" fill="#34489e"/>
<circle cx="103.81" cy="533.10" r="2.45" fill="#34489e"/>
<circle cx="128.95" cy="539.58" r="2.45" fill="#34489e"/>
<circle cx="154.09" cy="555.71" r="2.45" fill="#34489e"/>
<circle cx="191.80" cy="578.82" r="2.45" fill="#34489e"/>
<polyline points="66.10,555.71 103.81,530.29 128.95,530.29 154.09,530.29 191.80,531.88" stroke="#e02830" stroke-width="1.0" fill="none" stroke-linejoin="round" />
<line x1="66.10" y1="549.95" x2="66.10" y2="561.47" stroke="#e02830" stroke-width="0.8" />
<line x1="64.50" y1="549.95" x2="67.70" y2="549.95" stroke="#e02830" stroke-width="0.8" />
<line x1="64.50" y1="561.47" x2="67.70" y2="561.47" stroke="#e02830" stroke-width="0.8" />
<circle cx="66.10" cy="555.71" r="2.45" fill="#e02830"/>
<circle cx="103.81" cy="530.29" r="2.45" fill="#e02830"/>
<circle cx="128.95" cy="530.29" r="2.45" fill="#e02830"/>
<circle cx="154.09" cy="530.29" r="2.45" fill="#e02830"/>
<circle cx="191.80" cy="531.88" r="2.45" fill="#e02830"/>
<line x1="248.50" y1="514.60" x2="248.50" y2="617.80" stroke="#333" stroke-width="1.4" />
<line x1="248.50" y1="617.80" x2="404.00" y2="617.80" stroke="#333" stroke-width="1.4" />
<line x1="245.00" y1="514.70" x2="248.50" y2="514.70" stroke="#333" stroke-width="1.4" />
<text x="244.00" y="517.36" font-size="7.4" font-weight="bold" text-anchor="end" fill="#333" >120</text>
<line x1="245.00" y1="529.50" x2="248.50" y2="529.50" stroke="#333" stroke-width="1.4" />
<text x="244.00" y="532.16" font-size="7.4" font-weight="bold" text-anchor="end" fill="#333" >100</text>
<line x1="245.00" y1="544.30" x2="248.50" y2="544.30" stroke="#333" stroke-width="1.4" />
<text x="244.00" y="546.96" font-size="7.4" font-weight="bold" text-anchor="end" fill="#333" >80</text>
<line x1="245.00" y1="559.10" x2="248.50" y2="559.10" stroke="#333" stroke-width="1.4" />
<text x="244.00" y="561.76" font-size="7.4" font-weight="bold" text-anchor="end" fill="#333" >60</text>
<line x1="245.00" y1="573.90" x2="248.50" y2="573.90" stroke="#333" stroke-width="1.4" />
<text x="244.00" y="576.56" font-size="7.4" font-weight="bold" text-anchor="end" fill="#333" >40</text>
<line x1="245.00" y1="588.70" x2="248.50" y2="588.70" stroke="#333" stroke-width="1.4" />
<text x="244.00" y="591.36" font-size="7.4" font-weight="bold" text-anchor="end" fill="#333" >20</text>
<line x1="245.00" y1="603.50" x2="248.50" y2="603.50" stroke="#333" stroke-width="1.4" />
<text x="244.00" y="606.16" font-size="7.4" font-weight="bold" text-anchor="end" fill="#333" >0</text>
<line x1="249.30" y1="617.80" x2="249.30" y2="621.30" stroke="#333" stroke-width="1.4" />
<text x="249.30" y="630.27" font-size="7.4" font-weight="bold" text-anchor="middle" fill="#333" >0</text>
<line x1="274.98" y1="617.80" x2="274.98" y2="621.30" stroke="#333" stroke-width="1.4" />
<text x="274.98" y="630.27" font-size="7.4" font-weight="bold" text-anchor="middle" fill="#333" >2</text>
<line x1="300.66" y1="617.80" x2="300.66" y2="621.30" stroke="#333" stroke-width="1.4" />
<text x="300.66" y="630.27" font-size="7.4" font-weight="bold" text-anchor="middle" fill="#333" >4</text>
<line x1="326.34" y1="617.80" x2="326.34" y2="621.30" stroke="#333" stroke-width="1.4" />
<text x="326.34" y="630.27" font-size="7.4" font-weight="bold" text-anchor="middle" fill="#333" >6</text>
<line x1="352.02" y1="617.80" x2="352.02" y2="621.30" stroke="#333" stroke-width="1.4" />
<text x="352.02" y="630.27" font-size="7.4" font-weight="bold" text-anchor="middle" fill="#333" >8</text>
<line x1="377.70" y1="617.80" x2="377.70" y2="621.30" stroke="#333" stroke-width="1.4" />
<text x="377.70" y="630.27" font-size="7.4" font-weight="bold" text-anchor="middle" fill="#333" >10</text>
<line x1="403.38" y1="617.80" x2="403.38" y2="621.30" stroke="#333" stroke-width="1.4" />
<text x="403.38" y="630.27" font-size="7.4" font-weight="bold" text-anchor="middle" fill="#333" >12</text>
<text x="326.00" y="641.80" font-size="8.0" font-weight="bold" text-anchor="middle" fill="#222" >Day</text>
<text x="224.50" y="566.00" font-size="10" font-weight="bold" text-anchor="middle" fill="#222" transform="rotate(-90 224.5 566)">% Cytotoxicity</text>
<polyline points="274.98,553.70 313.50,539.12 339.18,569.46 364.86,590.18 403.38,593.14" stroke="#a6a6aa" stroke-width="1.0" fill="none" stroke-linejoin="round" />
<line x1="339.18" y1="564.28" x2="339.18" y2="574.64" stroke="#a6a6aa" stroke-width="0.8" />
<line x1="337.58" y1="564.28" x2="340.78" y2="564.28" stroke="#a6a6aa" stroke-width="0.8" />
<line x1="337.58" y1="574.64" x2="340.78" y2="574.64" stroke="#a6a6aa" stroke-width="0.8" />
<line x1="403.38" y1="588.70" x2="403.38" y2="597.58" stroke="#a6a6aa" stroke-width="0.8" />
<line x1="401.78" y1="588.70" x2="404.98" y2="588.70" stroke="#a6a6aa" stroke-width="0.8" />
<line x1="401.78" y1="597.58" x2="404.98" y2="597.58" stroke="#a6a6aa" stroke-width="0.8" />
<circle cx="274.98" cy="553.70" r="2.50" fill="#a6a6aa"/>
<circle cx="313.50" cy="539.12" r="2.50" fill="#a6a6aa"/>
<circle cx="339.18" cy="569.46" r="2.50" fill="#a6a6aa"/>
<circle cx="364.86" cy="590.18" r="2.50" fill="#a6a6aa"/>
<circle cx="403.38" cy="593.14" r="2.50" fill="#a6a6aa"/>
<polyline points="274.98,539.86 313.50,530.24 339.18,540.60 364.86,566.50 403.38,580.56" stroke="#b8b8bc" stroke-width="1.0" fill="none" stroke-linejoin="round" />
<line x1="364.86" y1="564.28" x2="364.86" y2="568.72" stroke="#b8b8bc" stroke-width="0.8" />
<line x1="363.26" y1="564.28" x2="366.46" y2="564.28" stroke="#b8b8bc" stroke-width="0.8" />
<line x1="363.26" y1="568.72" x2="366.46" y2="568.72" stroke="#b8b8bc" stroke-width="0.8" />
<line x1="403.38" y1="576.86" x2="403.38" y2="584.26" stroke="#b8b8bc" stroke-width="0.8" />
<line x1="401.78" y1="576.86" x2="404.98" y2="576.86" stroke="#b8b8bc" stroke-width="0.8" />
<line x1="401.78" y1="584.26" x2="404.98" y2="584.26" stroke="#b8b8bc" stroke-width="0.8" />
<circle cx="274.98" cy="539.86" r="2.50" fill="#b8b8bc"/>
<circle cx="313.50" cy="530.24" r="2.50" fill="#b8b8bc"/>
<circle cx="339.18" cy="540.60" r="2.50" fill="#b8b8bc"/>
<circle cx="364.86" cy="566.50" r="2.50" fill="#b8b8bc"/>
<circle cx="403.38" cy="580.56" r="2.50" fill="#b8b8bc"/>
<polyline points="274.98,607.20 313.50,605.35 339.18,607.94 364.86,609.79 403.38,609.05" stroke="#111" stroke-width="1.3" fill="none" stroke-linejoin="round" />
<line x1="313.50" y1="601.65" x2="313.50" y2="609.05" stroke="#111" stroke-width="0.8" />
<line x1="311.90" y1="601.65" x2="315.10" y2="601.65" stroke="#111" stroke-width="0.8" />
<line x1="311.90" y1="609.05" x2="315.10" y2="609.05" stroke="#111" stroke-width="0.8" />
<line x1="339.18" y1="604.98" x2="339.18" y2="610.90" stroke="#111" stroke-width="0.8" />
<line x1="337.58" y1="604.98" x2="340.78" y2="604.98" stroke="#111" stroke-width="0.8" />
<line x1="337.58" y1="610.90" x2="340.78" y2="610.90" stroke="#111" stroke-width="0.8" />
<rect x="272.18" y="604.40" width="5.60" height="5.60" fill="none" stroke="#111" stroke-width="1.15" />
<rect x="310.70" y="602.55" width="5.60" height="5.60" fill="none" stroke="#111" stroke-width="1.15" />
<rect x="336.38" y="605.14" width="5.60" height="5.60" fill="none" stroke="#111" stroke-width="1.15" />
<rect x="362.06" y="606.99" width="5.60" height="5.60" fill="none" stroke="#111" stroke-width="1.15" />
<rect x="400.58" y="606.25" width="5.60" height="5.60" fill="none" stroke="#111" stroke-width="1.15" />
<polyline points="274.98,548.22 313.50,538.82 339.18,552.74 364.86,561.32 403.38,573.53" stroke="#e02830" stroke-width="1.0" fill="none" stroke-linejoin="round" />
<line x1="364.86" y1="556.88" x2="364.86" y2="565.76" stroke="#e02830" stroke-width="0.8" />
<line x1="363.26" y1="556.88" x2="366.46" y2="556.88" stroke="#e02830" stroke-width="0.8" />
<line x1="363.26" y1="565.76" x2="366.46" y2="565.76" stroke="#e02830" stroke-width="0.8" />
<line x1="403.38" y1="570.57" x2="403.38" y2="576.49" stroke="#e02830" stroke-width="0.8" />
<line x1="401.78" y1="570.57" x2="404.98" y2="570.57" stroke="#e02830" stroke-width="0.8" />
<line x1="401.78" y1="576.49" x2="404.98" y2="576.49" stroke="#e02830" stroke-width="0.8" />
<circle cx="274.98" cy="548.22" r="2.50" fill="#e02830"/>
<circle cx="313.50" cy="538.82" r="2.50" fill="#e02830"/>
<circle cx="339.18" cy="552.74" r="2.50" fill="#e02830"/>
<circle cx="364.86" cy="561.32" r="2.50" fill="#e02830"/>
<circle cx="403.38" cy="573.53" r="2.50" fill="#e02830"/>
<polyline points="274.98,545.78 313.50,532.61 339.18,534.68 364.86,540.60 403.38,546.52" stroke="#1f8a45" stroke-width="1.0" fill="none" stroke-linejoin="round" />
<line x1="364.86" y1="537.64" x2="364.86" y2="543.56" stroke="#1f8a45" stroke-width="0.8" />
<line x1="363.26" y1="537.64" x2="366.46" y2="537.64" stroke="#1f8a45" stroke-width="0.8" />
<line x1="363.26" y1="543.56" x2="366.46" y2="543.56" stroke="#1f8a45" stroke-width="0.8" />
<circle cx="274.98" cy="545.78" r="2.50" fill="#1f8a45"/>
<circle cx="313.50" cy="532.61" r="2.50" fill="#1f8a45"/>
<circle cx="339.18" cy="534.68" r="2.50" fill="#1f8a45"/>
<circle cx="364.86" cy="540.60" r="2.50" fill="#1f8a45"/>
<circle cx="403.38" cy="546.52" r="2.50" fill="#1f8a45"/>
<polyline points="274.98,537.79 313.50,530.24 339.18,531.87 364.86,546.82 403.38,564.13" stroke="#34489e" stroke-width="1.0" fill="none" stroke-linejoin="round" />
<circle cx="274.98" cy="537.79" r="2.50" fill="#34489e"/>
<circle cx="313.50" cy="530.24" r="2.50" fill="#34489e"/>
<circle cx="339.18" cy="531.87" r="2.50" fill="#34489e"/>
<circle cx="364.86" cy="546.82" r="2.50" fill="#34489e"/>
<circle cx="403.38" cy="564.13" r="2.50" fill="#34489e"/>
<line x1="427.30" y1="528.80" x2="439.70" y2="528.80" stroke="#1f8a45" stroke-width="0.9" />
<circle cx="433.50" cy="528.80" r="2.50" fill="#1f8a45"/>
<text x="444.30" y="531.77" font-size="8.25" font-weight="normal" text-anchor="start" fill="#333" >Clone 4-RSR</text>
<line x1="427.30" y1="543.20" x2="439.70" y2="543.20" stroke="#34489e" stroke-width="0.9" />
<circle cx="433.50" cy="543.20" r="2.50" fill="#34489e"/>
<text x="444.30" y="546.17" font-size="8.25" font-weight="normal" text-anchor="start" fill="#333" >Clone 7-R2S</text>
<line x1="427.30" y1="557.00" x2="439.70" y2="557.00" stroke="#e02830" stroke-width="0.9" />
<circle cx="433.50" cy="557.00" r="2.50" fill="#e02830"/>
<text x="444.30" y="559.97" font-size="8.25" font-weight="normal" text-anchor="start" fill="#333" >Clone 9-SR2</text>
<line x1="427.30" y1="571.10" x2="439.70" y2="571.10" stroke="#111" stroke-width="0.9" />
<rect x="430.90" y="568.50" width="5.20" height="5.20" fill="none" stroke="#111" stroke-width="1.092" />
<text x="444.30" y="574.07" font-size="8.25" font-weight="normal" text-anchor="start" fill="#333" >NTD</text>
<line x1="427.30" y1="585.40" x2="439.70" y2="585.40" stroke="#a8a8ac" stroke-width="0.9" />
<circle cx="433.50" cy="585.40" r="2.50" fill="#a8a8ac"/>
<text x="444.30" y="588.37" font-size="8.25" font-weight="normal" text-anchor="start" fill="#333" >Other clones</text>
</svg>
</body></html>
